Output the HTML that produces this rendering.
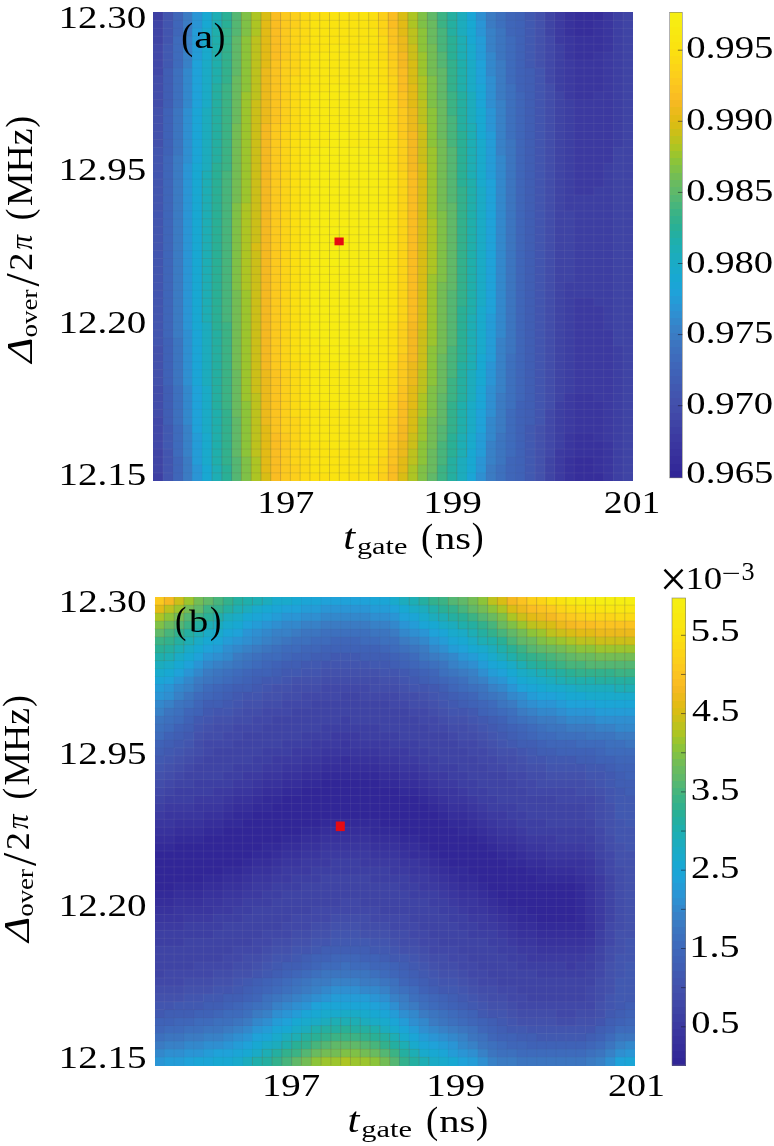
<!DOCTYPE html>
<html><head><meta charset="utf-8"><title>figure</title>
<style>
html,body{margin:0;padding:0;background:#fff}
svg{display:block}
text{font-family:"Liberation Serif","DejaVu Serif",serif;fill:#000}
</style></head><body>
<svg width="774" height="1146" viewBox="0 0 774 1146">
<rect width="774" height="1146" fill="#fff"/>
<g shape-rendering="crispEdges">
<rect x="153.30" y="12.40" width="10.09" height="8.24" fill="#3d3fa3"/>
<rect x="153.30" y="20.34" width="10.09" height="24.12" fill="#3f44a5"/>
<rect x="153.30" y="44.16" width="10.09" height="32.06" fill="#4148a8"/>
<rect x="153.30" y="75.91" width="10.09" height="32.06" fill="#424daa"/>
<rect x="153.30" y="107.67" width="10.09" height="39.99" fill="#4351ac"/>
<rect x="153.30" y="147.36" width="10.09" height="198.77" fill="#4255af"/>
<rect x="153.30" y="345.84" width="10.09" height="39.99" fill="#4351ac"/>
<rect x="153.30" y="385.53" width="10.09" height="32.06" fill="#424daa"/>
<rect x="153.30" y="417.29" width="10.09" height="32.06" fill="#4148a8"/>
<rect x="153.30" y="449.04" width="10.09" height="24.12" fill="#3f44a5"/>
<rect x="153.30" y="472.86" width="10.09" height="8.24" fill="#3d3fa3"/>
<rect x="163.09" y="12.40" width="10.09" height="32.06" fill="#4255af"/>
<rect x="163.09" y="44.16" width="10.09" height="24.12" fill="#4159b1"/>
<rect x="163.09" y="67.97" width="10.09" height="39.99" fill="#405eb4"/>
<rect x="163.09" y="107.67" width="10.09" height="47.93" fill="#3f62b7"/>
<rect x="163.09" y="155.30" width="10.09" height="182.90" fill="#3f66b9"/>
<rect x="163.09" y="337.90" width="10.09" height="47.93" fill="#3f62b7"/>
<rect x="163.09" y="385.53" width="10.09" height="39.99" fill="#405eb4"/>
<rect x="163.09" y="425.23" width="10.09" height="24.12" fill="#4159b1"/>
<rect x="163.09" y="449.04" width="10.09" height="32.06" fill="#4255af"/>
<rect x="172.88" y="12.40" width="10.09" height="24.12" fill="#3f66b9"/>
<rect x="172.88" y="36.22" width="10.09" height="32.06" fill="#3e6bbc"/>
<rect x="172.88" y="67.97" width="10.09" height="39.99" fill="#3d70be"/>
<rect x="172.88" y="107.67" width="10.09" height="47.93" fill="#3c75c0"/>
<rect x="172.88" y="155.30" width="10.09" height="182.90" fill="#3b7bc3"/>
<rect x="172.88" y="337.90" width="10.09" height="47.93" fill="#3c75c0"/>
<rect x="172.88" y="385.53" width="10.09" height="39.99" fill="#3d70be"/>
<rect x="172.88" y="425.23" width="10.09" height="32.06" fill="#3e6bbc"/>
<rect x="172.88" y="456.98" width="10.09" height="24.12" fill="#3f66b9"/>
<rect x="182.67" y="12.40" width="10.09" height="24.12" fill="#3b7bc3"/>
<rect x="182.67" y="36.22" width="10.09" height="32.06" fill="#3881c7"/>
<rect x="182.67" y="67.97" width="10.09" height="39.99" fill="#3388cc"/>
<rect x="182.67" y="107.67" width="10.09" height="55.87" fill="#2f8fd1"/>
<rect x="182.67" y="163.24" width="10.09" height="167.02" fill="#2a95d5"/>
<rect x="182.67" y="329.96" width="10.09" height="55.87" fill="#2f8fd1"/>
<rect x="182.67" y="385.53" width="10.09" height="39.99" fill="#3388cc"/>
<rect x="182.67" y="425.23" width="10.09" height="32.06" fill="#3881c7"/>
<rect x="182.67" y="456.98" width="10.09" height="24.12" fill="#3b7bc3"/>
<rect x="192.46" y="12.40" width="10.09" height="16.18" fill="#2a95d5"/>
<rect x="192.46" y="28.28" width="10.09" height="32.06" fill="#249cd7"/>
<rect x="192.46" y="60.03" width="10.09" height="47.93" fill="#1fa2d9"/>
<rect x="192.46" y="107.67" width="10.09" height="55.87" fill="#1ba5d6"/>
<rect x="192.46" y="163.24" width="10.09" height="167.02" fill="#18a8d2"/>
<rect x="192.46" y="329.96" width="10.09" height="55.87" fill="#1ba5d6"/>
<rect x="192.46" y="385.53" width="10.09" height="47.93" fill="#1fa2d9"/>
<rect x="192.46" y="433.17" width="10.09" height="32.06" fill="#249cd7"/>
<rect x="192.46" y="464.92" width="10.09" height="16.18" fill="#2a95d5"/>
<rect x="202.25" y="12.40" width="10.09" height="16.18" fill="#18a8d2"/>
<rect x="202.25" y="28.28" width="10.09" height="32.06" fill="#19aacc"/>
<rect x="202.25" y="60.03" width="10.09" height="47.93" fill="#1aabc6"/>
<rect x="202.25" y="107.67" width="10.09" height="63.81" fill="#1cacbd"/>
<rect x="202.25" y="171.18" width="10.09" height="151.14" fill="#1daeb5"/>
<rect x="202.25" y="322.02" width="10.09" height="63.81" fill="#1cacbd"/>
<rect x="202.25" y="385.53" width="10.09" height="47.93" fill="#1aabc6"/>
<rect x="202.25" y="433.17" width="10.09" height="32.06" fill="#19aacc"/>
<rect x="202.25" y="464.92" width="10.09" height="16.18" fill="#18a8d2"/>
<rect x="212.04" y="12.40" width="10.09" height="16.18" fill="#1daeb5"/>
<rect x="212.04" y="28.28" width="10.09" height="55.87" fill="#1fafac"/>
<rect x="212.04" y="83.85" width="10.09" height="79.69" fill="#24afa1"/>
<rect x="212.04" y="163.24" width="10.09" height="167.02" fill="#29b096"/>
<rect x="212.04" y="329.96" width="10.09" height="79.69" fill="#24afa1"/>
<rect x="212.04" y="409.35" width="10.09" height="55.87" fill="#1fafac"/>
<rect x="212.04" y="464.92" width="10.09" height="16.18" fill="#1daeb5"/>
<rect x="221.83" y="12.40" width="10.09" height="16.18" fill="#29b096"/>
<rect x="221.83" y="28.28" width="10.09" height="55.87" fill="#32b18d"/>
<rect x="221.83" y="83.85" width="10.09" height="87.63" fill="#3bb385"/>
<rect x="221.83" y="171.18" width="10.09" height="151.14" fill="#47b57c"/>
<rect x="221.83" y="322.02" width="10.09" height="87.63" fill="#3bb385"/>
<rect x="221.83" y="409.35" width="10.09" height="55.87" fill="#32b18d"/>
<rect x="221.83" y="464.92" width="10.09" height="16.18" fill="#29b096"/>
<rect x="231.62" y="12.40" width="10.09" height="24.12" fill="#54b773"/>
<rect x="231.62" y="36.22" width="10.09" height="39.99" fill="#60b969"/>
<rect x="231.62" y="75.91" width="10.09" height="47.93" fill="#69bb60"/>
<rect x="231.62" y="123.55" width="10.09" height="79.69" fill="#73bd55"/>
<rect x="231.62" y="202.94" width="10.09" height="87.63" fill="#7fc147"/>
<rect x="231.62" y="290.26" width="10.09" height="79.69" fill="#73bd55"/>
<rect x="231.62" y="369.65" width="10.09" height="47.93" fill="#69bb60"/>
<rect x="231.62" y="417.29" width="10.09" height="39.99" fill="#60b969"/>
<rect x="231.62" y="456.98" width="10.09" height="24.12" fill="#54b773"/>
<rect x="241.41" y="12.40" width="10.09" height="24.12" fill="#7fc147"/>
<rect x="241.41" y="36.22" width="10.09" height="55.87" fill="#8cc439"/>
<rect x="241.41" y="91.79" width="10.09" height="111.45" fill="#9cc52d"/>
<rect x="241.41" y="202.94" width="10.09" height="87.63" fill="#adc523"/>
<rect x="241.41" y="290.26" width="10.09" height="111.45" fill="#9cc52d"/>
<rect x="241.41" y="401.41" width="10.09" height="55.87" fill="#8cc439"/>
<rect x="241.41" y="456.98" width="10.09" height="24.12" fill="#7fc147"/>
<rect x="251.20" y="12.40" width="10.09" height="24.12" fill="#adc523"/>
<rect x="251.20" y="36.22" width="10.09" height="63.81" fill="#bdc21d"/>
<rect x="251.20" y="99.73" width="10.09" height="143.20" fill="#ccbf18"/>
<rect x="251.20" y="242.63" width="10.09" height="8.24" fill="#d9bd14"/>
<rect x="251.20" y="250.57" width="10.09" height="143.20" fill="#ccbf18"/>
<rect x="251.20" y="393.47" width="10.09" height="63.81" fill="#bdc21d"/>
<rect x="251.20" y="456.98" width="10.09" height="24.12" fill="#adc523"/>
<rect x="260.99" y="12.40" width="10.09" height="8.24" fill="#d9bd14"/>
<rect x="260.99" y="20.34" width="10.09" height="47.93" fill="#e3bb15"/>
<rect x="260.99" y="67.97" width="10.09" height="55.87" fill="#ecba1b"/>
<rect x="260.99" y="123.55" width="10.09" height="246.41" fill="#f5b921"/>
<rect x="260.99" y="369.65" width="10.09" height="55.87" fill="#ecba1b"/>
<rect x="260.99" y="425.23" width="10.09" height="47.93" fill="#e3bb15"/>
<rect x="260.99" y="472.86" width="10.09" height="8.24" fill="#d9bd14"/>
<rect x="270.78" y="12.40" width="10.09" height="47.93" fill="#fabd22"/>
<rect x="270.78" y="60.03" width="10.09" height="63.81" fill="#fbc320"/>
<rect x="270.78" y="123.55" width="10.09" height="246.41" fill="#fcc91e"/>
<rect x="270.78" y="369.65" width="10.09" height="63.81" fill="#fbc320"/>
<rect x="270.78" y="433.17" width="10.09" height="47.93" fill="#fabd22"/>
<rect x="280.57" y="12.40" width="10.09" height="47.93" fill="#fcc91e"/>
<rect x="280.57" y="60.03" width="10.09" height="63.81" fill="#fccf1b"/>
<rect x="280.57" y="123.55" width="10.09" height="246.41" fill="#fcd417"/>
<rect x="280.57" y="369.65" width="10.09" height="63.81" fill="#fccf1b"/>
<rect x="280.57" y="433.17" width="10.09" height="47.93" fill="#fcc91e"/>
<rect x="290.36" y="12.40" width="10.09" height="16.18" fill="#fccf1b"/>
<rect x="290.36" y="28.28" width="10.09" height="47.93" fill="#fcd417"/>
<rect x="290.36" y="75.91" width="10.09" height="55.87" fill="#fbda14"/>
<rect x="290.36" y="131.48" width="10.09" height="230.53" fill="#fbdf11"/>
<rect x="290.36" y="361.72" width="10.09" height="55.87" fill="#fbda14"/>
<rect x="290.36" y="417.29" width="10.09" height="47.93" fill="#fcd417"/>
<rect x="290.36" y="464.92" width="10.09" height="16.18" fill="#fccf1b"/>
<rect x="300.15" y="12.40" width="10.09" height="32.06" fill="#fbda14"/>
<rect x="300.15" y="44.16" width="10.09" height="39.99" fill="#fbdf11"/>
<rect x="300.15" y="83.85" width="10.09" height="55.87" fill="#fae310"/>
<rect x="300.15" y="139.42" width="10.09" height="214.65" fill="#f9e611"/>
<rect x="300.15" y="353.78" width="10.09" height="55.87" fill="#fae310"/>
<rect x="300.15" y="409.35" width="10.09" height="39.99" fill="#fbdf11"/>
<rect x="300.15" y="449.04" width="10.09" height="32.06" fill="#fbda14"/>
<rect x="309.94" y="12.40" width="10.09" height="8.24" fill="#fbdf11"/>
<rect x="309.94" y="20.34" width="10.09" height="32.06" fill="#fae310"/>
<rect x="309.94" y="52.09" width="10.09" height="39.99" fill="#f9e611"/>
<rect x="309.94" y="91.79" width="10.09" height="63.81" fill="#f8e911"/>
<rect x="309.94" y="155.30" width="10.09" height="182.90" fill="#f7ec12"/>
<rect x="309.94" y="337.90" width="10.09" height="63.81" fill="#f8e911"/>
<rect x="309.94" y="401.41" width="10.09" height="39.99" fill="#f9e611"/>
<rect x="309.94" y="441.11" width="10.09" height="32.06" fill="#fae310"/>
<rect x="309.94" y="472.86" width="10.09" height="8.24" fill="#fbdf11"/>
<rect x="319.73" y="12.40" width="10.09" height="8.24" fill="#fbdf11"/>
<rect x="319.73" y="20.34" width="10.09" height="32.06" fill="#fae310"/>
<rect x="319.73" y="52.09" width="10.09" height="39.99" fill="#f9e611"/>
<rect x="319.73" y="91.79" width="10.09" height="55.87" fill="#f8e911"/>
<rect x="319.73" y="147.36" width="10.09" height="198.77" fill="#f7ec12"/>
<rect x="319.73" y="345.84" width="10.09" height="55.87" fill="#f8e911"/>
<rect x="319.73" y="401.41" width="10.09" height="39.99" fill="#f9e611"/>
<rect x="319.73" y="441.11" width="10.09" height="32.06" fill="#fae310"/>
<rect x="319.73" y="472.86" width="10.09" height="8.24" fill="#fbdf11"/>
<rect x="329.52" y="12.40" width="10.09" height="32.06" fill="#fae310"/>
<rect x="329.52" y="44.16" width="10.09" height="39.99" fill="#f9e611"/>
<rect x="329.52" y="83.85" width="10.09" height="47.93" fill="#f8e911"/>
<rect x="329.52" y="131.48" width="10.09" height="95.57" fill="#f7ec12"/>
<rect x="329.52" y="226.75" width="10.09" height="39.99" fill="#f6ee12"/>
<rect x="329.52" y="266.45" width="10.09" height="95.57" fill="#f7ec12"/>
<rect x="329.52" y="361.72" width="10.09" height="47.93" fill="#f8e911"/>
<rect x="329.52" y="409.35" width="10.09" height="39.99" fill="#f9e611"/>
<rect x="329.52" y="449.04" width="10.09" height="32.06" fill="#fae310"/>
<rect x="339.31" y="12.40" width="10.09" height="32.06" fill="#fae310"/>
<rect x="339.31" y="44.16" width="10.09" height="39.99" fill="#f9e611"/>
<rect x="339.31" y="83.85" width="10.09" height="47.93" fill="#f8e911"/>
<rect x="339.31" y="131.48" width="10.09" height="95.57" fill="#f7ec12"/>
<rect x="339.31" y="226.75" width="10.09" height="39.99" fill="#f6ee12"/>
<rect x="339.31" y="266.45" width="10.09" height="95.57" fill="#f7ec12"/>
<rect x="339.31" y="361.72" width="10.09" height="47.93" fill="#f8e911"/>
<rect x="339.31" y="409.35" width="10.09" height="39.99" fill="#f9e611"/>
<rect x="339.31" y="449.04" width="10.09" height="32.06" fill="#fae310"/>
<rect x="349.10" y="12.40" width="10.09" height="8.24" fill="#fbdf11"/>
<rect x="349.10" y="20.34" width="10.09" height="32.06" fill="#fae310"/>
<rect x="349.10" y="52.09" width="10.09" height="39.99" fill="#f9e611"/>
<rect x="349.10" y="91.79" width="10.09" height="55.87" fill="#f8e911"/>
<rect x="349.10" y="147.36" width="10.09" height="198.77" fill="#f7ec12"/>
<rect x="349.10" y="345.84" width="10.09" height="55.87" fill="#f8e911"/>
<rect x="349.10" y="401.41" width="10.09" height="39.99" fill="#f9e611"/>
<rect x="349.10" y="441.11" width="10.09" height="32.06" fill="#fae310"/>
<rect x="349.10" y="472.86" width="10.09" height="8.24" fill="#fbdf11"/>
<rect x="358.89" y="12.40" width="10.09" height="32.06" fill="#fae310"/>
<rect x="358.89" y="44.16" width="10.09" height="39.99" fill="#f9e611"/>
<rect x="358.89" y="83.85" width="10.09" height="63.81" fill="#f8e911"/>
<rect x="358.89" y="147.36" width="10.09" height="198.77" fill="#f7ec12"/>
<rect x="358.89" y="345.84" width="10.09" height="63.81" fill="#f8e911"/>
<rect x="358.89" y="409.35" width="10.09" height="39.99" fill="#f9e611"/>
<rect x="358.89" y="449.04" width="10.09" height="32.06" fill="#fae310"/>
<rect x="368.68" y="12.40" width="10.09" height="16.18" fill="#fbdf11"/>
<rect x="368.68" y="28.28" width="10.09" height="32.06" fill="#fae310"/>
<rect x="368.68" y="60.03" width="10.09" height="39.99" fill="#f9e611"/>
<rect x="368.68" y="99.73" width="10.09" height="55.87" fill="#f8e911"/>
<rect x="368.68" y="155.30" width="10.09" height="182.90" fill="#f7ec12"/>
<rect x="368.68" y="337.90" width="10.09" height="55.87" fill="#f8e911"/>
<rect x="368.68" y="393.47" width="10.09" height="39.99" fill="#f9e611"/>
<rect x="368.68" y="433.17" width="10.09" height="32.06" fill="#fae310"/>
<rect x="368.68" y="464.92" width="10.09" height="16.18" fill="#fbdf11"/>
<rect x="378.47" y="12.40" width="10.09" height="8.24" fill="#fccf1b"/>
<rect x="378.47" y="20.34" width="10.09" height="16.18" fill="#fcd417"/>
<rect x="378.47" y="36.22" width="10.09" height="24.12" fill="#fbda14"/>
<rect x="378.47" y="60.03" width="10.09" height="24.12" fill="#fbdf11"/>
<rect x="378.47" y="83.85" width="10.09" height="32.06" fill="#fae310"/>
<rect x="378.47" y="115.61" width="10.09" height="47.93" fill="#f9e611"/>
<rect x="378.47" y="163.24" width="10.09" height="167.02" fill="#f8e911"/>
<rect x="378.47" y="329.96" width="10.09" height="47.93" fill="#f9e611"/>
<rect x="378.47" y="377.59" width="10.09" height="32.06" fill="#fae310"/>
<rect x="378.47" y="409.35" width="10.09" height="24.12" fill="#fbdf11"/>
<rect x="378.47" y="433.17" width="10.09" height="24.12" fill="#fbda14"/>
<rect x="378.47" y="456.98" width="10.09" height="16.18" fill="#fcd417"/>
<rect x="378.47" y="472.86" width="10.09" height="8.24" fill="#fccf1b"/>
<rect x="388.26" y="12.40" width="10.09" height="16.18" fill="#fabd22"/>
<rect x="388.26" y="28.28" width="10.09" height="16.18" fill="#fbc320"/>
<rect x="388.26" y="44.16" width="10.09" height="16.18" fill="#fcc91e"/>
<rect x="388.26" y="60.03" width="10.09" height="16.18" fill="#fccf1b"/>
<rect x="388.26" y="75.91" width="10.09" height="24.12" fill="#fcd417"/>
<rect x="388.26" y="99.73" width="10.09" height="32.06" fill="#fbda14"/>
<rect x="388.26" y="131.48" width="10.09" height="39.99" fill="#fbdf11"/>
<rect x="388.26" y="171.18" width="10.09" height="151.14" fill="#fae310"/>
<rect x="388.26" y="322.02" width="10.09" height="39.99" fill="#fbdf11"/>
<rect x="388.26" y="361.72" width="10.09" height="32.06" fill="#fbda14"/>
<rect x="388.26" y="393.47" width="10.09" height="24.12" fill="#fcd417"/>
<rect x="388.26" y="417.29" width="10.09" height="16.18" fill="#fccf1b"/>
<rect x="388.26" y="433.17" width="10.09" height="16.18" fill="#fcc91e"/>
<rect x="388.26" y="449.04" width="10.09" height="16.18" fill="#fbc320"/>
<rect x="388.26" y="464.92" width="10.09" height="16.18" fill="#fabd22"/>
<rect x="398.04" y="12.40" width="10.09" height="8.24" fill="#d9bd14"/>
<rect x="398.04" y="20.34" width="10.09" height="16.18" fill="#e3bb15"/>
<rect x="398.04" y="36.22" width="10.09" height="16.18" fill="#ecba1b"/>
<rect x="398.04" y="52.09" width="10.09" height="16.18" fill="#f5b921"/>
<rect x="398.04" y="67.97" width="10.09" height="24.12" fill="#fabd22"/>
<rect x="398.04" y="91.79" width="10.09" height="16.18" fill="#fbc320"/>
<rect x="398.04" y="107.67" width="10.09" height="32.06" fill="#fcc91e"/>
<rect x="398.04" y="139.42" width="10.09" height="32.06" fill="#fccf1b"/>
<rect x="398.04" y="171.18" width="10.09" height="151.14" fill="#fcd417"/>
<rect x="398.04" y="322.02" width="10.09" height="32.06" fill="#fccf1b"/>
<rect x="398.04" y="353.78" width="10.09" height="32.06" fill="#fcc91e"/>
<rect x="398.04" y="385.53" width="10.09" height="16.18" fill="#fbc320"/>
<rect x="398.04" y="401.41" width="10.09" height="24.12" fill="#fabd22"/>
<rect x="398.04" y="425.23" width="10.09" height="16.18" fill="#f5b921"/>
<rect x="398.04" y="441.11" width="10.09" height="16.18" fill="#ecba1b"/>
<rect x="398.04" y="456.98" width="10.09" height="16.18" fill="#e3bb15"/>
<rect x="398.04" y="472.86" width="10.09" height="8.24" fill="#d9bd14"/>
<rect x="407.83" y="12.40" width="10.09" height="16.18" fill="#adc523"/>
<rect x="407.83" y="28.28" width="10.09" height="16.18" fill="#bdc21d"/>
<rect x="407.83" y="44.16" width="10.09" height="16.18" fill="#ccbf18"/>
<rect x="407.83" y="60.03" width="10.09" height="24.12" fill="#d9bd14"/>
<rect x="407.83" y="83.85" width="10.09" height="24.12" fill="#e3bb15"/>
<rect x="407.83" y="107.67" width="10.09" height="24.12" fill="#ecba1b"/>
<rect x="407.83" y="131.48" width="10.09" height="39.99" fill="#f5b921"/>
<rect x="407.83" y="171.18" width="10.09" height="151.14" fill="#fabd22"/>
<rect x="407.83" y="322.02" width="10.09" height="39.99" fill="#f5b921"/>
<rect x="407.83" y="361.72" width="10.09" height="24.12" fill="#ecba1b"/>
<rect x="407.83" y="385.53" width="10.09" height="24.12" fill="#e3bb15"/>
<rect x="407.83" y="409.35" width="10.09" height="24.12" fill="#d9bd14"/>
<rect x="407.83" y="433.17" width="10.09" height="16.18" fill="#ccbf18"/>
<rect x="407.83" y="449.04" width="10.09" height="16.18" fill="#bdc21d"/>
<rect x="407.83" y="464.92" width="10.09" height="16.18" fill="#adc523"/>
<rect x="417.62" y="12.40" width="10.09" height="16.18" fill="#7fc147"/>
<rect x="417.62" y="28.28" width="10.09" height="24.12" fill="#8cc439"/>
<rect x="417.62" y="52.09" width="10.09" height="24.12" fill="#9cc52d"/>
<rect x="417.62" y="75.91" width="10.09" height="24.12" fill="#adc523"/>
<rect x="417.62" y="99.73" width="10.09" height="24.12" fill="#bdc21d"/>
<rect x="417.62" y="123.55" width="10.09" height="39.99" fill="#ccbf18"/>
<rect x="417.62" y="163.24" width="10.09" height="167.02" fill="#d9bd14"/>
<rect x="417.62" y="329.96" width="10.09" height="39.99" fill="#ccbf18"/>
<rect x="417.62" y="369.65" width="10.09" height="24.12" fill="#bdc21d"/>
<rect x="417.62" y="393.47" width="10.09" height="24.12" fill="#adc523"/>
<rect x="417.62" y="417.29" width="10.09" height="24.12" fill="#9cc52d"/>
<rect x="417.62" y="441.11" width="10.09" height="24.12" fill="#8cc439"/>
<rect x="417.62" y="464.92" width="10.09" height="16.18" fill="#7fc147"/>
<rect x="427.41" y="12.40" width="10.09" height="8.24" fill="#60b969"/>
<rect x="427.41" y="20.34" width="10.09" height="24.12" fill="#69bb60"/>
<rect x="427.41" y="44.16" width="10.09" height="32.06" fill="#73bd55"/>
<rect x="427.41" y="75.91" width="10.09" height="32.06" fill="#7fc147"/>
<rect x="427.41" y="107.67" width="10.09" height="39.99" fill="#8cc439"/>
<rect x="427.41" y="147.36" width="10.09" height="71.75" fill="#9cc52d"/>
<rect x="427.41" y="218.81" width="10.09" height="55.87" fill="#adc523"/>
<rect x="427.41" y="274.39" width="10.09" height="71.75" fill="#9cc52d"/>
<rect x="427.41" y="345.84" width="10.09" height="39.99" fill="#8cc439"/>
<rect x="427.41" y="385.53" width="10.09" height="32.06" fill="#7fc147"/>
<rect x="427.41" y="417.29" width="10.09" height="32.06" fill="#73bd55"/>
<rect x="427.41" y="449.04" width="10.09" height="24.12" fill="#69bb60"/>
<rect x="427.41" y="472.86" width="10.09" height="8.24" fill="#60b969"/>
<rect x="437.20" y="12.40" width="10.09" height="16.18" fill="#3bb385"/>
<rect x="437.20" y="28.28" width="10.09" height="24.12" fill="#47b57c"/>
<rect x="437.20" y="52.09" width="10.09" height="16.18" fill="#54b773"/>
<rect x="437.20" y="67.97" width="10.09" height="32.06" fill="#60b969"/>
<rect x="437.20" y="99.73" width="10.09" height="39.99" fill="#69bb60"/>
<rect x="437.20" y="139.42" width="10.09" height="71.75" fill="#73bd55"/>
<rect x="437.20" y="210.87" width="10.09" height="71.75" fill="#7fc147"/>
<rect x="437.20" y="282.33" width="10.09" height="71.75" fill="#73bd55"/>
<rect x="437.20" y="353.78" width="10.09" height="39.99" fill="#69bb60"/>
<rect x="437.20" y="393.47" width="10.09" height="32.06" fill="#60b969"/>
<rect x="437.20" y="425.23" width="10.09" height="16.18" fill="#54b773"/>
<rect x="437.20" y="441.11" width="10.09" height="24.12" fill="#47b57c"/>
<rect x="437.20" y="464.92" width="10.09" height="16.18" fill="#3bb385"/>
<rect x="446.99" y="12.40" width="10.09" height="24.12" fill="#24afa1"/>
<rect x="446.99" y="36.22" width="10.09" height="24.12" fill="#29b096"/>
<rect x="446.99" y="60.03" width="10.09" height="32.06" fill="#32b18d"/>
<rect x="446.99" y="91.79" width="10.09" height="24.12" fill="#3bb385"/>
<rect x="446.99" y="115.61" width="10.09" height="32.06" fill="#47b57c"/>
<rect x="446.99" y="147.36" width="10.09" height="55.87" fill="#54b773"/>
<rect x="446.99" y="202.94" width="10.09" height="87.63" fill="#60b969"/>
<rect x="446.99" y="290.26" width="10.09" height="55.87" fill="#54b773"/>
<rect x="446.99" y="345.84" width="10.09" height="32.06" fill="#47b57c"/>
<rect x="446.99" y="377.59" width="10.09" height="24.12" fill="#3bb385"/>
<rect x="446.99" y="401.41" width="10.09" height="32.06" fill="#32b18d"/>
<rect x="446.99" y="433.17" width="10.09" height="24.12" fill="#29b096"/>
<rect x="446.99" y="456.98" width="10.09" height="24.12" fill="#24afa1"/>
<rect x="456.78" y="12.40" width="10.09" height="24.12" fill="#1cacbd"/>
<rect x="456.78" y="36.22" width="10.09" height="24.12" fill="#1daeb5"/>
<rect x="456.78" y="60.03" width="10.09" height="32.06" fill="#1fafac"/>
<rect x="456.78" y="91.79" width="10.09" height="39.99" fill="#24afa1"/>
<rect x="456.78" y="131.48" width="10.09" height="55.87" fill="#29b096"/>
<rect x="456.78" y="187.06" width="10.09" height="119.38" fill="#32b18d"/>
<rect x="456.78" y="306.14" width="10.09" height="55.87" fill="#29b096"/>
<rect x="456.78" y="361.72" width="10.09" height="39.99" fill="#24afa1"/>
<rect x="456.78" y="401.41" width="10.09" height="32.06" fill="#1fafac"/>
<rect x="456.78" y="433.17" width="10.09" height="24.12" fill="#1daeb5"/>
<rect x="456.78" y="456.98" width="10.09" height="24.12" fill="#1cacbd"/>
<rect x="466.57" y="12.40" width="10.09" height="8.24" fill="#1ba5d6"/>
<rect x="466.57" y="20.34" width="10.09" height="24.12" fill="#18a8d2"/>
<rect x="466.57" y="44.16" width="10.09" height="16.18" fill="#19aacc"/>
<rect x="466.57" y="60.03" width="10.09" height="32.06" fill="#1aabc6"/>
<rect x="466.57" y="91.79" width="10.09" height="32.06" fill="#1cacbd"/>
<rect x="466.57" y="123.55" width="10.09" height="55.87" fill="#1daeb5"/>
<rect x="466.57" y="179.12" width="10.09" height="135.26" fill="#1fafac"/>
<rect x="466.57" y="314.08" width="10.09" height="55.87" fill="#1daeb5"/>
<rect x="466.57" y="369.65" width="10.09" height="32.06" fill="#1cacbd"/>
<rect x="466.57" y="401.41" width="10.09" height="32.06" fill="#1aabc6"/>
<rect x="466.57" y="433.17" width="10.09" height="16.18" fill="#19aacc"/>
<rect x="466.57" y="449.04" width="10.09" height="24.12" fill="#18a8d2"/>
<rect x="466.57" y="472.86" width="10.09" height="8.24" fill="#1ba5d6"/>
<rect x="476.36" y="12.40" width="10.09" height="8.24" fill="#2f8fd1"/>
<rect x="476.36" y="20.34" width="10.09" height="16.18" fill="#2a95d5"/>
<rect x="476.36" y="36.22" width="10.09" height="24.12" fill="#249cd7"/>
<rect x="476.36" y="60.03" width="10.09" height="24.12" fill="#1fa2d9"/>
<rect x="476.36" y="83.85" width="10.09" height="24.12" fill="#1ba5d6"/>
<rect x="476.36" y="107.67" width="10.09" height="32.06" fill="#18a8d2"/>
<rect x="476.36" y="139.42" width="10.09" height="47.93" fill="#19aacc"/>
<rect x="476.36" y="187.06" width="10.09" height="119.38" fill="#1aabc6"/>
<rect x="476.36" y="306.14" width="10.09" height="47.93" fill="#19aacc"/>
<rect x="476.36" y="353.78" width="10.09" height="32.06" fill="#18a8d2"/>
<rect x="476.36" y="385.53" width="10.09" height="24.12" fill="#1ba5d6"/>
<rect x="476.36" y="409.35" width="10.09" height="24.12" fill="#1fa2d9"/>
<rect x="476.36" y="433.17" width="10.09" height="24.12" fill="#249cd7"/>
<rect x="476.36" y="456.98" width="10.09" height="16.18" fill="#2a95d5"/>
<rect x="476.36" y="472.86" width="10.09" height="8.24" fill="#2f8fd1"/>
<rect x="486.15" y="12.40" width="10.09" height="16.18" fill="#3b7bc3"/>
<rect x="486.15" y="28.28" width="10.09" height="24.12" fill="#3881c7"/>
<rect x="486.15" y="52.09" width="10.09" height="24.12" fill="#3388cc"/>
<rect x="486.15" y="75.91" width="10.09" height="32.06" fill="#2f8fd1"/>
<rect x="486.15" y="107.67" width="10.09" height="24.12" fill="#2a95d5"/>
<rect x="486.15" y="131.48" width="10.09" height="47.93" fill="#249cd7"/>
<rect x="486.15" y="179.12" width="10.09" height="135.26" fill="#1fa2d9"/>
<rect x="486.15" y="314.08" width="10.09" height="47.93" fill="#249cd7"/>
<rect x="486.15" y="361.72" width="10.09" height="24.12" fill="#2a95d5"/>
<rect x="486.15" y="385.53" width="10.09" height="32.06" fill="#2f8fd1"/>
<rect x="486.15" y="417.29" width="10.09" height="24.12" fill="#3388cc"/>
<rect x="486.15" y="441.11" width="10.09" height="24.12" fill="#3881c7"/>
<rect x="486.15" y="464.92" width="10.09" height="16.18" fill="#3b7bc3"/>
<rect x="495.94" y="12.40" width="10.09" height="16.18" fill="#3d70be"/>
<rect x="495.94" y="28.28" width="10.09" height="32.06" fill="#3c75c0"/>
<rect x="495.94" y="60.03" width="10.09" height="39.99" fill="#3b7bc3"/>
<rect x="495.94" y="99.73" width="10.09" height="55.87" fill="#3881c7"/>
<rect x="495.94" y="155.30" width="10.09" height="182.90" fill="#3388cc"/>
<rect x="495.94" y="337.90" width="10.09" height="55.87" fill="#3881c7"/>
<rect x="495.94" y="393.47" width="10.09" height="39.99" fill="#3b7bc3"/>
<rect x="495.94" y="433.17" width="10.09" height="32.06" fill="#3c75c0"/>
<rect x="495.94" y="464.92" width="10.09" height="16.18" fill="#3d70be"/>
<rect x="505.73" y="12.40" width="10.09" height="24.12" fill="#3f66b9"/>
<rect x="505.73" y="36.22" width="10.09" height="47.93" fill="#3e6bbc"/>
<rect x="505.73" y="83.85" width="10.09" height="55.87" fill="#3d70be"/>
<rect x="505.73" y="139.42" width="10.09" height="214.65" fill="#3c75c0"/>
<rect x="505.73" y="353.78" width="10.09" height="55.87" fill="#3d70be"/>
<rect x="505.73" y="409.35" width="10.09" height="47.93" fill="#3e6bbc"/>
<rect x="505.73" y="456.98" width="10.09" height="24.12" fill="#3f66b9"/>
<rect x="515.52" y="12.40" width="10.09" height="79.69" fill="#3f62b7"/>
<rect x="515.52" y="91.79" width="10.09" height="309.92" fill="#3f66b9"/>
<rect x="515.52" y="401.41" width="10.09" height="79.69" fill="#3f62b7"/>
<rect x="525.31" y="12.40" width="10.09" height="55.87" fill="#4159b1"/>
<rect x="525.31" y="67.97" width="10.09" height="357.55" fill="#405eb4"/>
<rect x="525.31" y="425.23" width="10.09" height="55.87" fill="#4159b1"/>
<rect x="535.10" y="12.40" width="10.09" height="55.87" fill="#4351ac"/>
<rect x="535.10" y="67.97" width="10.09" height="357.55" fill="#4255af"/>
<rect x="535.10" y="425.23" width="10.09" height="55.87" fill="#4351ac"/>
<rect x="544.89" y="12.40" width="10.09" height="24.12" fill="#3f44a5"/>
<rect x="544.89" y="36.22" width="10.09" height="47.93" fill="#4148a8"/>
<rect x="544.89" y="83.85" width="10.09" height="325.80" fill="#424daa"/>
<rect x="544.89" y="409.35" width="10.09" height="47.93" fill="#4148a8"/>
<rect x="544.89" y="456.98" width="10.09" height="24.12" fill="#3f44a5"/>
<rect x="554.68" y="12.40" width="10.09" height="32.06" fill="#3c3aa1"/>
<rect x="554.68" y="44.16" width="10.09" height="47.93" fill="#3d3fa3"/>
<rect x="554.68" y="91.79" width="10.09" height="309.92" fill="#3f44a5"/>
<rect x="554.68" y="401.41" width="10.09" height="47.93" fill="#3d3fa3"/>
<rect x="554.68" y="449.04" width="10.09" height="32.06" fill="#3c3aa1"/>
<rect x="564.47" y="12.40" width="10.09" height="24.12" fill="#38329d"/>
<rect x="564.47" y="36.22" width="10.09" height="24.12" fill="#3a369f"/>
<rect x="564.47" y="60.03" width="10.09" height="39.99" fill="#3c3aa1"/>
<rect x="564.47" y="99.73" width="10.09" height="111.45" fill="#3d3fa3"/>
<rect x="564.47" y="210.87" width="10.09" height="71.75" fill="#3f44a5"/>
<rect x="564.47" y="282.33" width="10.09" height="111.45" fill="#3d3fa3"/>
<rect x="564.47" y="393.47" width="10.09" height="39.99" fill="#3c3aa1"/>
<rect x="564.47" y="433.17" width="10.09" height="24.12" fill="#3a369f"/>
<rect x="564.47" y="456.98" width="10.09" height="24.12" fill="#38329d"/>
<rect x="574.26" y="12.40" width="10.09" height="24.12" fill="#362e9b"/>
<rect x="574.26" y="36.22" width="10.09" height="24.12" fill="#38329d"/>
<rect x="574.26" y="60.03" width="10.09" height="39.99" fill="#3a369f"/>
<rect x="574.26" y="99.73" width="10.09" height="95.57" fill="#3c3aa1"/>
<rect x="574.26" y="195.00" width="10.09" height="103.51" fill="#3d3fa3"/>
<rect x="574.26" y="298.20" width="10.09" height="95.57" fill="#3c3aa1"/>
<rect x="574.26" y="393.47" width="10.09" height="39.99" fill="#3a369f"/>
<rect x="574.26" y="433.17" width="10.09" height="24.12" fill="#38329d"/>
<rect x="574.26" y="456.98" width="10.09" height="24.12" fill="#362e9b"/>
<rect x="584.05" y="12.40" width="10.09" height="24.12" fill="#362e9b"/>
<rect x="584.05" y="36.22" width="10.09" height="24.12" fill="#38329d"/>
<rect x="584.05" y="60.03" width="10.09" height="39.99" fill="#3a369f"/>
<rect x="584.05" y="99.73" width="10.09" height="95.57" fill="#3c3aa1"/>
<rect x="584.05" y="195.00" width="10.09" height="103.51" fill="#3d3fa3"/>
<rect x="584.05" y="298.20" width="10.09" height="95.57" fill="#3c3aa1"/>
<rect x="584.05" y="393.47" width="10.09" height="39.99" fill="#3a369f"/>
<rect x="584.05" y="433.17" width="10.09" height="24.12" fill="#38329d"/>
<rect x="584.05" y="456.98" width="10.09" height="24.12" fill="#362e9b"/>
<rect x="593.84" y="12.40" width="10.09" height="8.24" fill="#362e9b"/>
<rect x="593.84" y="20.34" width="10.09" height="32.06" fill="#38329d"/>
<rect x="593.84" y="52.09" width="10.09" height="39.99" fill="#3a369f"/>
<rect x="593.84" y="91.79" width="10.09" height="95.57" fill="#3c3aa1"/>
<rect x="593.84" y="187.06" width="10.09" height="119.38" fill="#3d3fa3"/>
<rect x="593.84" y="306.14" width="10.09" height="95.57" fill="#3c3aa1"/>
<rect x="593.84" y="401.41" width="10.09" height="39.99" fill="#3a369f"/>
<rect x="593.84" y="441.11" width="10.09" height="32.06" fill="#38329d"/>
<rect x="593.84" y="472.86" width="10.09" height="8.24" fill="#362e9b"/>
<rect x="603.63" y="12.40" width="10.09" height="39.99" fill="#3a369f"/>
<rect x="603.63" y="52.09" width="10.09" height="111.45" fill="#3c3aa1"/>
<rect x="603.63" y="163.24" width="10.09" height="167.02" fill="#3d3fa3"/>
<rect x="603.63" y="329.96" width="10.09" height="111.45" fill="#3c3aa1"/>
<rect x="603.63" y="441.11" width="10.09" height="39.99" fill="#3a369f"/>
<rect x="613.42" y="12.40" width="10.09" height="135.26" fill="#3d3fa3"/>
<rect x="613.42" y="147.36" width="10.09" height="198.77" fill="#3f44a5"/>
<rect x="613.42" y="345.84" width="10.09" height="135.26" fill="#3d3fa3"/>
<rect x="623.21" y="12.40" width="10.09" height="468.70" fill="#3f44a5"/>
</g>
<path d="M163.09 12.40V67.97M163.09 425.23V480.80M535.10 12.40V67.97M535.10 425.23V480.80M544.89 12.40V480.80M554.68 12.40V480.80M564.47 12.40V480.80M574.26 12.40V480.80M584.05 12.40V480.80M593.84 12.40V480.80M603.63 12.40V480.80M613.42 12.40V480.80M623.21 12.40V480.80M153.30 20.34H172.88M525.31 20.34H633.00M153.30 28.28H172.88M525.31 28.28H633.00M153.30 36.22H172.88M525.31 36.22H633.00M153.30 44.16H172.88M525.31 44.16H633.00M153.30 52.09H172.88M525.31 52.09H633.00M153.30 60.03H172.88M525.31 60.03H633.00M153.30 67.97H163.09M535.10 67.97H633.00M153.30 75.91H163.09M535.10 75.91H633.00M153.30 83.85H163.09M535.10 83.85H633.00M153.30 91.79H163.09M535.10 91.79H633.00M153.30 99.73H163.09M535.10 99.73H633.00M153.30 107.67H163.09M535.10 107.67H633.00M153.30 115.61H163.09M535.10 115.61H633.00M153.30 123.55H163.09M535.10 123.55H633.00M153.30 131.48H163.09M535.10 131.48H633.00M153.30 139.42H163.09M535.10 139.42H633.00M153.30 147.36H163.09M535.10 147.36H633.00M153.30 155.30H163.09M535.10 155.30H633.00M153.30 163.24H163.09M535.10 163.24H633.00M153.30 171.18H163.09M535.10 171.18H633.00M153.30 179.12H163.09M535.10 179.12H633.00M153.30 187.06H163.09M535.10 187.06H633.00M153.30 195.00H163.09M535.10 195.00H633.00M153.30 202.94H163.09M535.10 202.94H633.00M153.30 210.87H163.09M535.10 210.87H633.00M153.30 218.81H163.09M535.10 218.81H633.00M153.30 226.75H163.09M535.10 226.75H633.00M153.30 234.69H163.09M535.10 234.69H633.00M153.30 242.63H163.09M535.10 242.63H633.00M153.30 250.57H163.09M535.10 250.57H633.00M153.30 258.51H163.09M535.10 258.51H633.00M153.30 266.45H163.09M535.10 266.45H633.00M153.30 274.39H163.09M535.10 274.39H633.00M153.30 282.33H163.09M535.10 282.33H633.00M153.30 290.26H163.09M535.10 290.26H633.00M153.30 298.20H163.09M535.10 298.20H633.00M153.30 306.14H163.09M535.10 306.14H633.00M153.30 314.08H163.09M535.10 314.08H633.00M153.30 322.02H163.09M535.10 322.02H633.00M153.30 329.96H163.09M535.10 329.96H633.00M153.30 337.90H163.09M535.10 337.90H633.00M153.30 345.84H163.09M535.10 345.84H633.00M153.30 353.78H163.09M535.10 353.78H633.00M153.30 361.72H163.09M535.10 361.72H633.00M153.30 369.65H163.09M535.10 369.65H633.00M153.30 377.59H163.09M535.10 377.59H633.00M153.30 385.53H163.09M535.10 385.53H633.00M153.30 393.47H163.09M535.10 393.47H633.00M153.30 401.41H163.09M535.10 401.41H633.00M153.30 409.35H163.09M535.10 409.35H633.00M153.30 417.29H163.09M535.10 417.29H633.00M153.30 425.23H163.09M535.10 425.23H633.00M153.30 433.17H172.88M525.31 433.17H633.00M153.30 441.11H172.88M525.31 441.11H633.00M153.30 449.04H172.88M525.31 449.04H633.00M153.30 456.98H172.88M525.31 456.98H633.00M153.30 464.92H172.88M525.31 464.92H633.00M153.30 472.86H172.88M525.31 472.86H633.00" stroke="#b0b0b8" stroke-opacity="0.16" stroke-width="0.6" fill="none"/>
<path d="M163.09 67.97V425.23M172.88 12.40V480.80M182.67 12.40V480.80M192.46 12.40V480.80M202.25 12.40V171.18M202.25 322.02V480.80M466.57 12.40V36.22M466.57 456.98V480.80M476.36 12.40V123.55M476.36 369.65V480.80M486.15 12.40V480.80M495.94 12.40V480.80M505.73 12.40V480.80M515.52 12.40V480.80M525.31 12.40V480.80M535.10 67.97V425.23M172.88 20.34H212.04M456.78 20.34H525.31M172.88 28.28H212.04M456.78 28.28H525.31M172.88 36.22H212.04M466.57 36.22H525.31M172.88 44.16H212.04M466.57 44.16H525.31M172.88 52.09H212.04M466.57 52.09H525.31M172.88 60.03H212.04M466.57 60.03H525.31M163.09 67.97H212.04M466.57 67.97H535.10M163.09 75.91H212.04M466.57 75.91H535.10M163.09 83.85H212.04M466.57 83.85H535.10M163.09 91.79H212.04M466.57 91.79H535.10M163.09 99.73H212.04M466.57 99.73H535.10M163.09 107.67H212.04M466.57 107.67H535.10M163.09 115.61H212.04M466.57 115.61H535.10M163.09 123.55H212.04M476.36 123.55H535.10M163.09 131.48H212.04M476.36 131.48H535.10M163.09 139.42H212.04M476.36 139.42H535.10M163.09 147.36H212.04M476.36 147.36H535.10M163.09 155.30H212.04M476.36 155.30H535.10M163.09 163.24H212.04M476.36 163.24H535.10M163.09 171.18H202.25M476.36 171.18H535.10M163.09 179.12H202.25M476.36 179.12H535.10M163.09 187.06H202.25M476.36 187.06H535.10M163.09 195.00H202.25M476.36 195.00H535.10M163.09 202.94H202.25M476.36 202.94H535.10M163.09 210.87H202.25M476.36 210.87H535.10M163.09 218.81H202.25M476.36 218.81H535.10M163.09 226.75H202.25M476.36 226.75H535.10M163.09 234.69H202.25M476.36 234.69H535.10M163.09 242.63H202.25M476.36 242.63H535.10M163.09 250.57H202.25M476.36 250.57H535.10M163.09 258.51H202.25M476.36 258.51H535.10M163.09 266.45H202.25M476.36 266.45H535.10M163.09 274.39H202.25M476.36 274.39H535.10M163.09 282.33H202.25M476.36 282.33H535.10M163.09 290.26H202.25M476.36 290.26H535.10M163.09 298.20H202.25M476.36 298.20H535.10M163.09 306.14H202.25M476.36 306.14H535.10M163.09 314.08H202.25M476.36 314.08H535.10M163.09 322.02H202.25M476.36 322.02H535.10M163.09 329.96H212.04M476.36 329.96H535.10M163.09 337.90H212.04M476.36 337.90H535.10M163.09 345.84H212.04M476.36 345.84H535.10M163.09 353.78H212.04M476.36 353.78H535.10M163.09 361.72H212.04M476.36 361.72H535.10M163.09 369.65H212.04M476.36 369.65H535.10M163.09 377.59H212.04M466.57 377.59H535.10M163.09 385.53H212.04M466.57 385.53H535.10M163.09 393.47H212.04M466.57 393.47H535.10M163.09 401.41H212.04M466.57 401.41H535.10M163.09 409.35H212.04M466.57 409.35H535.10M163.09 417.29H212.04M466.57 417.29H535.10M163.09 425.23H212.04M466.57 425.23H535.10M172.88 433.17H212.04M466.57 433.17H525.31M172.88 441.11H212.04M466.57 441.11H525.31M172.88 449.04H212.04M466.57 449.04H525.31M172.88 456.98H212.04M466.57 456.98H525.31M172.88 464.92H212.04M456.78 464.92H525.31M172.88 472.86H212.04M456.78 472.86H525.31" stroke="#5a5a60" stroke-opacity="0.12" stroke-width="0.6" fill="none"/>
<path d="M202.25 171.18V322.02M212.04 12.40V480.80M221.83 12.40V480.80M231.62 12.40V480.80M241.41 12.40V480.80M251.20 12.40V480.80M260.99 12.40V480.80M270.78 12.40V480.80M280.57 12.40V480.80M290.36 12.40V480.80M300.15 12.40V480.80M309.94 12.40V480.80M319.73 12.40V480.80M329.52 12.40V480.80M339.31 12.40V480.80M349.10 12.40V480.80M358.89 12.40V480.80M368.68 12.40V480.80M378.47 12.40V480.80M388.26 12.40V480.80M398.04 12.40V480.80M407.83 12.40V480.80M417.62 12.40V480.80M427.41 12.40V480.80M437.20 12.40V480.80M446.99 12.40V480.80M456.78 12.40V480.80M466.57 36.22V456.98M476.36 123.55V369.65" stroke="#6a6650" stroke-opacity="0.5" stroke-width="0.6" fill="none"/>
<path d="M212.04 20.34H456.78M212.04 28.28H456.78M212.04 36.22H466.57M212.04 44.16H466.57M212.04 52.09H466.57M212.04 60.03H466.57M212.04 67.97H466.57M212.04 75.91H466.57M212.04 83.85H466.57M212.04 91.79H466.57M212.04 99.73H466.57M212.04 107.67H466.57M212.04 115.61H466.57M212.04 123.55H476.36M212.04 131.48H476.36M212.04 139.42H476.36M212.04 147.36H476.36M212.04 155.30H476.36M212.04 163.24H476.36M202.25 171.18H476.36M202.25 179.12H476.36M202.25 187.06H476.36M202.25 195.00H476.36M202.25 202.94H476.36M202.25 210.87H476.36M202.25 218.81H476.36M202.25 226.75H476.36M202.25 234.69H476.36M202.25 242.63H476.36M202.25 250.57H476.36M202.25 258.51H476.36M202.25 266.45H476.36M202.25 274.39H476.36M202.25 282.33H476.36M202.25 290.26H476.36M202.25 298.20H476.36M202.25 306.14H476.36M202.25 314.08H476.36M202.25 322.02H476.36M212.04 329.96H476.36M212.04 337.90H476.36M212.04 345.84H476.36M212.04 353.78H476.36M212.04 361.72H476.36M212.04 369.65H476.36M212.04 377.59H466.57M212.04 385.53H466.57M212.04 393.47H466.57M212.04 401.41H466.57M212.04 409.35H466.57M212.04 417.29H466.57M212.04 425.23H466.57M212.04 433.17H466.57M212.04 441.11H466.57M212.04 449.04H466.57M212.04 456.98H466.57M212.04 464.92H456.78M212.04 472.86H456.78" stroke="#6a6650" stroke-opacity="0.32" stroke-width="0.6" fill="none"/>
<g shape-rendering="crispEdges">
<rect x="154.50" y="597.20" width="10.10" height="8.23" fill="#fcc91e"/>
<rect x="154.50" y="605.13" width="10.10" height="8.23" fill="#e3bb15"/>
<rect x="154.50" y="613.06" width="10.10" height="8.23" fill="#adc523"/>
<rect x="154.50" y="621.00" width="10.10" height="8.23" fill="#7fc147"/>
<rect x="154.50" y="628.93" width="10.10" height="8.23" fill="#60b969"/>
<rect x="154.50" y="636.86" width="10.10" height="8.23" fill="#3bb385"/>
<rect x="154.50" y="644.79" width="10.10" height="8.23" fill="#29b096"/>
<rect x="154.50" y="652.73" width="10.10" height="8.23" fill="#1fafac"/>
<rect x="154.50" y="660.66" width="10.10" height="8.23" fill="#1cacbd"/>
<rect x="154.50" y="668.59" width="10.10" height="8.23" fill="#19aacc"/>
<rect x="154.50" y="676.52" width="10.10" height="8.23" fill="#1ba5d6"/>
<rect x="154.50" y="684.45" width="10.10" height="8.23" fill="#249cd7"/>
<rect x="154.50" y="692.39" width="10.10" height="8.23" fill="#2a95d5"/>
<rect x="154.50" y="700.32" width="10.10" height="8.23" fill="#3388cc"/>
<rect x="154.50" y="708.25" width="10.10" height="8.23" fill="#3881c7"/>
<rect x="154.50" y="716.18" width="10.10" height="8.23" fill="#3c75c0"/>
<rect x="154.50" y="724.12" width="10.10" height="8.23" fill="#3d70be"/>
<rect x="154.50" y="732.05" width="10.10" height="8.23" fill="#3e6bbc"/>
<rect x="154.50" y="739.98" width="10.10" height="8.23" fill="#3f62b7"/>
<rect x="154.50" y="747.91" width="10.10" height="8.23" fill="#405eb4"/>
<rect x="154.50" y="755.84" width="10.10" height="8.23" fill="#4159b1"/>
<rect x="154.50" y="763.78" width="10.10" height="8.23" fill="#4255af"/>
<rect x="154.50" y="771.71" width="10.10" height="8.23" fill="#4351ac"/>
<rect x="154.50" y="779.64" width="10.10" height="8.23" fill="#424daa"/>
<rect x="154.50" y="787.57" width="10.10" height="8.23" fill="#4148a8"/>
<rect x="154.50" y="795.51" width="10.10" height="8.23" fill="#3f44a5"/>
<rect x="154.50" y="803.44" width="10.10" height="8.23" fill="#3d3fa3"/>
<rect x="154.50" y="811.37" width="10.10" height="8.23" fill="#3c3aa1"/>
<rect x="154.50" y="819.30" width="10.10" height="8.23" fill="#3a369f"/>
<rect x="154.50" y="827.23" width="10.10" height="8.23" fill="#38329d"/>
<rect x="154.50" y="835.17" width="10.10" height="8.23" fill="#362e9b"/>
<rect x="154.50" y="843.10" width="10.10" height="8.23" fill="#332a99"/>
<rect x="154.50" y="851.03" width="10.10" height="39.96" fill="#312697"/>
<rect x="154.50" y="890.69" width="10.10" height="8.23" fill="#332a99"/>
<rect x="154.50" y="898.62" width="10.10" height="8.23" fill="#362e9b"/>
<rect x="154.50" y="906.56" width="10.10" height="8.23" fill="#38329d"/>
<rect x="154.50" y="914.49" width="10.10" height="8.23" fill="#3a369f"/>
<rect x="154.50" y="922.42" width="10.10" height="8.23" fill="#3c3aa1"/>
<rect x="154.50" y="930.35" width="10.10" height="16.16" fill="#3d3fa3"/>
<rect x="154.50" y="946.22" width="10.10" height="32.03" fill="#3f44a5"/>
<rect x="154.50" y="977.95" width="10.10" height="8.23" fill="#4148a8"/>
<rect x="154.50" y="985.88" width="10.10" height="8.23" fill="#424daa"/>
<rect x="154.50" y="993.81" width="10.10" height="8.23" fill="#4351ac"/>
<rect x="154.50" y="1001.74" width="10.10" height="8.23" fill="#4255af"/>
<rect x="154.50" y="1009.67" width="10.10" height="8.23" fill="#4159b1"/>
<rect x="154.50" y="1017.61" width="10.10" height="8.23" fill="#3f62b7"/>
<rect x="154.50" y="1025.54" width="10.10" height="8.23" fill="#3f66b9"/>
<rect x="154.50" y="1033.47" width="10.10" height="8.23" fill="#3d70be"/>
<rect x="154.50" y="1041.40" width="10.10" height="8.23" fill="#3b7bc3"/>
<rect x="154.50" y="1049.34" width="10.10" height="8.23" fill="#3388cc"/>
<rect x="154.50" y="1057.27" width="10.10" height="8.23" fill="#2a95d5"/>
<rect x="164.30" y="597.20" width="10.10" height="8.23" fill="#f5b921"/>
<rect x="164.30" y="605.13" width="10.10" height="8.23" fill="#bdc21d"/>
<rect x="164.30" y="613.06" width="10.10" height="8.23" fill="#8cc439"/>
<rect x="164.30" y="621.00" width="10.10" height="8.23" fill="#69bb60"/>
<rect x="164.30" y="628.93" width="10.10" height="8.23" fill="#47b57c"/>
<rect x="164.30" y="636.86" width="10.10" height="8.23" fill="#32b18d"/>
<rect x="164.30" y="644.79" width="10.10" height="8.23" fill="#24afa1"/>
<rect x="164.30" y="652.73" width="10.10" height="8.23" fill="#1daeb5"/>
<rect x="164.30" y="660.66" width="10.10" height="8.23" fill="#1aabc6"/>
<rect x="164.30" y="668.59" width="10.10" height="8.23" fill="#18a8d2"/>
<rect x="164.30" y="676.52" width="10.10" height="8.23" fill="#1fa2d9"/>
<rect x="164.30" y="684.45" width="10.10" height="8.23" fill="#2a95d5"/>
<rect x="164.30" y="692.39" width="10.10" height="8.23" fill="#2f8fd1"/>
<rect x="164.30" y="700.32" width="10.10" height="8.23" fill="#3881c7"/>
<rect x="164.30" y="708.25" width="10.10" height="8.23" fill="#3c75c0"/>
<rect x="164.30" y="716.18" width="10.10" height="8.23" fill="#3d70be"/>
<rect x="164.30" y="724.12" width="10.10" height="8.23" fill="#3e6bbc"/>
<rect x="164.30" y="732.05" width="10.10" height="8.23" fill="#3f62b7"/>
<rect x="164.30" y="739.98" width="10.10" height="8.23" fill="#405eb4"/>
<rect x="164.30" y="747.91" width="10.10" height="8.23" fill="#4159b1"/>
<rect x="164.30" y="755.84" width="10.10" height="8.23" fill="#4255af"/>
<rect x="164.30" y="763.78" width="10.10" height="8.23" fill="#4351ac"/>
<rect x="164.30" y="771.71" width="10.10" height="8.23" fill="#424daa"/>
<rect x="164.30" y="779.64" width="10.10" height="8.23" fill="#4148a8"/>
<rect x="164.30" y="787.57" width="10.10" height="8.23" fill="#3f44a5"/>
<rect x="164.30" y="795.51" width="10.10" height="8.23" fill="#3d3fa3"/>
<rect x="164.30" y="803.44" width="10.10" height="8.23" fill="#3c3aa1"/>
<rect x="164.30" y="811.37" width="10.10" height="16.16" fill="#3a369f"/>
<rect x="164.30" y="827.23" width="10.10" height="8.23" fill="#38329d"/>
<rect x="164.30" y="835.17" width="10.10" height="8.23" fill="#362e9b"/>
<rect x="164.30" y="843.10" width="10.10" height="8.23" fill="#332a99"/>
<rect x="164.30" y="851.03" width="10.10" height="39.96" fill="#312697"/>
<rect x="164.30" y="890.69" width="10.10" height="8.23" fill="#332a99"/>
<rect x="164.30" y="898.62" width="10.10" height="8.23" fill="#362e9b"/>
<rect x="164.30" y="906.56" width="10.10" height="8.23" fill="#38329d"/>
<rect x="164.30" y="914.49" width="10.10" height="8.23" fill="#3a369f"/>
<rect x="164.30" y="922.42" width="10.10" height="8.23" fill="#3c3aa1"/>
<rect x="164.30" y="930.35" width="10.10" height="16.16" fill="#3d3fa3"/>
<rect x="164.30" y="946.22" width="10.10" height="24.10" fill="#3f44a5"/>
<rect x="164.30" y="970.01" width="10.10" height="16.16" fill="#4148a8"/>
<rect x="164.30" y="985.88" width="10.10" height="8.23" fill="#424daa"/>
<rect x="164.30" y="993.81" width="10.10" height="8.23" fill="#4351ac"/>
<rect x="164.30" y="1001.74" width="10.10" height="8.23" fill="#4255af"/>
<rect x="164.30" y="1009.67" width="10.10" height="8.23" fill="#405eb4"/>
<rect x="164.30" y="1017.61" width="10.10" height="8.23" fill="#3f62b7"/>
<rect x="164.30" y="1025.54" width="10.10" height="8.23" fill="#3e6bbc"/>
<rect x="164.30" y="1033.47" width="10.10" height="8.23" fill="#3c75c0"/>
<rect x="164.30" y="1041.40" width="10.10" height="8.23" fill="#3881c7"/>
<rect x="164.30" y="1049.34" width="10.10" height="8.23" fill="#2f8fd1"/>
<rect x="164.30" y="1057.27" width="10.10" height="8.23" fill="#249cd7"/>
<rect x="174.10" y="597.20" width="10.10" height="8.23" fill="#ccbf18"/>
<rect x="174.10" y="605.13" width="10.10" height="8.23" fill="#9cc52d"/>
<rect x="174.10" y="613.06" width="10.10" height="8.23" fill="#73bd55"/>
<rect x="174.10" y="621.00" width="10.10" height="8.23" fill="#54b773"/>
<rect x="174.10" y="628.93" width="10.10" height="8.23" fill="#32b18d"/>
<rect x="174.10" y="636.86" width="10.10" height="8.23" fill="#24afa1"/>
<rect x="174.10" y="644.79" width="10.10" height="8.23" fill="#1daeb5"/>
<rect x="174.10" y="652.73" width="10.10" height="8.23" fill="#1aabc6"/>
<rect x="174.10" y="660.66" width="10.10" height="8.23" fill="#18a8d2"/>
<rect x="174.10" y="668.59" width="10.10" height="8.23" fill="#1fa2d9"/>
<rect x="174.10" y="676.52" width="10.10" height="8.23" fill="#2a95d5"/>
<rect x="174.10" y="684.45" width="10.10" height="8.23" fill="#3388cc"/>
<rect x="174.10" y="692.39" width="10.10" height="8.23" fill="#3881c7"/>
<rect x="174.10" y="700.32" width="10.10" height="8.23" fill="#3c75c0"/>
<rect x="174.10" y="708.25" width="10.10" height="8.23" fill="#3d70be"/>
<rect x="174.10" y="716.18" width="10.10" height="8.23" fill="#3e6bbc"/>
<rect x="174.10" y="724.12" width="10.10" height="8.23" fill="#3f62b7"/>
<rect x="174.10" y="732.05" width="10.10" height="8.23" fill="#405eb4"/>
<rect x="174.10" y="739.98" width="10.10" height="8.23" fill="#4159b1"/>
<rect x="174.10" y="747.91" width="10.10" height="8.23" fill="#4255af"/>
<rect x="174.10" y="755.84" width="10.10" height="8.23" fill="#4351ac"/>
<rect x="174.10" y="763.78" width="10.10" height="8.23" fill="#424daa"/>
<rect x="174.10" y="771.71" width="10.10" height="8.23" fill="#4148a8"/>
<rect x="174.10" y="779.64" width="10.10" height="8.23" fill="#3f44a5"/>
<rect x="174.10" y="787.57" width="10.10" height="16.16" fill="#3d3fa3"/>
<rect x="174.10" y="803.44" width="10.10" height="8.23" fill="#3c3aa1"/>
<rect x="174.10" y="811.37" width="10.10" height="8.23" fill="#3a369f"/>
<rect x="174.10" y="819.30" width="10.10" height="8.23" fill="#38329d"/>
<rect x="174.10" y="827.23" width="10.10" height="8.23" fill="#362e9b"/>
<rect x="174.10" y="835.17" width="10.10" height="8.23" fill="#332a99"/>
<rect x="174.10" y="843.10" width="10.10" height="39.96" fill="#312697"/>
<rect x="174.10" y="882.76" width="10.10" height="8.23" fill="#332a99"/>
<rect x="174.10" y="890.69" width="10.10" height="8.23" fill="#362e9b"/>
<rect x="174.10" y="898.62" width="10.10" height="8.23" fill="#38329d"/>
<rect x="174.10" y="906.56" width="10.10" height="16.16" fill="#3a369f"/>
<rect x="174.10" y="922.42" width="10.10" height="8.23" fill="#3c3aa1"/>
<rect x="174.10" y="930.35" width="10.10" height="16.16" fill="#3d3fa3"/>
<rect x="174.10" y="946.22" width="10.10" height="24.10" fill="#3f44a5"/>
<rect x="174.10" y="970.01" width="10.10" height="16.16" fill="#4148a8"/>
<rect x="174.10" y="985.88" width="10.10" height="8.23" fill="#424daa"/>
<rect x="174.10" y="993.81" width="10.10" height="8.23" fill="#4351ac"/>
<rect x="174.10" y="1001.74" width="10.10" height="8.23" fill="#4159b1"/>
<rect x="174.10" y="1009.67" width="10.10" height="8.23" fill="#405eb4"/>
<rect x="174.10" y="1017.61" width="10.10" height="8.23" fill="#3f66b9"/>
<rect x="174.10" y="1025.54" width="10.10" height="8.23" fill="#3e6bbc"/>
<rect x="174.10" y="1033.47" width="10.10" height="8.23" fill="#3c75c0"/>
<rect x="174.10" y="1041.40" width="10.10" height="8.23" fill="#3881c7"/>
<rect x="174.10" y="1049.34" width="10.10" height="8.23" fill="#2f8fd1"/>
<rect x="174.10" y="1057.27" width="10.10" height="8.23" fill="#249cd7"/>
<rect x="183.89" y="597.20" width="10.10" height="8.23" fill="#9cc52d"/>
<rect x="183.89" y="605.13" width="10.10" height="8.23" fill="#73bd55"/>
<rect x="183.89" y="613.06" width="10.10" height="8.23" fill="#54b773"/>
<rect x="183.89" y="621.00" width="10.10" height="8.23" fill="#3bb385"/>
<rect x="183.89" y="628.93" width="10.10" height="8.23" fill="#24afa1"/>
<rect x="183.89" y="636.86" width="10.10" height="8.23" fill="#1daeb5"/>
<rect x="183.89" y="644.79" width="10.10" height="8.23" fill="#1aabc6"/>
<rect x="183.89" y="652.73" width="10.10" height="8.23" fill="#18a8d2"/>
<rect x="183.89" y="660.66" width="10.10" height="8.23" fill="#1fa2d9"/>
<rect x="183.89" y="668.59" width="10.10" height="8.23" fill="#2a95d5"/>
<rect x="183.89" y="676.52" width="10.10" height="8.23" fill="#3388cc"/>
<rect x="183.89" y="684.45" width="10.10" height="8.23" fill="#3881c7"/>
<rect x="183.89" y="692.39" width="10.10" height="8.23" fill="#3c75c0"/>
<rect x="183.89" y="700.32" width="10.10" height="8.23" fill="#3d70be"/>
<rect x="183.89" y="708.25" width="10.10" height="8.23" fill="#3f66b9"/>
<rect x="183.89" y="716.18" width="10.10" height="8.23" fill="#3f62b7"/>
<rect x="183.89" y="724.12" width="10.10" height="8.23" fill="#405eb4"/>
<rect x="183.89" y="732.05" width="10.10" height="8.23" fill="#4159b1"/>
<rect x="183.89" y="739.98" width="10.10" height="8.23" fill="#4255af"/>
<rect x="183.89" y="747.91" width="10.10" height="8.23" fill="#4351ac"/>
<rect x="183.89" y="755.84" width="10.10" height="8.23" fill="#424daa"/>
<rect x="183.89" y="763.78" width="10.10" height="8.23" fill="#4148a8"/>
<rect x="183.89" y="771.71" width="10.10" height="16.16" fill="#3f44a5"/>
<rect x="183.89" y="787.57" width="10.10" height="16.16" fill="#3d3fa3"/>
<rect x="183.89" y="803.44" width="10.10" height="8.23" fill="#3c3aa1"/>
<rect x="183.89" y="811.37" width="10.10" height="8.23" fill="#3a369f"/>
<rect x="183.89" y="819.30" width="10.10" height="8.23" fill="#38329d"/>
<rect x="183.89" y="827.23" width="10.10" height="8.23" fill="#362e9b"/>
<rect x="183.89" y="835.17" width="10.10" height="8.23" fill="#332a99"/>
<rect x="183.89" y="843.10" width="10.10" height="39.96" fill="#312697"/>
<rect x="183.89" y="882.76" width="10.10" height="8.23" fill="#332a99"/>
<rect x="183.89" y="890.69" width="10.10" height="8.23" fill="#362e9b"/>
<rect x="183.89" y="898.62" width="10.10" height="8.23" fill="#38329d"/>
<rect x="183.89" y="906.56" width="10.10" height="8.23" fill="#3a369f"/>
<rect x="183.89" y="914.49" width="10.10" height="8.23" fill="#3c3aa1"/>
<rect x="183.89" y="922.42" width="10.10" height="16.16" fill="#3d3fa3"/>
<rect x="183.89" y="938.28" width="10.10" height="32.03" fill="#3f44a5"/>
<rect x="183.89" y="970.01" width="10.10" height="8.23" fill="#4148a8"/>
<rect x="183.89" y="977.95" width="10.10" height="8.23" fill="#424daa"/>
<rect x="183.89" y="985.88" width="10.10" height="8.23" fill="#4351ac"/>
<rect x="183.89" y="993.81" width="10.10" height="8.23" fill="#4255af"/>
<rect x="183.89" y="1001.74" width="10.10" height="8.23" fill="#4159b1"/>
<rect x="183.89" y="1009.67" width="10.10" height="8.23" fill="#405eb4"/>
<rect x="183.89" y="1017.61" width="10.10" height="8.23" fill="#3f66b9"/>
<rect x="183.89" y="1025.54" width="10.10" height="8.23" fill="#3d70be"/>
<rect x="183.89" y="1033.47" width="10.10" height="8.23" fill="#3b7bc3"/>
<rect x="183.89" y="1041.40" width="10.10" height="8.23" fill="#3388cc"/>
<rect x="183.89" y="1049.34" width="10.10" height="8.23" fill="#2a95d5"/>
<rect x="183.89" y="1057.27" width="10.10" height="8.23" fill="#1fa2d9"/>
<rect x="193.69" y="597.20" width="10.10" height="8.23" fill="#73bd55"/>
<rect x="193.69" y="605.13" width="10.10" height="8.23" fill="#60b969"/>
<rect x="193.69" y="613.06" width="10.10" height="8.23" fill="#3bb385"/>
<rect x="193.69" y="621.00" width="10.10" height="8.23" fill="#24afa1"/>
<rect x="193.69" y="628.93" width="10.10" height="8.23" fill="#1daeb5"/>
<rect x="193.69" y="636.86" width="10.10" height="8.23" fill="#1aabc6"/>
<rect x="193.69" y="644.79" width="10.10" height="8.23" fill="#18a8d2"/>
<rect x="193.69" y="652.73" width="10.10" height="8.23" fill="#1fa2d9"/>
<rect x="193.69" y="660.66" width="10.10" height="8.23" fill="#2a95d5"/>
<rect x="193.69" y="668.59" width="10.10" height="8.23" fill="#3388cc"/>
<rect x="193.69" y="676.52" width="10.10" height="8.23" fill="#3b7bc3"/>
<rect x="193.69" y="684.45" width="10.10" height="8.23" fill="#3c75c0"/>
<rect x="193.69" y="692.39" width="10.10" height="8.23" fill="#3e6bbc"/>
<rect x="193.69" y="700.32" width="10.10" height="8.23" fill="#3f66b9"/>
<rect x="193.69" y="708.25" width="10.10" height="8.23" fill="#3f62b7"/>
<rect x="193.69" y="716.18" width="10.10" height="8.23" fill="#4159b1"/>
<rect x="193.69" y="724.12" width="10.10" height="8.23" fill="#4255af"/>
<rect x="193.69" y="732.05" width="10.10" height="8.23" fill="#4351ac"/>
<rect x="193.69" y="739.98" width="10.10" height="16.16" fill="#424daa"/>
<rect x="193.69" y="755.84" width="10.10" height="8.23" fill="#4148a8"/>
<rect x="193.69" y="763.78" width="10.10" height="16.16" fill="#3f44a5"/>
<rect x="193.69" y="779.64" width="10.10" height="16.16" fill="#3d3fa3"/>
<rect x="193.69" y="795.51" width="10.10" height="8.23" fill="#3c3aa1"/>
<rect x="193.69" y="803.44" width="10.10" height="16.16" fill="#3a369f"/>
<rect x="193.69" y="819.30" width="10.10" height="8.23" fill="#38329d"/>
<rect x="193.69" y="827.23" width="10.10" height="8.23" fill="#362e9b"/>
<rect x="193.69" y="835.17" width="10.10" height="8.23" fill="#332a99"/>
<rect x="193.69" y="843.10" width="10.10" height="39.96" fill="#312697"/>
<rect x="193.69" y="882.76" width="10.10" height="8.23" fill="#332a99"/>
<rect x="193.69" y="890.69" width="10.10" height="8.23" fill="#362e9b"/>
<rect x="193.69" y="898.62" width="10.10" height="8.23" fill="#38329d"/>
<rect x="193.69" y="906.56" width="10.10" height="8.23" fill="#3a369f"/>
<rect x="193.69" y="914.49" width="10.10" height="8.23" fill="#3c3aa1"/>
<rect x="193.69" y="922.42" width="10.10" height="16.16" fill="#3d3fa3"/>
<rect x="193.69" y="938.28" width="10.10" height="24.10" fill="#3f44a5"/>
<rect x="193.69" y="962.08" width="10.10" height="16.16" fill="#4148a8"/>
<rect x="193.69" y="977.95" width="10.10" height="8.23" fill="#424daa"/>
<rect x="193.69" y="985.88" width="10.10" height="8.23" fill="#4351ac"/>
<rect x="193.69" y="993.81" width="10.10" height="8.23" fill="#4255af"/>
<rect x="193.69" y="1001.74" width="10.10" height="8.23" fill="#4159b1"/>
<rect x="193.69" y="1009.67" width="10.10" height="8.23" fill="#3f62b7"/>
<rect x="193.69" y="1017.61" width="10.10" height="8.23" fill="#3e6bbc"/>
<rect x="193.69" y="1025.54" width="10.10" height="8.23" fill="#3d70be"/>
<rect x="193.69" y="1033.47" width="10.10" height="8.23" fill="#3b7bc3"/>
<rect x="193.69" y="1041.40" width="10.10" height="8.23" fill="#3388cc"/>
<rect x="193.69" y="1049.34" width="10.10" height="8.23" fill="#2a95d5"/>
<rect x="193.69" y="1057.27" width="10.10" height="8.23" fill="#1ba5d6"/>
<rect x="203.49" y="597.20" width="10.10" height="8.23" fill="#60b969"/>
<rect x="203.49" y="605.13" width="10.10" height="8.23" fill="#3bb385"/>
<rect x="203.49" y="613.06" width="10.10" height="8.23" fill="#29b096"/>
<rect x="203.49" y="621.00" width="10.10" height="8.23" fill="#1daeb5"/>
<rect x="203.49" y="628.93" width="10.10" height="8.23" fill="#1aabc6"/>
<rect x="203.49" y="636.86" width="10.10" height="8.23" fill="#18a8d2"/>
<rect x="203.49" y="644.79" width="10.10" height="8.23" fill="#1fa2d9"/>
<rect x="203.49" y="652.73" width="10.10" height="8.23" fill="#2a95d5"/>
<rect x="203.49" y="660.66" width="10.10" height="8.23" fill="#3388cc"/>
<rect x="203.49" y="668.59" width="10.10" height="8.23" fill="#3b7bc3"/>
<rect x="203.49" y="676.52" width="10.10" height="8.23" fill="#3c75c0"/>
<rect x="203.49" y="684.45" width="10.10" height="8.23" fill="#3e6bbc"/>
<rect x="203.49" y="692.39" width="10.10" height="8.23" fill="#3f66b9"/>
<rect x="203.49" y="700.32" width="10.10" height="8.23" fill="#405eb4"/>
<rect x="203.49" y="708.25" width="10.10" height="8.23" fill="#4159b1"/>
<rect x="203.49" y="716.18" width="10.10" height="8.23" fill="#4255af"/>
<rect x="203.49" y="724.12" width="10.10" height="8.23" fill="#4351ac"/>
<rect x="203.49" y="732.05" width="10.10" height="8.23" fill="#424daa"/>
<rect x="203.49" y="739.98" width="10.10" height="16.16" fill="#4148a8"/>
<rect x="203.49" y="755.84" width="10.10" height="24.10" fill="#3f44a5"/>
<rect x="203.49" y="779.64" width="10.10" height="16.16" fill="#3d3fa3"/>
<rect x="203.49" y="795.51" width="10.10" height="8.23" fill="#3c3aa1"/>
<rect x="203.49" y="803.44" width="10.10" height="8.23" fill="#3a369f"/>
<rect x="203.49" y="811.37" width="10.10" height="8.23" fill="#38329d"/>
<rect x="203.49" y="819.30" width="10.10" height="8.23" fill="#362e9b"/>
<rect x="203.49" y="827.23" width="10.10" height="8.23" fill="#332a99"/>
<rect x="203.49" y="835.17" width="10.10" height="39.96" fill="#312697"/>
<rect x="203.49" y="874.83" width="10.10" height="8.23" fill="#332a99"/>
<rect x="203.49" y="882.76" width="10.10" height="8.23" fill="#362e9b"/>
<rect x="203.49" y="890.69" width="10.10" height="8.23" fill="#38329d"/>
<rect x="203.49" y="898.62" width="10.10" height="16.16" fill="#3a369f"/>
<rect x="203.49" y="914.49" width="10.10" height="8.23" fill="#3c3aa1"/>
<rect x="203.49" y="922.42" width="10.10" height="16.16" fill="#3d3fa3"/>
<rect x="203.49" y="938.28" width="10.10" height="24.10" fill="#3f44a5"/>
<rect x="203.49" y="962.08" width="10.10" height="16.16" fill="#4148a8"/>
<rect x="203.49" y="977.95" width="10.10" height="8.23" fill="#424daa"/>
<rect x="203.49" y="985.88" width="10.10" height="8.23" fill="#4351ac"/>
<rect x="203.49" y="993.81" width="10.10" height="8.23" fill="#4159b1"/>
<rect x="203.49" y="1001.74" width="10.10" height="8.23" fill="#405eb4"/>
<rect x="203.49" y="1009.67" width="10.10" height="8.23" fill="#3f62b7"/>
<rect x="203.49" y="1017.61" width="10.10" height="8.23" fill="#3e6bbc"/>
<rect x="203.49" y="1025.54" width="10.10" height="8.23" fill="#3c75c0"/>
<rect x="203.49" y="1033.47" width="10.10" height="8.23" fill="#3881c7"/>
<rect x="203.49" y="1041.40" width="10.10" height="8.23" fill="#2f8fd1"/>
<rect x="203.49" y="1049.34" width="10.10" height="8.23" fill="#249cd7"/>
<rect x="203.49" y="1057.27" width="10.10" height="8.23" fill="#1ba5d6"/>
<rect x="213.29" y="597.20" width="10.10" height="8.23" fill="#47b57c"/>
<rect x="213.29" y="605.13" width="10.10" height="8.23" fill="#32b18d"/>
<rect x="213.29" y="613.06" width="10.10" height="8.23" fill="#1fafac"/>
<rect x="213.29" y="621.00" width="10.10" height="8.23" fill="#1cacbd"/>
<rect x="213.29" y="628.93" width="10.10" height="8.23" fill="#19aacc"/>
<rect x="213.29" y="636.86" width="10.10" height="8.23" fill="#1ba5d6"/>
<rect x="213.29" y="644.79" width="10.10" height="8.23" fill="#249cd7"/>
<rect x="213.29" y="652.73" width="10.10" height="8.23" fill="#2f8fd1"/>
<rect x="213.29" y="660.66" width="10.10" height="8.23" fill="#3881c7"/>
<rect x="213.29" y="668.59" width="10.10" height="8.23" fill="#3c75c0"/>
<rect x="213.29" y="676.52" width="10.10" height="8.23" fill="#3d70be"/>
<rect x="213.29" y="684.45" width="10.10" height="8.23" fill="#3f66b9"/>
<rect x="213.29" y="692.39" width="10.10" height="8.23" fill="#3f62b7"/>
<rect x="213.29" y="700.32" width="10.10" height="8.23" fill="#405eb4"/>
<rect x="213.29" y="708.25" width="10.10" height="8.23" fill="#4255af"/>
<rect x="213.29" y="716.18" width="10.10" height="8.23" fill="#4351ac"/>
<rect x="213.29" y="724.12" width="10.10" height="16.16" fill="#424daa"/>
<rect x="213.29" y="739.98" width="10.10" height="8.23" fill="#4148a8"/>
<rect x="213.29" y="747.91" width="10.10" height="32.03" fill="#3f44a5"/>
<rect x="213.29" y="779.64" width="10.10" height="8.23" fill="#3d3fa3"/>
<rect x="213.29" y="787.57" width="10.10" height="16.16" fill="#3c3aa1"/>
<rect x="213.29" y="803.44" width="10.10" height="8.23" fill="#3a369f"/>
<rect x="213.29" y="811.37" width="10.10" height="8.23" fill="#38329d"/>
<rect x="213.29" y="819.30" width="10.10" height="8.23" fill="#362e9b"/>
<rect x="213.29" y="827.23" width="10.10" height="8.23" fill="#332a99"/>
<rect x="213.29" y="835.17" width="10.10" height="39.96" fill="#312697"/>
<rect x="213.29" y="874.83" width="10.10" height="8.23" fill="#332a99"/>
<rect x="213.29" y="882.76" width="10.10" height="8.23" fill="#362e9b"/>
<rect x="213.29" y="890.69" width="10.10" height="8.23" fill="#38329d"/>
<rect x="213.29" y="898.62" width="10.10" height="8.23" fill="#3a369f"/>
<rect x="213.29" y="906.56" width="10.10" height="8.23" fill="#3c3aa1"/>
<rect x="213.29" y="914.49" width="10.10" height="16.16" fill="#3d3fa3"/>
<rect x="213.29" y="930.35" width="10.10" height="32.03" fill="#3f44a5"/>
<rect x="213.29" y="962.08" width="10.10" height="8.23" fill="#4148a8"/>
<rect x="213.29" y="970.01" width="10.10" height="8.23" fill="#424daa"/>
<rect x="213.29" y="977.95" width="10.10" height="8.23" fill="#4351ac"/>
<rect x="213.29" y="985.88" width="10.10" height="8.23" fill="#4255af"/>
<rect x="213.29" y="993.81" width="10.10" height="8.23" fill="#4159b1"/>
<rect x="213.29" y="1001.74" width="10.10" height="8.23" fill="#405eb4"/>
<rect x="213.29" y="1009.67" width="10.10" height="8.23" fill="#3f66b9"/>
<rect x="213.29" y="1017.61" width="10.10" height="8.23" fill="#3d70be"/>
<rect x="213.29" y="1025.54" width="10.10" height="8.23" fill="#3c75c0"/>
<rect x="213.29" y="1033.47" width="10.10" height="8.23" fill="#3881c7"/>
<rect x="213.29" y="1041.40" width="10.10" height="8.23" fill="#2f8fd1"/>
<rect x="213.29" y="1049.34" width="10.10" height="8.23" fill="#1fa2d9"/>
<rect x="213.29" y="1057.27" width="10.10" height="8.23" fill="#18a8d2"/>
<rect x="223.09" y="597.20" width="10.10" height="8.23" fill="#32b18d"/>
<rect x="223.09" y="605.13" width="10.10" height="8.23" fill="#24afa1"/>
<rect x="223.09" y="613.06" width="10.10" height="8.23" fill="#1cacbd"/>
<rect x="223.09" y="621.00" width="10.10" height="8.23" fill="#19aacc"/>
<rect x="223.09" y="628.93" width="10.10" height="8.23" fill="#1ba5d6"/>
<rect x="223.09" y="636.86" width="10.10" height="8.23" fill="#249cd7"/>
<rect x="223.09" y="644.79" width="10.10" height="8.23" fill="#2f8fd1"/>
<rect x="223.09" y="652.73" width="10.10" height="8.23" fill="#3388cc"/>
<rect x="223.09" y="660.66" width="10.10" height="8.23" fill="#3b7bc3"/>
<rect x="223.09" y="668.59" width="10.10" height="8.23" fill="#3d70be"/>
<rect x="223.09" y="676.52" width="10.10" height="8.23" fill="#3e6bbc"/>
<rect x="223.09" y="684.45" width="10.10" height="8.23" fill="#3f62b7"/>
<rect x="223.09" y="692.39" width="10.10" height="8.23" fill="#405eb4"/>
<rect x="223.09" y="700.32" width="10.10" height="8.23" fill="#4159b1"/>
<rect x="223.09" y="708.25" width="10.10" height="8.23" fill="#4255af"/>
<rect x="223.09" y="716.18" width="10.10" height="8.23" fill="#4351ac"/>
<rect x="223.09" y="724.12" width="10.10" height="8.23" fill="#424daa"/>
<rect x="223.09" y="732.05" width="10.10" height="16.16" fill="#4148a8"/>
<rect x="223.09" y="747.91" width="10.10" height="24.10" fill="#3f44a5"/>
<rect x="223.09" y="771.71" width="10.10" height="16.16" fill="#3d3fa3"/>
<rect x="223.09" y="787.57" width="10.10" height="8.23" fill="#3c3aa1"/>
<rect x="223.09" y="795.51" width="10.10" height="8.23" fill="#3a369f"/>
<rect x="223.09" y="803.44" width="10.10" height="8.23" fill="#38329d"/>
<rect x="223.09" y="811.37" width="10.10" height="8.23" fill="#362e9b"/>
<rect x="223.09" y="819.30" width="10.10" height="8.23" fill="#332a99"/>
<rect x="223.09" y="827.23" width="10.10" height="39.96" fill="#312697"/>
<rect x="223.09" y="866.89" width="10.10" height="8.23" fill="#332a99"/>
<rect x="223.09" y="874.83" width="10.10" height="8.23" fill="#362e9b"/>
<rect x="223.09" y="882.76" width="10.10" height="8.23" fill="#38329d"/>
<rect x="223.09" y="890.69" width="10.10" height="8.23" fill="#3a369f"/>
<rect x="223.09" y="898.62" width="10.10" height="16.16" fill="#3c3aa1"/>
<rect x="223.09" y="914.49" width="10.10" height="8.23" fill="#3d3fa3"/>
<rect x="223.09" y="922.42" width="10.10" height="32.03" fill="#3f44a5"/>
<rect x="223.09" y="954.15" width="10.10" height="16.16" fill="#4148a8"/>
<rect x="223.09" y="970.01" width="10.10" height="8.23" fill="#424daa"/>
<rect x="223.09" y="977.95" width="10.10" height="8.23" fill="#4351ac"/>
<rect x="223.09" y="985.88" width="10.10" height="8.23" fill="#4255af"/>
<rect x="223.09" y="993.81" width="10.10" height="8.23" fill="#405eb4"/>
<rect x="223.09" y="1001.74" width="10.10" height="8.23" fill="#3f62b7"/>
<rect x="223.09" y="1009.67" width="10.10" height="8.23" fill="#3e6bbc"/>
<rect x="223.09" y="1017.61" width="10.10" height="8.23" fill="#3d70be"/>
<rect x="223.09" y="1025.54" width="10.10" height="8.23" fill="#3b7bc3"/>
<rect x="223.09" y="1033.47" width="10.10" height="8.23" fill="#3388cc"/>
<rect x="223.09" y="1041.40" width="10.10" height="8.23" fill="#2a95d5"/>
<rect x="223.09" y="1049.34" width="10.10" height="8.23" fill="#1fa2d9"/>
<rect x="223.09" y="1057.27" width="10.10" height="8.23" fill="#18a8d2"/>
<rect x="232.88" y="597.20" width="10.10" height="8.23" fill="#24afa1"/>
<rect x="232.88" y="605.13" width="10.10" height="8.23" fill="#1daeb5"/>
<rect x="232.88" y="613.06" width="10.10" height="8.23" fill="#1aabc6"/>
<rect x="232.88" y="621.00" width="10.10" height="8.23" fill="#18a8d2"/>
<rect x="232.88" y="628.93" width="10.10" height="8.23" fill="#1fa2d9"/>
<rect x="232.88" y="636.86" width="10.10" height="8.23" fill="#2a95d5"/>
<rect x="232.88" y="644.79" width="10.10" height="8.23" fill="#3388cc"/>
<rect x="232.88" y="652.73" width="10.10" height="8.23" fill="#3b7bc3"/>
<rect x="232.88" y="660.66" width="10.10" height="8.23" fill="#3c75c0"/>
<rect x="232.88" y="668.59" width="10.10" height="8.23" fill="#3e6bbc"/>
<rect x="232.88" y="676.52" width="10.10" height="8.23" fill="#3f66b9"/>
<rect x="232.88" y="684.45" width="10.10" height="8.23" fill="#405eb4"/>
<rect x="232.88" y="692.39" width="10.10" height="8.23" fill="#4159b1"/>
<rect x="232.88" y="700.32" width="10.10" height="8.23" fill="#4255af"/>
<rect x="232.88" y="708.25" width="10.10" height="8.23" fill="#4351ac"/>
<rect x="232.88" y="716.18" width="10.10" height="8.23" fill="#424daa"/>
<rect x="232.88" y="724.12" width="10.10" height="16.16" fill="#4148a8"/>
<rect x="232.88" y="739.98" width="10.10" height="24.10" fill="#3f44a5"/>
<rect x="232.88" y="763.78" width="10.10" height="16.16" fill="#3d3fa3"/>
<rect x="232.88" y="779.64" width="10.10" height="8.23" fill="#3c3aa1"/>
<rect x="232.88" y="787.57" width="10.10" height="8.23" fill="#3a369f"/>
<rect x="232.88" y="795.51" width="10.10" height="8.23" fill="#38329d"/>
<rect x="232.88" y="803.44" width="10.10" height="8.23" fill="#362e9b"/>
<rect x="232.88" y="811.37" width="10.10" height="16.16" fill="#332a99"/>
<rect x="232.88" y="827.23" width="10.10" height="39.96" fill="#312697"/>
<rect x="232.88" y="866.89" width="10.10" height="8.23" fill="#332a99"/>
<rect x="232.88" y="874.83" width="10.10" height="8.23" fill="#362e9b"/>
<rect x="232.88" y="882.76" width="10.10" height="8.23" fill="#38329d"/>
<rect x="232.88" y="890.69" width="10.10" height="8.23" fill="#3a369f"/>
<rect x="232.88" y="898.62" width="10.10" height="8.23" fill="#3c3aa1"/>
<rect x="232.88" y="906.56" width="10.10" height="16.16" fill="#3d3fa3"/>
<rect x="232.88" y="922.42" width="10.10" height="24.10" fill="#3f44a5"/>
<rect x="232.88" y="946.22" width="10.10" height="16.16" fill="#4148a8"/>
<rect x="232.88" y="962.08" width="10.10" height="8.23" fill="#424daa"/>
<rect x="232.88" y="970.01" width="10.10" height="8.23" fill="#4351ac"/>
<rect x="232.88" y="977.95" width="10.10" height="8.23" fill="#4255af"/>
<rect x="232.88" y="985.88" width="10.10" height="8.23" fill="#4159b1"/>
<rect x="232.88" y="993.81" width="10.10" height="8.23" fill="#405eb4"/>
<rect x="232.88" y="1001.74" width="10.10" height="8.23" fill="#3f66b9"/>
<rect x="232.88" y="1009.67" width="10.10" height="8.23" fill="#3e6bbc"/>
<rect x="232.88" y="1017.61" width="10.10" height="8.23" fill="#3c75c0"/>
<rect x="232.88" y="1025.54" width="10.10" height="8.23" fill="#3881c7"/>
<rect x="232.88" y="1033.47" width="10.10" height="8.23" fill="#2f8fd1"/>
<rect x="232.88" y="1041.40" width="10.10" height="8.23" fill="#249cd7"/>
<rect x="232.88" y="1049.34" width="10.10" height="8.23" fill="#1ba5d6"/>
<rect x="232.88" y="1057.27" width="10.10" height="8.23" fill="#19aacc"/>
<rect x="242.68" y="597.20" width="10.10" height="8.23" fill="#1fafac"/>
<rect x="242.68" y="605.13" width="10.10" height="8.23" fill="#1cacbd"/>
<rect x="242.68" y="613.06" width="10.10" height="8.23" fill="#18a8d2"/>
<rect x="242.68" y="621.00" width="10.10" height="8.23" fill="#1fa2d9"/>
<rect x="242.68" y="628.93" width="10.10" height="8.23" fill="#2a95d5"/>
<rect x="242.68" y="636.86" width="10.10" height="8.23" fill="#2f8fd1"/>
<rect x="242.68" y="644.79" width="10.10" height="8.23" fill="#3881c7"/>
<rect x="242.68" y="652.73" width="10.10" height="8.23" fill="#3c75c0"/>
<rect x="242.68" y="660.66" width="10.10" height="8.23" fill="#3d70be"/>
<rect x="242.68" y="668.59" width="10.10" height="8.23" fill="#3f66b9"/>
<rect x="242.68" y="676.52" width="10.10" height="8.23" fill="#3f62b7"/>
<rect x="242.68" y="684.45" width="10.10" height="8.23" fill="#405eb4"/>
<rect x="242.68" y="692.39" width="10.10" height="8.23" fill="#4255af"/>
<rect x="242.68" y="700.32" width="10.10" height="8.23" fill="#4351ac"/>
<rect x="242.68" y="708.25" width="10.10" height="16.16" fill="#424daa"/>
<rect x="242.68" y="724.12" width="10.10" height="8.23" fill="#4148a8"/>
<rect x="242.68" y="732.05" width="10.10" height="32.03" fill="#3f44a5"/>
<rect x="242.68" y="763.78" width="10.10" height="8.23" fill="#3d3fa3"/>
<rect x="242.68" y="771.71" width="10.10" height="16.16" fill="#3c3aa1"/>
<rect x="242.68" y="787.57" width="10.10" height="8.23" fill="#3a369f"/>
<rect x="242.68" y="795.51" width="10.10" height="8.23" fill="#38329d"/>
<rect x="242.68" y="803.44" width="10.10" height="8.23" fill="#362e9b"/>
<rect x="242.68" y="811.37" width="10.10" height="8.23" fill="#332a99"/>
<rect x="242.68" y="819.30" width="10.10" height="39.96" fill="#312697"/>
<rect x="242.68" y="858.96" width="10.10" height="8.23" fill="#332a99"/>
<rect x="242.68" y="866.89" width="10.10" height="8.23" fill="#362e9b"/>
<rect x="242.68" y="874.83" width="10.10" height="8.23" fill="#38329d"/>
<rect x="242.68" y="882.76" width="10.10" height="8.23" fill="#3a369f"/>
<rect x="242.68" y="890.69" width="10.10" height="8.23" fill="#3c3aa1"/>
<rect x="242.68" y="898.62" width="10.10" height="16.16" fill="#3d3fa3"/>
<rect x="242.68" y="914.49" width="10.10" height="32.03" fill="#3f44a5"/>
<rect x="242.68" y="946.22" width="10.10" height="8.23" fill="#4148a8"/>
<rect x="242.68" y="954.15" width="10.10" height="16.16" fill="#424daa"/>
<rect x="242.68" y="970.01" width="10.10" height="8.23" fill="#4351ac"/>
<rect x="242.68" y="977.95" width="10.10" height="8.23" fill="#4159b1"/>
<rect x="242.68" y="985.88" width="10.10" height="8.23" fill="#405eb4"/>
<rect x="242.68" y="993.81" width="10.10" height="8.23" fill="#3f62b7"/>
<rect x="242.68" y="1001.74" width="10.10" height="8.23" fill="#3e6bbc"/>
<rect x="242.68" y="1009.67" width="10.10" height="8.23" fill="#3d70be"/>
<rect x="242.68" y="1017.61" width="10.10" height="8.23" fill="#3b7bc3"/>
<rect x="242.68" y="1025.54" width="10.10" height="8.23" fill="#3388cc"/>
<rect x="242.68" y="1033.47" width="10.10" height="8.23" fill="#2a95d5"/>
<rect x="242.68" y="1041.40" width="10.10" height="8.23" fill="#1fa2d9"/>
<rect x="242.68" y="1049.34" width="10.10" height="8.23" fill="#18a8d2"/>
<rect x="242.68" y="1057.27" width="10.10" height="8.23" fill="#1cacbd"/>
<rect x="252.48" y="597.20" width="10.10" height="8.23" fill="#1daeb5"/>
<rect x="252.48" y="605.13" width="10.10" height="8.23" fill="#19aacc"/>
<rect x="252.48" y="613.06" width="10.10" height="8.23" fill="#1ba5d6"/>
<rect x="252.48" y="621.00" width="10.10" height="8.23" fill="#249cd7"/>
<rect x="252.48" y="628.93" width="10.10" height="8.23" fill="#2f8fd1"/>
<rect x="252.48" y="636.86" width="10.10" height="8.23" fill="#3388cc"/>
<rect x="252.48" y="644.79" width="10.10" height="8.23" fill="#3b7bc3"/>
<rect x="252.48" y="652.73" width="10.10" height="8.23" fill="#3d70be"/>
<rect x="252.48" y="660.66" width="10.10" height="8.23" fill="#3e6bbc"/>
<rect x="252.48" y="668.59" width="10.10" height="8.23" fill="#3f62b7"/>
<rect x="252.48" y="676.52" width="10.10" height="8.23" fill="#405eb4"/>
<rect x="252.48" y="684.45" width="10.10" height="8.23" fill="#4159b1"/>
<rect x="252.48" y="692.39" width="10.10" height="8.23" fill="#4255af"/>
<rect x="252.48" y="700.32" width="10.10" height="8.23" fill="#4351ac"/>
<rect x="252.48" y="708.25" width="10.10" height="8.23" fill="#424daa"/>
<rect x="252.48" y="716.18" width="10.10" height="16.16" fill="#4148a8"/>
<rect x="252.48" y="732.05" width="10.10" height="24.10" fill="#3f44a5"/>
<rect x="252.48" y="755.84" width="10.10" height="16.16" fill="#3d3fa3"/>
<rect x="252.48" y="771.71" width="10.10" height="8.23" fill="#3c3aa1"/>
<rect x="252.48" y="779.64" width="10.10" height="8.23" fill="#3a369f"/>
<rect x="252.48" y="787.57" width="10.10" height="8.23" fill="#38329d"/>
<rect x="252.48" y="795.51" width="10.10" height="8.23" fill="#362e9b"/>
<rect x="252.48" y="803.44" width="10.10" height="8.23" fill="#332a99"/>
<rect x="252.48" y="811.37" width="10.10" height="39.96" fill="#312697"/>
<rect x="252.48" y="851.03" width="10.10" height="8.23" fill="#332a99"/>
<rect x="252.48" y="858.96" width="10.10" height="8.23" fill="#362e9b"/>
<rect x="252.48" y="866.89" width="10.10" height="8.23" fill="#38329d"/>
<rect x="252.48" y="874.83" width="10.10" height="8.23" fill="#3a369f"/>
<rect x="252.48" y="882.76" width="10.10" height="16.16" fill="#3c3aa1"/>
<rect x="252.48" y="898.62" width="10.10" height="8.23" fill="#3d3fa3"/>
<rect x="252.48" y="906.56" width="10.10" height="32.03" fill="#3f44a5"/>
<rect x="252.48" y="938.28" width="10.10" height="16.16" fill="#4148a8"/>
<rect x="252.48" y="954.15" width="10.10" height="8.23" fill="#424daa"/>
<rect x="252.48" y="962.08" width="10.10" height="8.23" fill="#4351ac"/>
<rect x="252.48" y="970.01" width="10.10" height="8.23" fill="#4255af"/>
<rect x="252.48" y="977.95" width="10.10" height="8.23" fill="#405eb4"/>
<rect x="252.48" y="985.88" width="10.10" height="8.23" fill="#3f62b7"/>
<rect x="252.48" y="993.81" width="10.10" height="8.23" fill="#3f66b9"/>
<rect x="252.48" y="1001.74" width="10.10" height="8.23" fill="#3d70be"/>
<rect x="252.48" y="1009.67" width="10.10" height="8.23" fill="#3b7bc3"/>
<rect x="252.48" y="1017.61" width="10.10" height="8.23" fill="#3388cc"/>
<rect x="252.48" y="1025.54" width="10.10" height="8.23" fill="#2a95d5"/>
<rect x="252.48" y="1033.47" width="10.10" height="8.23" fill="#1fa2d9"/>
<rect x="252.48" y="1041.40" width="10.10" height="8.23" fill="#18a8d2"/>
<rect x="252.48" y="1049.34" width="10.10" height="8.23" fill="#1aabc6"/>
<rect x="252.48" y="1057.27" width="10.10" height="8.23" fill="#1fafac"/>
<rect x="262.28" y="597.20" width="10.10" height="8.23" fill="#1cacbd"/>
<rect x="262.28" y="605.13" width="10.10" height="8.23" fill="#18a8d2"/>
<rect x="262.28" y="613.06" width="10.10" height="8.23" fill="#1fa2d9"/>
<rect x="262.28" y="621.00" width="10.10" height="8.23" fill="#2a95d5"/>
<rect x="262.28" y="628.93" width="10.10" height="8.23" fill="#3388cc"/>
<rect x="262.28" y="636.86" width="10.10" height="8.23" fill="#3881c7"/>
<rect x="262.28" y="644.79" width="10.10" height="8.23" fill="#3c75c0"/>
<rect x="262.28" y="652.73" width="10.10" height="8.23" fill="#3e6bbc"/>
<rect x="262.28" y="660.66" width="10.10" height="8.23" fill="#3f66b9"/>
<rect x="262.28" y="668.59" width="10.10" height="8.23" fill="#3f62b7"/>
<rect x="262.28" y="676.52" width="10.10" height="8.23" fill="#4159b1"/>
<rect x="262.28" y="684.45" width="10.10" height="8.23" fill="#4255af"/>
<rect x="262.28" y="692.39" width="10.10" height="8.23" fill="#4351ac"/>
<rect x="262.28" y="700.32" width="10.10" height="8.23" fill="#424daa"/>
<rect x="262.28" y="708.25" width="10.10" height="16.16" fill="#4148a8"/>
<rect x="262.28" y="724.12" width="10.10" height="24.10" fill="#3f44a5"/>
<rect x="262.28" y="747.91" width="10.10" height="16.16" fill="#3d3fa3"/>
<rect x="262.28" y="763.78" width="10.10" height="8.23" fill="#3c3aa1"/>
<rect x="262.28" y="771.71" width="10.10" height="8.23" fill="#3a369f"/>
<rect x="262.28" y="779.64" width="10.10" height="8.23" fill="#38329d"/>
<rect x="262.28" y="787.57" width="10.10" height="8.23" fill="#362e9b"/>
<rect x="262.28" y="795.51" width="10.10" height="16.16" fill="#332a99"/>
<rect x="262.28" y="811.37" width="10.10" height="32.03" fill="#312697"/>
<rect x="262.28" y="843.10" width="10.10" height="16.16" fill="#332a99"/>
<rect x="262.28" y="858.96" width="10.10" height="8.23" fill="#362e9b"/>
<rect x="262.28" y="866.89" width="10.10" height="8.23" fill="#38329d"/>
<rect x="262.28" y="874.83" width="10.10" height="8.23" fill="#3a369f"/>
<rect x="262.28" y="882.76" width="10.10" height="8.23" fill="#3c3aa1"/>
<rect x="262.28" y="890.69" width="10.10" height="16.16" fill="#3d3fa3"/>
<rect x="262.28" y="906.56" width="10.10" height="24.10" fill="#3f44a5"/>
<rect x="262.28" y="930.35" width="10.10" height="16.16" fill="#4148a8"/>
<rect x="262.28" y="946.22" width="10.10" height="8.23" fill="#424daa"/>
<rect x="262.28" y="954.15" width="10.10" height="8.23" fill="#4351ac"/>
<rect x="262.28" y="962.08" width="10.10" height="8.23" fill="#4255af"/>
<rect x="262.28" y="970.01" width="10.10" height="8.23" fill="#4159b1"/>
<rect x="262.28" y="977.95" width="10.10" height="8.23" fill="#3f62b7"/>
<rect x="262.28" y="985.88" width="10.10" height="8.23" fill="#3f66b9"/>
<rect x="262.28" y="993.81" width="10.10" height="8.23" fill="#3d70be"/>
<rect x="262.28" y="1001.74" width="10.10" height="8.23" fill="#3c75c0"/>
<rect x="262.28" y="1009.67" width="10.10" height="8.23" fill="#3881c7"/>
<rect x="262.28" y="1017.61" width="10.10" height="8.23" fill="#2f8fd1"/>
<rect x="262.28" y="1025.54" width="10.10" height="8.23" fill="#249cd7"/>
<rect x="262.28" y="1033.47" width="10.10" height="8.23" fill="#1ba5d6"/>
<rect x="262.28" y="1041.40" width="10.10" height="8.23" fill="#1aabc6"/>
<rect x="262.28" y="1049.34" width="10.10" height="8.23" fill="#1daeb5"/>
<rect x="262.28" y="1057.27" width="10.10" height="8.23" fill="#24afa1"/>
<rect x="272.08" y="597.20" width="10.10" height="8.23" fill="#19aacc"/>
<rect x="272.08" y="605.13" width="10.10" height="8.23" fill="#1ba5d6"/>
<rect x="272.08" y="613.06" width="10.10" height="8.23" fill="#249cd7"/>
<rect x="272.08" y="621.00" width="10.10" height="8.23" fill="#2f8fd1"/>
<rect x="272.08" y="628.93" width="10.10" height="8.23" fill="#3881c7"/>
<rect x="272.08" y="636.86" width="10.10" height="8.23" fill="#3b7bc3"/>
<rect x="272.08" y="644.79" width="10.10" height="8.23" fill="#3d70be"/>
<rect x="272.08" y="652.73" width="10.10" height="8.23" fill="#3e6bbc"/>
<rect x="272.08" y="660.66" width="10.10" height="8.23" fill="#3f62b7"/>
<rect x="272.08" y="668.59" width="10.10" height="8.23" fill="#405eb4"/>
<rect x="272.08" y="676.52" width="10.10" height="8.23" fill="#4159b1"/>
<rect x="272.08" y="684.45" width="10.10" height="16.16" fill="#4351ac"/>
<rect x="272.08" y="700.32" width="10.10" height="8.23" fill="#424daa"/>
<rect x="272.08" y="708.25" width="10.10" height="8.23" fill="#4148a8"/>
<rect x="272.08" y="716.18" width="10.10" height="32.03" fill="#3f44a5"/>
<rect x="272.08" y="747.91" width="10.10" height="8.23" fill="#3d3fa3"/>
<rect x="272.08" y="755.84" width="10.10" height="16.16" fill="#3c3aa1"/>
<rect x="272.08" y="771.71" width="10.10" height="8.23" fill="#3a369f"/>
<rect x="272.08" y="779.64" width="10.10" height="8.23" fill="#38329d"/>
<rect x="272.08" y="787.57" width="10.10" height="8.23" fill="#362e9b"/>
<rect x="272.08" y="795.51" width="10.10" height="8.23" fill="#332a99"/>
<rect x="272.08" y="803.44" width="10.10" height="39.96" fill="#312697"/>
<rect x="272.08" y="843.10" width="10.10" height="8.23" fill="#332a99"/>
<rect x="272.08" y="851.03" width="10.10" height="8.23" fill="#362e9b"/>
<rect x="272.08" y="858.96" width="10.10" height="8.23" fill="#38329d"/>
<rect x="272.08" y="866.89" width="10.10" height="8.23" fill="#3a369f"/>
<rect x="272.08" y="874.83" width="10.10" height="8.23" fill="#3c3aa1"/>
<rect x="272.08" y="882.76" width="10.10" height="16.16" fill="#3d3fa3"/>
<rect x="272.08" y="898.62" width="10.10" height="32.03" fill="#3f44a5"/>
<rect x="272.08" y="930.35" width="10.10" height="8.23" fill="#4148a8"/>
<rect x="272.08" y="938.28" width="10.10" height="8.23" fill="#424daa"/>
<rect x="272.08" y="946.22" width="10.10" height="8.23" fill="#4351ac"/>
<rect x="272.08" y="954.15" width="10.10" height="8.23" fill="#4255af"/>
<rect x="272.08" y="962.08" width="10.10" height="8.23" fill="#4159b1"/>
<rect x="272.08" y="970.01" width="10.10" height="8.23" fill="#405eb4"/>
<rect x="272.08" y="977.95" width="10.10" height="8.23" fill="#3f66b9"/>
<rect x="272.08" y="985.88" width="10.10" height="8.23" fill="#3e6bbc"/>
<rect x="272.08" y="993.81" width="10.10" height="8.23" fill="#3c75c0"/>
<rect x="272.08" y="1001.74" width="10.10" height="8.23" fill="#3881c7"/>
<rect x="272.08" y="1009.67" width="10.10" height="8.23" fill="#2f8fd1"/>
<rect x="272.08" y="1017.61" width="10.10" height="8.23" fill="#249cd7"/>
<rect x="272.08" y="1025.54" width="10.10" height="8.23" fill="#1ba5d6"/>
<rect x="272.08" y="1033.47" width="10.10" height="8.23" fill="#19aacc"/>
<rect x="272.08" y="1041.40" width="10.10" height="8.23" fill="#1cacbd"/>
<rect x="272.08" y="1049.34" width="10.10" height="8.23" fill="#24afa1"/>
<rect x="272.08" y="1057.27" width="10.10" height="8.23" fill="#32b18d"/>
<rect x="281.87" y="597.20" width="10.10" height="8.23" fill="#19aacc"/>
<rect x="281.87" y="605.13" width="10.10" height="8.23" fill="#1fa2d9"/>
<rect x="281.87" y="613.06" width="10.10" height="8.23" fill="#2a95d5"/>
<rect x="281.87" y="621.00" width="10.10" height="8.23" fill="#3388cc"/>
<rect x="281.87" y="628.93" width="10.10" height="8.23" fill="#3881c7"/>
<rect x="281.87" y="636.86" width="10.10" height="8.23" fill="#3c75c0"/>
<rect x="281.87" y="644.79" width="10.10" height="8.23" fill="#3e6bbc"/>
<rect x="281.87" y="652.73" width="10.10" height="8.23" fill="#3f66b9"/>
<rect x="281.87" y="660.66" width="10.10" height="8.23" fill="#405eb4"/>
<rect x="281.87" y="668.59" width="10.10" height="8.23" fill="#4159b1"/>
<rect x="281.87" y="676.52" width="10.10" height="8.23" fill="#4255af"/>
<rect x="281.87" y="684.45" width="10.10" height="8.23" fill="#4351ac"/>
<rect x="281.87" y="692.39" width="10.10" height="8.23" fill="#424daa"/>
<rect x="281.87" y="700.32" width="10.10" height="16.16" fill="#4148a8"/>
<rect x="281.87" y="716.18" width="10.10" height="24.10" fill="#3f44a5"/>
<rect x="281.87" y="739.98" width="10.10" height="16.16" fill="#3d3fa3"/>
<rect x="281.87" y="755.84" width="10.10" height="8.23" fill="#3c3aa1"/>
<rect x="281.87" y="763.78" width="10.10" height="8.23" fill="#3a369f"/>
<rect x="281.87" y="771.71" width="10.10" height="8.23" fill="#38329d"/>
<rect x="281.87" y="779.64" width="10.10" height="8.23" fill="#362e9b"/>
<rect x="281.87" y="787.57" width="10.10" height="8.23" fill="#332a99"/>
<rect x="281.87" y="795.51" width="10.10" height="39.96" fill="#312697"/>
<rect x="281.87" y="835.17" width="10.10" height="8.23" fill="#332a99"/>
<rect x="281.87" y="843.10" width="10.10" height="8.23" fill="#362e9b"/>
<rect x="281.87" y="851.03" width="10.10" height="8.23" fill="#38329d"/>
<rect x="281.87" y="858.96" width="10.10" height="8.23" fill="#3a369f"/>
<rect x="281.87" y="866.89" width="10.10" height="16.16" fill="#3c3aa1"/>
<rect x="281.87" y="882.76" width="10.10" height="8.23" fill="#3d3fa3"/>
<rect x="281.87" y="890.69" width="10.10" height="32.03" fill="#3f44a5"/>
<rect x="281.87" y="922.42" width="10.10" height="16.16" fill="#4148a8"/>
<rect x="281.87" y="938.28" width="10.10" height="8.23" fill="#424daa"/>
<rect x="281.87" y="946.22" width="10.10" height="8.23" fill="#4351ac"/>
<rect x="281.87" y="954.15" width="10.10" height="8.23" fill="#4255af"/>
<rect x="281.87" y="962.08" width="10.10" height="8.23" fill="#405eb4"/>
<rect x="281.87" y="970.01" width="10.10" height="8.23" fill="#3f62b7"/>
<rect x="281.87" y="977.95" width="10.10" height="8.23" fill="#3e6bbc"/>
<rect x="281.87" y="985.88" width="10.10" height="8.23" fill="#3d70be"/>
<rect x="281.87" y="993.81" width="10.10" height="8.23" fill="#3b7bc3"/>
<rect x="281.87" y="1001.74" width="10.10" height="8.23" fill="#3388cc"/>
<rect x="281.87" y="1009.67" width="10.10" height="8.23" fill="#2a95d5"/>
<rect x="281.87" y="1017.61" width="10.10" height="8.23" fill="#1fa2d9"/>
<rect x="281.87" y="1025.54" width="10.10" height="8.23" fill="#18a8d2"/>
<rect x="281.87" y="1033.47" width="10.10" height="8.23" fill="#1cacbd"/>
<rect x="281.87" y="1041.40" width="10.10" height="8.23" fill="#1fafac"/>
<rect x="281.87" y="1049.34" width="10.10" height="8.23" fill="#32b18d"/>
<rect x="281.87" y="1057.27" width="10.10" height="8.23" fill="#47b57c"/>
<rect x="291.67" y="597.20" width="10.10" height="8.23" fill="#18a8d2"/>
<rect x="291.67" y="605.13" width="10.10" height="8.23" fill="#1fa2d9"/>
<rect x="291.67" y="613.06" width="10.10" height="8.23" fill="#2a95d5"/>
<rect x="291.67" y="621.00" width="10.10" height="8.23" fill="#3388cc"/>
<rect x="291.67" y="628.93" width="10.10" height="8.23" fill="#3b7bc3"/>
<rect x="291.67" y="636.86" width="10.10" height="8.23" fill="#3d70be"/>
<rect x="291.67" y="644.79" width="10.10" height="8.23" fill="#3e6bbc"/>
<rect x="291.67" y="652.73" width="10.10" height="8.23" fill="#3f62b7"/>
<rect x="291.67" y="660.66" width="10.10" height="8.23" fill="#405eb4"/>
<rect x="291.67" y="668.59" width="10.10" height="8.23" fill="#4159b1"/>
<rect x="291.67" y="676.52" width="10.10" height="8.23" fill="#4351ac"/>
<rect x="291.67" y="684.45" width="10.10" height="16.16" fill="#424daa"/>
<rect x="291.67" y="700.32" width="10.10" height="8.23" fill="#4148a8"/>
<rect x="291.67" y="708.25" width="10.10" height="32.03" fill="#3f44a5"/>
<rect x="291.67" y="739.98" width="10.10" height="8.23" fill="#3d3fa3"/>
<rect x="291.67" y="747.91" width="10.10" height="16.16" fill="#3c3aa1"/>
<rect x="291.67" y="763.78" width="10.10" height="8.23" fill="#3a369f"/>
<rect x="291.67" y="771.71" width="10.10" height="8.23" fill="#38329d"/>
<rect x="291.67" y="779.64" width="10.10" height="8.23" fill="#362e9b"/>
<rect x="291.67" y="787.57" width="10.10" height="8.23" fill="#332a99"/>
<rect x="291.67" y="795.51" width="10.10" height="39.96" fill="#312697"/>
<rect x="291.67" y="835.17" width="10.10" height="8.23" fill="#332a99"/>
<rect x="291.67" y="843.10" width="10.10" height="8.23" fill="#362e9b"/>
<rect x="291.67" y="851.03" width="10.10" height="8.23" fill="#38329d"/>
<rect x="291.67" y="858.96" width="10.10" height="8.23" fill="#3a369f"/>
<rect x="291.67" y="866.89" width="10.10" height="8.23" fill="#3c3aa1"/>
<rect x="291.67" y="874.83" width="10.10" height="16.16" fill="#3d3fa3"/>
<rect x="291.67" y="890.69" width="10.10" height="24.10" fill="#3f44a5"/>
<rect x="291.67" y="914.49" width="10.10" height="16.16" fill="#4148a8"/>
<rect x="291.67" y="930.35" width="10.10" height="8.23" fill="#424daa"/>
<rect x="291.67" y="938.28" width="10.10" height="8.23" fill="#4351ac"/>
<rect x="291.67" y="946.22" width="10.10" height="8.23" fill="#4255af"/>
<rect x="291.67" y="954.15" width="10.10" height="8.23" fill="#4159b1"/>
<rect x="291.67" y="962.08" width="10.10" height="8.23" fill="#405eb4"/>
<rect x="291.67" y="970.01" width="10.10" height="8.23" fill="#3f66b9"/>
<rect x="291.67" y="977.95" width="10.10" height="8.23" fill="#3d70be"/>
<rect x="291.67" y="985.88" width="10.10" height="8.23" fill="#3c75c0"/>
<rect x="291.67" y="993.81" width="10.10" height="8.23" fill="#3881c7"/>
<rect x="291.67" y="1001.74" width="10.10" height="8.23" fill="#2f8fd1"/>
<rect x="291.67" y="1009.67" width="10.10" height="8.23" fill="#249cd7"/>
<rect x="291.67" y="1017.61" width="10.10" height="8.23" fill="#18a8d2"/>
<rect x="291.67" y="1025.54" width="10.10" height="8.23" fill="#1aabc6"/>
<rect x="291.67" y="1033.47" width="10.10" height="8.23" fill="#1daeb5"/>
<rect x="291.67" y="1041.40" width="10.10" height="8.23" fill="#29b096"/>
<rect x="291.67" y="1049.34" width="10.10" height="8.23" fill="#3bb385"/>
<rect x="291.67" y="1057.27" width="10.10" height="8.23" fill="#60b969"/>
<rect x="301.47" y="597.20" width="10.10" height="8.23" fill="#1ba5d6"/>
<rect x="301.47" y="605.13" width="10.10" height="8.23" fill="#249cd7"/>
<rect x="301.47" y="613.06" width="10.10" height="8.23" fill="#2f8fd1"/>
<rect x="301.47" y="621.00" width="10.10" height="8.23" fill="#3881c7"/>
<rect x="301.47" y="628.93" width="10.10" height="8.23" fill="#3c75c0"/>
<rect x="301.47" y="636.86" width="10.10" height="8.23" fill="#3d70be"/>
<rect x="301.47" y="644.79" width="10.10" height="8.23" fill="#3f66b9"/>
<rect x="301.47" y="652.73" width="10.10" height="8.23" fill="#3f62b7"/>
<rect x="301.47" y="660.66" width="10.10" height="8.23" fill="#4159b1"/>
<rect x="301.47" y="668.59" width="10.10" height="8.23" fill="#4255af"/>
<rect x="301.47" y="676.52" width="10.10" height="8.23" fill="#4351ac"/>
<rect x="301.47" y="684.45" width="10.10" height="8.23" fill="#424daa"/>
<rect x="301.47" y="692.39" width="10.10" height="16.16" fill="#4148a8"/>
<rect x="301.47" y="708.25" width="10.10" height="24.10" fill="#3f44a5"/>
<rect x="301.47" y="732.05" width="10.10" height="16.16" fill="#3d3fa3"/>
<rect x="301.47" y="747.91" width="10.10" height="8.23" fill="#3c3aa1"/>
<rect x="301.47" y="755.84" width="10.10" height="8.23" fill="#3a369f"/>
<rect x="301.47" y="763.78" width="10.10" height="8.23" fill="#38329d"/>
<rect x="301.47" y="771.71" width="10.10" height="8.23" fill="#362e9b"/>
<rect x="301.47" y="779.64" width="10.10" height="8.23" fill="#332a99"/>
<rect x="301.47" y="787.57" width="10.10" height="39.96" fill="#312697"/>
<rect x="301.47" y="827.23" width="10.10" height="8.23" fill="#332a99"/>
<rect x="301.47" y="835.17" width="10.10" height="8.23" fill="#362e9b"/>
<rect x="301.47" y="843.10" width="10.10" height="8.23" fill="#38329d"/>
<rect x="301.47" y="851.03" width="10.10" height="8.23" fill="#3a369f"/>
<rect x="301.47" y="858.96" width="10.10" height="16.16" fill="#3c3aa1"/>
<rect x="301.47" y="874.83" width="10.10" height="8.23" fill="#3d3fa3"/>
<rect x="301.47" y="882.76" width="10.10" height="32.03" fill="#3f44a5"/>
<rect x="301.47" y="914.49" width="10.10" height="16.16" fill="#4148a8"/>
<rect x="301.47" y="930.35" width="10.10" height="8.23" fill="#424daa"/>
<rect x="301.47" y="938.28" width="10.10" height="8.23" fill="#4351ac"/>
<rect x="301.47" y="946.22" width="10.10" height="8.23" fill="#4255af"/>
<rect x="301.47" y="954.15" width="10.10" height="8.23" fill="#405eb4"/>
<rect x="301.47" y="962.08" width="10.10" height="8.23" fill="#3f62b7"/>
<rect x="301.47" y="970.01" width="10.10" height="8.23" fill="#3e6bbc"/>
<rect x="301.47" y="977.95" width="10.10" height="8.23" fill="#3c75c0"/>
<rect x="301.47" y="985.88" width="10.10" height="8.23" fill="#3b7bc3"/>
<rect x="301.47" y="993.81" width="10.10" height="8.23" fill="#3388cc"/>
<rect x="301.47" y="1001.74" width="10.10" height="8.23" fill="#2a95d5"/>
<rect x="301.47" y="1009.67" width="10.10" height="8.23" fill="#1ba5d6"/>
<rect x="301.47" y="1017.61" width="10.10" height="8.23" fill="#19aacc"/>
<rect x="301.47" y="1025.54" width="10.10" height="8.23" fill="#1cacbd"/>
<rect x="301.47" y="1033.47" width="10.10" height="8.23" fill="#24afa1"/>
<rect x="301.47" y="1041.40" width="10.10" height="8.23" fill="#32b18d"/>
<rect x="301.47" y="1049.34" width="10.10" height="8.23" fill="#54b773"/>
<rect x="301.47" y="1057.27" width="10.10" height="8.23" fill="#73bd55"/>
<rect x="311.27" y="597.20" width="10.10" height="8.23" fill="#1ba5d6"/>
<rect x="311.27" y="605.13" width="10.10" height="8.23" fill="#249cd7"/>
<rect x="311.27" y="613.06" width="10.10" height="8.23" fill="#2f8fd1"/>
<rect x="311.27" y="621.00" width="10.10" height="8.23" fill="#3881c7"/>
<rect x="311.27" y="628.93" width="10.10" height="8.23" fill="#3c75c0"/>
<rect x="311.27" y="636.86" width="10.10" height="8.23" fill="#3e6bbc"/>
<rect x="311.27" y="644.79" width="10.10" height="8.23" fill="#3f66b9"/>
<rect x="311.27" y="652.73" width="10.10" height="8.23" fill="#405eb4"/>
<rect x="311.27" y="660.66" width="10.10" height="8.23" fill="#4159b1"/>
<rect x="311.27" y="668.59" width="10.10" height="8.23" fill="#4255af"/>
<rect x="311.27" y="676.52" width="10.10" height="8.23" fill="#4351ac"/>
<rect x="311.27" y="684.45" width="10.10" height="8.23" fill="#424daa"/>
<rect x="311.27" y="692.39" width="10.10" height="8.23" fill="#4148a8"/>
<rect x="311.27" y="700.32" width="10.10" height="32.03" fill="#3f44a5"/>
<rect x="311.27" y="732.05" width="10.10" height="8.23" fill="#3d3fa3"/>
<rect x="311.27" y="739.98" width="10.10" height="16.16" fill="#3c3aa1"/>
<rect x="311.27" y="755.84" width="10.10" height="8.23" fill="#3a369f"/>
<rect x="311.27" y="763.78" width="10.10" height="8.23" fill="#38329d"/>
<rect x="311.27" y="771.71" width="10.10" height="8.23" fill="#362e9b"/>
<rect x="311.27" y="779.64" width="10.10" height="8.23" fill="#332a99"/>
<rect x="311.27" y="787.57" width="10.10" height="39.96" fill="#312697"/>
<rect x="311.27" y="827.23" width="10.10" height="8.23" fill="#332a99"/>
<rect x="311.27" y="835.17" width="10.10" height="8.23" fill="#362e9b"/>
<rect x="311.27" y="843.10" width="10.10" height="8.23" fill="#38329d"/>
<rect x="311.27" y="851.03" width="10.10" height="8.23" fill="#3a369f"/>
<rect x="311.27" y="858.96" width="10.10" height="8.23" fill="#3c3aa1"/>
<rect x="311.27" y="866.89" width="10.10" height="16.16" fill="#3d3fa3"/>
<rect x="311.27" y="882.76" width="10.10" height="24.10" fill="#3f44a5"/>
<rect x="311.27" y="906.56" width="10.10" height="16.16" fill="#4148a8"/>
<rect x="311.27" y="922.42" width="10.10" height="8.23" fill="#424daa"/>
<rect x="311.27" y="930.35" width="10.10" height="8.23" fill="#4351ac"/>
<rect x="311.27" y="938.28" width="10.10" height="8.23" fill="#4255af"/>
<rect x="311.27" y="946.22" width="10.10" height="8.23" fill="#4159b1"/>
<rect x="311.27" y="954.15" width="10.10" height="8.23" fill="#3f62b7"/>
<rect x="311.27" y="962.08" width="10.10" height="8.23" fill="#3f66b9"/>
<rect x="311.27" y="970.01" width="10.10" height="8.23" fill="#3d70be"/>
<rect x="311.27" y="977.95" width="10.10" height="8.23" fill="#3b7bc3"/>
<rect x="311.27" y="985.88" width="10.10" height="8.23" fill="#3881c7"/>
<rect x="311.27" y="993.81" width="10.10" height="8.23" fill="#2f8fd1"/>
<rect x="311.27" y="1001.74" width="10.10" height="8.23" fill="#1fa2d9"/>
<rect x="311.27" y="1009.67" width="10.10" height="8.23" fill="#18a8d2"/>
<rect x="311.27" y="1017.61" width="10.10" height="8.23" fill="#1aabc6"/>
<rect x="311.27" y="1025.54" width="10.10" height="8.23" fill="#1fafac"/>
<rect x="311.27" y="1033.47" width="10.10" height="8.23" fill="#29b096"/>
<rect x="311.27" y="1041.40" width="10.10" height="8.23" fill="#47b57c"/>
<rect x="311.27" y="1049.34" width="10.10" height="8.23" fill="#69bb60"/>
<rect x="311.27" y="1057.27" width="10.10" height="8.23" fill="#8cc439"/>
<rect x="321.07" y="597.20" width="10.10" height="8.23" fill="#1fa2d9"/>
<rect x="321.07" y="605.13" width="10.10" height="8.23" fill="#2a95d5"/>
<rect x="321.07" y="613.06" width="10.10" height="8.23" fill="#3388cc"/>
<rect x="321.07" y="621.00" width="10.10" height="8.23" fill="#3b7bc3"/>
<rect x="321.07" y="628.93" width="10.10" height="8.23" fill="#3d70be"/>
<rect x="321.07" y="636.86" width="10.10" height="8.23" fill="#3e6bbc"/>
<rect x="321.07" y="644.79" width="10.10" height="8.23" fill="#3f62b7"/>
<rect x="321.07" y="652.73" width="10.10" height="8.23" fill="#405eb4"/>
<rect x="321.07" y="660.66" width="10.10" height="8.23" fill="#4255af"/>
<rect x="321.07" y="668.59" width="10.10" height="8.23" fill="#4351ac"/>
<rect x="321.07" y="676.52" width="10.10" height="8.23" fill="#424daa"/>
<rect x="321.07" y="684.45" width="10.10" height="16.16" fill="#4148a8"/>
<rect x="321.07" y="700.32" width="10.10" height="24.10" fill="#3f44a5"/>
<rect x="321.07" y="724.12" width="10.10" height="16.16" fill="#3d3fa3"/>
<rect x="321.07" y="739.98" width="10.10" height="8.23" fill="#3c3aa1"/>
<rect x="321.07" y="747.91" width="10.10" height="8.23" fill="#3a369f"/>
<rect x="321.07" y="755.84" width="10.10" height="8.23" fill="#38329d"/>
<rect x="321.07" y="763.78" width="10.10" height="8.23" fill="#362e9b"/>
<rect x="321.07" y="771.71" width="10.10" height="8.23" fill="#332a99"/>
<rect x="321.07" y="779.64" width="10.10" height="39.96" fill="#312697"/>
<rect x="321.07" y="819.30" width="10.10" height="8.23" fill="#332a99"/>
<rect x="321.07" y="827.23" width="10.10" height="8.23" fill="#362e9b"/>
<rect x="321.07" y="835.17" width="10.10" height="8.23" fill="#38329d"/>
<rect x="321.07" y="843.10" width="10.10" height="8.23" fill="#3a369f"/>
<rect x="321.07" y="851.03" width="10.10" height="16.16" fill="#3c3aa1"/>
<rect x="321.07" y="866.89" width="10.10" height="8.23" fill="#3d3fa3"/>
<rect x="321.07" y="874.83" width="10.10" height="32.03" fill="#3f44a5"/>
<rect x="321.07" y="906.56" width="10.10" height="16.16" fill="#4148a8"/>
<rect x="321.07" y="922.42" width="10.10" height="8.23" fill="#424daa"/>
<rect x="321.07" y="930.35" width="10.10" height="8.23" fill="#4351ac"/>
<rect x="321.07" y="938.28" width="10.10" height="8.23" fill="#4255af"/>
<rect x="321.07" y="946.22" width="10.10" height="8.23" fill="#405eb4"/>
<rect x="321.07" y="954.15" width="10.10" height="8.23" fill="#3f62b7"/>
<rect x="321.07" y="962.08" width="10.10" height="8.23" fill="#3e6bbc"/>
<rect x="321.07" y="970.01" width="10.10" height="8.23" fill="#3c75c0"/>
<rect x="321.07" y="977.95" width="10.10" height="8.23" fill="#3b7bc3"/>
<rect x="321.07" y="985.88" width="10.10" height="8.23" fill="#3388cc"/>
<rect x="321.07" y="993.81" width="10.10" height="8.23" fill="#2a95d5"/>
<rect x="321.07" y="1001.74" width="10.10" height="8.23" fill="#1ba5d6"/>
<rect x="321.07" y="1009.67" width="10.10" height="8.23" fill="#19aacc"/>
<rect x="321.07" y="1017.61" width="10.10" height="8.23" fill="#1cacbd"/>
<rect x="321.07" y="1025.54" width="10.10" height="8.23" fill="#24afa1"/>
<rect x="321.07" y="1033.47" width="10.10" height="8.23" fill="#32b18d"/>
<rect x="321.07" y="1041.40" width="10.10" height="8.23" fill="#54b773"/>
<rect x="321.07" y="1049.34" width="10.10" height="8.23" fill="#73bd55"/>
<rect x="321.07" y="1057.27" width="10.10" height="8.23" fill="#9cc52d"/>
<rect x="330.86" y="597.20" width="10.10" height="8.23" fill="#1fa2d9"/>
<rect x="330.86" y="605.13" width="10.10" height="8.23" fill="#2a95d5"/>
<rect x="330.86" y="613.06" width="10.10" height="8.23" fill="#3388cc"/>
<rect x="330.86" y="621.00" width="10.10" height="8.23" fill="#3b7bc3"/>
<rect x="330.86" y="628.93" width="10.10" height="8.23" fill="#3d70be"/>
<rect x="330.86" y="636.86" width="10.10" height="8.23" fill="#3f66b9"/>
<rect x="330.86" y="644.79" width="10.10" height="8.23" fill="#3f62b7"/>
<rect x="330.86" y="652.73" width="10.10" height="8.23" fill="#4159b1"/>
<rect x="330.86" y="660.66" width="10.10" height="8.23" fill="#4255af"/>
<rect x="330.86" y="668.59" width="10.10" height="8.23" fill="#4351ac"/>
<rect x="330.86" y="676.52" width="10.10" height="8.23" fill="#424daa"/>
<rect x="330.86" y="684.45" width="10.10" height="16.16" fill="#4148a8"/>
<rect x="330.86" y="700.32" width="10.10" height="24.10" fill="#3f44a5"/>
<rect x="330.86" y="724.12" width="10.10" height="8.23" fill="#3d3fa3"/>
<rect x="330.86" y="732.05" width="10.10" height="16.16" fill="#3c3aa1"/>
<rect x="330.86" y="747.91" width="10.10" height="8.23" fill="#3a369f"/>
<rect x="330.86" y="755.84" width="10.10" height="8.23" fill="#38329d"/>
<rect x="330.86" y="763.78" width="10.10" height="8.23" fill="#362e9b"/>
<rect x="330.86" y="771.71" width="10.10" height="8.23" fill="#332a99"/>
<rect x="330.86" y="779.64" width="10.10" height="39.96" fill="#312697"/>
<rect x="330.86" y="819.30" width="10.10" height="8.23" fill="#332a99"/>
<rect x="330.86" y="827.23" width="10.10" height="8.23" fill="#362e9b"/>
<rect x="330.86" y="835.17" width="10.10" height="8.23" fill="#38329d"/>
<rect x="330.86" y="843.10" width="10.10" height="8.23" fill="#3a369f"/>
<rect x="330.86" y="851.03" width="10.10" height="8.23" fill="#3c3aa1"/>
<rect x="330.86" y="858.96" width="10.10" height="16.16" fill="#3d3fa3"/>
<rect x="330.86" y="874.83" width="10.10" height="32.03" fill="#3f44a5"/>
<rect x="330.86" y="906.56" width="10.10" height="8.23" fill="#4148a8"/>
<rect x="330.86" y="914.49" width="10.10" height="8.23" fill="#424daa"/>
<rect x="330.86" y="922.42" width="10.10" height="8.23" fill="#4351ac"/>
<rect x="330.86" y="930.35" width="10.10" height="8.23" fill="#4255af"/>
<rect x="330.86" y="938.28" width="10.10" height="8.23" fill="#4159b1"/>
<rect x="330.86" y="946.22" width="10.10" height="8.23" fill="#405eb4"/>
<rect x="330.86" y="954.15" width="10.10" height="8.23" fill="#3f66b9"/>
<rect x="330.86" y="962.08" width="10.10" height="8.23" fill="#3e6bbc"/>
<rect x="330.86" y="970.01" width="10.10" height="8.23" fill="#3c75c0"/>
<rect x="330.86" y="977.95" width="10.10" height="8.23" fill="#3881c7"/>
<rect x="330.86" y="985.88" width="10.10" height="8.23" fill="#2f8fd1"/>
<rect x="330.86" y="993.81" width="10.10" height="8.23" fill="#249cd7"/>
<rect x="330.86" y="1001.74" width="10.10" height="8.23" fill="#1ba5d6"/>
<rect x="330.86" y="1009.67" width="10.10" height="8.23" fill="#19aacc"/>
<rect x="330.86" y="1017.61" width="10.10" height="8.23" fill="#1daeb5"/>
<rect x="330.86" y="1025.54" width="10.10" height="8.23" fill="#24afa1"/>
<rect x="330.86" y="1033.47" width="10.10" height="8.23" fill="#3bb385"/>
<rect x="330.86" y="1041.40" width="10.10" height="8.23" fill="#60b969"/>
<rect x="330.86" y="1049.34" width="10.10" height="8.23" fill="#73bd55"/>
<rect x="330.86" y="1057.27" width="10.10" height="8.23" fill="#9cc52d"/>
<rect x="340.66" y="597.20" width="10.10" height="8.23" fill="#1fa2d9"/>
<rect x="340.66" y="605.13" width="10.10" height="8.23" fill="#2a95d5"/>
<rect x="340.66" y="613.06" width="10.10" height="8.23" fill="#3388cc"/>
<rect x="340.66" y="621.00" width="10.10" height="8.23" fill="#3b7bc3"/>
<rect x="340.66" y="628.93" width="10.10" height="8.23" fill="#3d70be"/>
<rect x="340.66" y="636.86" width="10.10" height="8.23" fill="#3f66b9"/>
<rect x="340.66" y="644.79" width="10.10" height="8.23" fill="#3f62b7"/>
<rect x="340.66" y="652.73" width="10.10" height="8.23" fill="#4159b1"/>
<rect x="340.66" y="660.66" width="10.10" height="8.23" fill="#4255af"/>
<rect x="340.66" y="668.59" width="10.10" height="8.23" fill="#4351ac"/>
<rect x="340.66" y="676.52" width="10.10" height="8.23" fill="#424daa"/>
<rect x="340.66" y="684.45" width="10.10" height="8.23" fill="#4148a8"/>
<rect x="340.66" y="692.39" width="10.10" height="24.10" fill="#3f44a5"/>
<rect x="340.66" y="716.18" width="10.10" height="16.16" fill="#3d3fa3"/>
<rect x="340.66" y="732.05" width="10.10" height="8.23" fill="#3c3aa1"/>
<rect x="340.66" y="739.98" width="10.10" height="16.16" fill="#3a369f"/>
<rect x="340.66" y="755.84" width="10.10" height="16.16" fill="#362e9b"/>
<rect x="340.66" y="771.71" width="10.10" height="8.23" fill="#332a99"/>
<rect x="340.66" y="779.64" width="10.10" height="39.96" fill="#312697"/>
<rect x="340.66" y="819.30" width="10.10" height="8.23" fill="#332a99"/>
<rect x="340.66" y="827.23" width="10.10" height="8.23" fill="#362e9b"/>
<rect x="340.66" y="835.17" width="10.10" height="8.23" fill="#38329d"/>
<rect x="340.66" y="843.10" width="10.10" height="8.23" fill="#3a369f"/>
<rect x="340.66" y="851.03" width="10.10" height="8.23" fill="#3c3aa1"/>
<rect x="340.66" y="858.96" width="10.10" height="16.16" fill="#3d3fa3"/>
<rect x="340.66" y="874.83" width="10.10" height="24.10" fill="#3f44a5"/>
<rect x="340.66" y="898.62" width="10.10" height="16.16" fill="#4148a8"/>
<rect x="340.66" y="914.49" width="10.10" height="8.23" fill="#424daa"/>
<rect x="340.66" y="922.42" width="10.10" height="8.23" fill="#4351ac"/>
<rect x="340.66" y="930.35" width="10.10" height="8.23" fill="#4255af"/>
<rect x="340.66" y="938.28" width="10.10" height="8.23" fill="#4159b1"/>
<rect x="340.66" y="946.22" width="10.10" height="8.23" fill="#405eb4"/>
<rect x="340.66" y="954.15" width="10.10" height="8.23" fill="#3f66b9"/>
<rect x="340.66" y="962.08" width="10.10" height="8.23" fill="#3d70be"/>
<rect x="340.66" y="970.01" width="10.10" height="8.23" fill="#3c75c0"/>
<rect x="340.66" y="977.95" width="10.10" height="8.23" fill="#3881c7"/>
<rect x="340.66" y="985.88" width="10.10" height="8.23" fill="#2f8fd1"/>
<rect x="340.66" y="993.81" width="10.10" height="8.23" fill="#249cd7"/>
<rect x="340.66" y="1001.74" width="10.10" height="8.23" fill="#1ba5d6"/>
<rect x="340.66" y="1009.67" width="10.10" height="8.23" fill="#1aabc6"/>
<rect x="340.66" y="1017.61" width="10.10" height="8.23" fill="#1daeb5"/>
<rect x="340.66" y="1025.54" width="10.10" height="8.23" fill="#29b096"/>
<rect x="340.66" y="1033.47" width="10.10" height="8.23" fill="#3bb385"/>
<rect x="340.66" y="1041.40" width="10.10" height="8.23" fill="#60b969"/>
<rect x="340.66" y="1049.34" width="10.10" height="8.23" fill="#7fc147"/>
<rect x="340.66" y="1057.27" width="10.10" height="8.23" fill="#adc523"/>
<rect x="350.46" y="597.20" width="10.10" height="8.23" fill="#1fa2d9"/>
<rect x="350.46" y="605.13" width="10.10" height="8.23" fill="#2a95d5"/>
<rect x="350.46" y="613.06" width="10.10" height="8.23" fill="#3388cc"/>
<rect x="350.46" y="621.00" width="10.10" height="8.23" fill="#3b7bc3"/>
<rect x="350.46" y="628.93" width="10.10" height="8.23" fill="#3d70be"/>
<rect x="350.46" y="636.86" width="10.10" height="8.23" fill="#3f66b9"/>
<rect x="350.46" y="644.79" width="10.10" height="8.23" fill="#3f62b7"/>
<rect x="350.46" y="652.73" width="10.10" height="8.23" fill="#4159b1"/>
<rect x="350.46" y="660.66" width="10.10" height="8.23" fill="#4255af"/>
<rect x="350.46" y="668.59" width="10.10" height="8.23" fill="#4351ac"/>
<rect x="350.46" y="676.52" width="10.10" height="8.23" fill="#424daa"/>
<rect x="350.46" y="684.45" width="10.10" height="8.23" fill="#4148a8"/>
<rect x="350.46" y="692.39" width="10.10" height="32.03" fill="#3f44a5"/>
<rect x="350.46" y="724.12" width="10.10" height="8.23" fill="#3d3fa3"/>
<rect x="350.46" y="732.05" width="10.10" height="16.16" fill="#3c3aa1"/>
<rect x="350.46" y="747.91" width="10.10" height="8.23" fill="#3a369f"/>
<rect x="350.46" y="755.84" width="10.10" height="8.23" fill="#38329d"/>
<rect x="350.46" y="763.78" width="10.10" height="8.23" fill="#362e9b"/>
<rect x="350.46" y="771.71" width="10.10" height="8.23" fill="#332a99"/>
<rect x="350.46" y="779.64" width="10.10" height="39.96" fill="#312697"/>
<rect x="350.46" y="819.30" width="10.10" height="8.23" fill="#332a99"/>
<rect x="350.46" y="827.23" width="10.10" height="8.23" fill="#362e9b"/>
<rect x="350.46" y="835.17" width="10.10" height="8.23" fill="#38329d"/>
<rect x="350.46" y="843.10" width="10.10" height="8.23" fill="#3a369f"/>
<rect x="350.46" y="851.03" width="10.10" height="8.23" fill="#3c3aa1"/>
<rect x="350.46" y="858.96" width="10.10" height="16.16" fill="#3d3fa3"/>
<rect x="350.46" y="874.83" width="10.10" height="24.10" fill="#3f44a5"/>
<rect x="350.46" y="898.62" width="10.10" height="16.16" fill="#4148a8"/>
<rect x="350.46" y="914.49" width="10.10" height="8.23" fill="#424daa"/>
<rect x="350.46" y="922.42" width="10.10" height="8.23" fill="#4351ac"/>
<rect x="350.46" y="930.35" width="10.10" height="8.23" fill="#4255af"/>
<rect x="350.46" y="938.28" width="10.10" height="8.23" fill="#4159b1"/>
<rect x="350.46" y="946.22" width="10.10" height="8.23" fill="#405eb4"/>
<rect x="350.46" y="954.15" width="10.10" height="8.23" fill="#3f66b9"/>
<rect x="350.46" y="962.08" width="10.10" height="8.23" fill="#3e6bbc"/>
<rect x="350.46" y="970.01" width="10.10" height="8.23" fill="#3c75c0"/>
<rect x="350.46" y="977.95" width="10.10" height="8.23" fill="#3881c7"/>
<rect x="350.46" y="985.88" width="10.10" height="8.23" fill="#2f8fd1"/>
<rect x="350.46" y="993.81" width="10.10" height="8.23" fill="#249cd7"/>
<rect x="350.46" y="1001.74" width="10.10" height="8.23" fill="#1ba5d6"/>
<rect x="350.46" y="1009.67" width="10.10" height="8.23" fill="#1aabc6"/>
<rect x="350.46" y="1017.61" width="10.10" height="8.23" fill="#1daeb5"/>
<rect x="350.46" y="1025.54" width="10.10" height="8.23" fill="#24afa1"/>
<rect x="350.46" y="1033.47" width="10.10" height="8.23" fill="#3bb385"/>
<rect x="350.46" y="1041.40" width="10.10" height="8.23" fill="#60b969"/>
<rect x="350.46" y="1049.34" width="10.10" height="8.23" fill="#7fc147"/>
<rect x="350.46" y="1057.27" width="10.10" height="8.23" fill="#9cc52d"/>
<rect x="360.26" y="597.20" width="10.10" height="8.23" fill="#1fa2d9"/>
<rect x="360.26" y="605.13" width="10.10" height="8.23" fill="#2a95d5"/>
<rect x="360.26" y="613.06" width="10.10" height="8.23" fill="#3388cc"/>
<rect x="360.26" y="621.00" width="10.10" height="8.23" fill="#3b7bc3"/>
<rect x="360.26" y="628.93" width="10.10" height="8.23" fill="#3d70be"/>
<rect x="360.26" y="636.86" width="10.10" height="8.23" fill="#3e6bbc"/>
<rect x="360.26" y="644.79" width="10.10" height="8.23" fill="#3f62b7"/>
<rect x="360.26" y="652.73" width="10.10" height="8.23" fill="#405eb4"/>
<rect x="360.26" y="660.66" width="10.10" height="8.23" fill="#4255af"/>
<rect x="360.26" y="668.59" width="10.10" height="8.23" fill="#4351ac"/>
<rect x="360.26" y="676.52" width="10.10" height="8.23" fill="#424daa"/>
<rect x="360.26" y="684.45" width="10.10" height="16.16" fill="#4148a8"/>
<rect x="360.26" y="700.32" width="10.10" height="24.10" fill="#3f44a5"/>
<rect x="360.26" y="724.12" width="10.10" height="16.16" fill="#3d3fa3"/>
<rect x="360.26" y="739.98" width="10.10" height="8.23" fill="#3c3aa1"/>
<rect x="360.26" y="747.91" width="10.10" height="8.23" fill="#3a369f"/>
<rect x="360.26" y="755.84" width="10.10" height="8.23" fill="#38329d"/>
<rect x="360.26" y="763.78" width="10.10" height="8.23" fill="#362e9b"/>
<rect x="360.26" y="771.71" width="10.10" height="8.23" fill="#332a99"/>
<rect x="360.26" y="779.64" width="10.10" height="39.96" fill="#312697"/>
<rect x="360.26" y="819.30" width="10.10" height="8.23" fill="#332a99"/>
<rect x="360.26" y="827.23" width="10.10" height="8.23" fill="#362e9b"/>
<rect x="360.26" y="835.17" width="10.10" height="8.23" fill="#38329d"/>
<rect x="360.26" y="843.10" width="10.10" height="8.23" fill="#3a369f"/>
<rect x="360.26" y="851.03" width="10.10" height="16.16" fill="#3c3aa1"/>
<rect x="360.26" y="866.89" width="10.10" height="8.23" fill="#3d3fa3"/>
<rect x="360.26" y="874.83" width="10.10" height="32.03" fill="#3f44a5"/>
<rect x="360.26" y="906.56" width="10.10" height="8.23" fill="#4148a8"/>
<rect x="360.26" y="914.49" width="10.10" height="16.16" fill="#424daa"/>
<rect x="360.26" y="930.35" width="10.10" height="8.23" fill="#4351ac"/>
<rect x="360.26" y="938.28" width="10.10" height="8.23" fill="#4159b1"/>
<rect x="360.26" y="946.22" width="10.10" height="8.23" fill="#405eb4"/>
<rect x="360.26" y="954.15" width="10.10" height="8.23" fill="#3f62b7"/>
<rect x="360.26" y="962.08" width="10.10" height="8.23" fill="#3e6bbc"/>
<rect x="360.26" y="970.01" width="10.10" height="8.23" fill="#3c75c0"/>
<rect x="360.26" y="977.95" width="10.10" height="8.23" fill="#3b7bc3"/>
<rect x="360.26" y="985.88" width="10.10" height="8.23" fill="#3388cc"/>
<rect x="360.26" y="993.81" width="10.10" height="8.23" fill="#249cd7"/>
<rect x="360.26" y="1001.74" width="10.10" height="8.23" fill="#1ba5d6"/>
<rect x="360.26" y="1009.67" width="10.10" height="8.23" fill="#19aacc"/>
<rect x="360.26" y="1017.61" width="10.10" height="8.23" fill="#1cacbd"/>
<rect x="360.26" y="1025.54" width="10.10" height="8.23" fill="#24afa1"/>
<rect x="360.26" y="1033.47" width="10.10" height="8.23" fill="#32b18d"/>
<rect x="360.26" y="1041.40" width="10.10" height="8.23" fill="#54b773"/>
<rect x="360.26" y="1049.34" width="10.10" height="8.23" fill="#73bd55"/>
<rect x="360.26" y="1057.27" width="10.10" height="8.23" fill="#9cc52d"/>
<rect x="370.06" y="597.20" width="10.10" height="8.23" fill="#1ba5d6"/>
<rect x="370.06" y="605.13" width="10.10" height="8.23" fill="#249cd7"/>
<rect x="370.06" y="613.06" width="10.10" height="8.23" fill="#2f8fd1"/>
<rect x="370.06" y="621.00" width="10.10" height="8.23" fill="#3881c7"/>
<rect x="370.06" y="628.93" width="10.10" height="8.23" fill="#3c75c0"/>
<rect x="370.06" y="636.86" width="10.10" height="8.23" fill="#3e6bbc"/>
<rect x="370.06" y="644.79" width="10.10" height="8.23" fill="#3f62b7"/>
<rect x="370.06" y="652.73" width="10.10" height="8.23" fill="#405eb4"/>
<rect x="370.06" y="660.66" width="10.10" height="8.23" fill="#4159b1"/>
<rect x="370.06" y="668.59" width="10.10" height="8.23" fill="#4351ac"/>
<rect x="370.06" y="676.52" width="10.10" height="16.16" fill="#424daa"/>
<rect x="370.06" y="692.39" width="10.10" height="8.23" fill="#4148a8"/>
<rect x="370.06" y="700.32" width="10.10" height="24.10" fill="#3f44a5"/>
<rect x="370.06" y="724.12" width="10.10" height="16.16" fill="#3d3fa3"/>
<rect x="370.06" y="739.98" width="10.10" height="8.23" fill="#3c3aa1"/>
<rect x="370.06" y="747.91" width="10.10" height="8.23" fill="#3a369f"/>
<rect x="370.06" y="755.84" width="10.10" height="8.23" fill="#38329d"/>
<rect x="370.06" y="763.78" width="10.10" height="8.23" fill="#362e9b"/>
<rect x="370.06" y="771.71" width="10.10" height="8.23" fill="#332a99"/>
<rect x="370.06" y="779.64" width="10.10" height="39.96" fill="#312697"/>
<rect x="370.06" y="819.30" width="10.10" height="16.16" fill="#332a99"/>
<rect x="370.06" y="835.17" width="10.10" height="8.23" fill="#362e9b"/>
<rect x="370.06" y="843.10" width="10.10" height="8.23" fill="#38329d"/>
<rect x="370.06" y="851.03" width="10.10" height="8.23" fill="#3a369f"/>
<rect x="370.06" y="858.96" width="10.10" height="8.23" fill="#3c3aa1"/>
<rect x="370.06" y="866.89" width="10.10" height="16.16" fill="#3d3fa3"/>
<rect x="370.06" y="882.76" width="10.10" height="24.10" fill="#3f44a5"/>
<rect x="370.06" y="906.56" width="10.10" height="16.16" fill="#4148a8"/>
<rect x="370.06" y="922.42" width="10.10" height="8.23" fill="#424daa"/>
<rect x="370.06" y="930.35" width="10.10" height="8.23" fill="#4351ac"/>
<rect x="370.06" y="938.28" width="10.10" height="8.23" fill="#4255af"/>
<rect x="370.06" y="946.22" width="10.10" height="8.23" fill="#4159b1"/>
<rect x="370.06" y="954.15" width="10.10" height="8.23" fill="#3f62b7"/>
<rect x="370.06" y="962.08" width="10.10" height="8.23" fill="#3f66b9"/>
<rect x="370.06" y="970.01" width="10.10" height="8.23" fill="#3d70be"/>
<rect x="370.06" y="977.95" width="10.10" height="8.23" fill="#3b7bc3"/>
<rect x="370.06" y="985.88" width="10.10" height="8.23" fill="#3388cc"/>
<rect x="370.06" y="993.81" width="10.10" height="8.23" fill="#2a95d5"/>
<rect x="370.06" y="1001.74" width="10.10" height="8.23" fill="#1fa2d9"/>
<rect x="370.06" y="1009.67" width="10.10" height="8.23" fill="#18a8d2"/>
<rect x="370.06" y="1017.61" width="10.10" height="8.23" fill="#1aabc6"/>
<rect x="370.06" y="1025.54" width="10.10" height="8.23" fill="#1fafac"/>
<rect x="370.06" y="1033.47" width="10.10" height="8.23" fill="#29b096"/>
<rect x="370.06" y="1041.40" width="10.10" height="8.23" fill="#47b57c"/>
<rect x="370.06" y="1049.34" width="10.10" height="8.23" fill="#69bb60"/>
<rect x="370.06" y="1057.27" width="10.10" height="8.23" fill="#8cc439"/>
<rect x="379.85" y="597.20" width="10.10" height="8.23" fill="#1ba5d6"/>
<rect x="379.85" y="605.13" width="10.10" height="8.23" fill="#249cd7"/>
<rect x="379.85" y="613.06" width="10.10" height="8.23" fill="#2f8fd1"/>
<rect x="379.85" y="621.00" width="10.10" height="8.23" fill="#3881c7"/>
<rect x="379.85" y="628.93" width="10.10" height="8.23" fill="#3c75c0"/>
<rect x="379.85" y="636.86" width="10.10" height="8.23" fill="#3d70be"/>
<rect x="379.85" y="644.79" width="10.10" height="8.23" fill="#3f66b9"/>
<rect x="379.85" y="652.73" width="10.10" height="8.23" fill="#405eb4"/>
<rect x="379.85" y="660.66" width="10.10" height="8.23" fill="#4159b1"/>
<rect x="379.85" y="668.59" width="10.10" height="8.23" fill="#4255af"/>
<rect x="379.85" y="676.52" width="10.10" height="8.23" fill="#4351ac"/>
<rect x="379.85" y="684.45" width="10.10" height="8.23" fill="#424daa"/>
<rect x="379.85" y="692.39" width="10.10" height="8.23" fill="#4148a8"/>
<rect x="379.85" y="700.32" width="10.10" height="32.03" fill="#3f44a5"/>
<rect x="379.85" y="732.05" width="10.10" height="8.23" fill="#3d3fa3"/>
<rect x="379.85" y="739.98" width="10.10" height="16.16" fill="#3c3aa1"/>
<rect x="379.85" y="755.84" width="10.10" height="8.23" fill="#3a369f"/>
<rect x="379.85" y="763.78" width="10.10" height="8.23" fill="#38329d"/>
<rect x="379.85" y="771.71" width="10.10" height="8.23" fill="#362e9b"/>
<rect x="379.85" y="779.64" width="10.10" height="8.23" fill="#332a99"/>
<rect x="379.85" y="787.57" width="10.10" height="39.96" fill="#312697"/>
<rect x="379.85" y="827.23" width="10.10" height="8.23" fill="#332a99"/>
<rect x="379.85" y="835.17" width="10.10" height="8.23" fill="#362e9b"/>
<rect x="379.85" y="843.10" width="10.10" height="8.23" fill="#38329d"/>
<rect x="379.85" y="851.03" width="10.10" height="8.23" fill="#3a369f"/>
<rect x="379.85" y="858.96" width="10.10" height="8.23" fill="#3c3aa1"/>
<rect x="379.85" y="866.89" width="10.10" height="16.16" fill="#3d3fa3"/>
<rect x="379.85" y="882.76" width="10.10" height="32.03" fill="#3f44a5"/>
<rect x="379.85" y="914.49" width="10.10" height="8.23" fill="#4148a8"/>
<rect x="379.85" y="922.42" width="10.10" height="8.23" fill="#424daa"/>
<rect x="379.85" y="930.35" width="10.10" height="8.23" fill="#4351ac"/>
<rect x="379.85" y="938.28" width="10.10" height="8.23" fill="#4255af"/>
<rect x="379.85" y="946.22" width="10.10" height="8.23" fill="#4159b1"/>
<rect x="379.85" y="954.15" width="10.10" height="8.23" fill="#405eb4"/>
<rect x="379.85" y="962.08" width="10.10" height="8.23" fill="#3f66b9"/>
<rect x="379.85" y="970.01" width="10.10" height="8.23" fill="#3e6bbc"/>
<rect x="379.85" y="977.95" width="10.10" height="8.23" fill="#3c75c0"/>
<rect x="379.85" y="985.88" width="10.10" height="8.23" fill="#3881c7"/>
<rect x="379.85" y="993.81" width="10.10" height="8.23" fill="#2f8fd1"/>
<rect x="379.85" y="1001.74" width="10.10" height="8.23" fill="#249cd7"/>
<rect x="379.85" y="1009.67" width="10.10" height="8.23" fill="#1ba5d6"/>
<rect x="379.85" y="1017.61" width="10.10" height="8.23" fill="#19aacc"/>
<rect x="379.85" y="1025.54" width="10.10" height="8.23" fill="#1cacbd"/>
<rect x="379.85" y="1033.47" width="10.10" height="8.23" fill="#24afa1"/>
<rect x="379.85" y="1041.40" width="10.10" height="8.23" fill="#32b18d"/>
<rect x="379.85" y="1049.34" width="10.10" height="8.23" fill="#54b773"/>
<rect x="379.85" y="1057.27" width="10.10" height="8.23" fill="#73bd55"/>
<rect x="389.65" y="597.20" width="10.10" height="8.23" fill="#19aacc"/>
<rect x="389.65" y="605.13" width="10.10" height="8.23" fill="#1fa2d9"/>
<rect x="389.65" y="613.06" width="10.10" height="8.23" fill="#2a95d5"/>
<rect x="389.65" y="621.00" width="10.10" height="8.23" fill="#3388cc"/>
<rect x="389.65" y="628.93" width="10.10" height="8.23" fill="#3b7bc3"/>
<rect x="389.65" y="636.86" width="10.10" height="8.23" fill="#3d70be"/>
<rect x="389.65" y="644.79" width="10.10" height="8.23" fill="#3e6bbc"/>
<rect x="389.65" y="652.73" width="10.10" height="8.23" fill="#3f62b7"/>
<rect x="389.65" y="660.66" width="10.10" height="8.23" fill="#405eb4"/>
<rect x="389.65" y="668.59" width="10.10" height="8.23" fill="#4255af"/>
<rect x="389.65" y="676.52" width="10.10" height="8.23" fill="#4351ac"/>
<rect x="389.65" y="684.45" width="10.10" height="8.23" fill="#424daa"/>
<rect x="389.65" y="692.39" width="10.10" height="16.16" fill="#4148a8"/>
<rect x="389.65" y="708.25" width="10.10" height="24.10" fill="#3f44a5"/>
<rect x="389.65" y="732.05" width="10.10" height="16.16" fill="#3d3fa3"/>
<rect x="389.65" y="747.91" width="10.10" height="8.23" fill="#3c3aa1"/>
<rect x="389.65" y="755.84" width="10.10" height="8.23" fill="#3a369f"/>
<rect x="389.65" y="763.78" width="10.10" height="8.23" fill="#38329d"/>
<rect x="389.65" y="771.71" width="10.10" height="8.23" fill="#362e9b"/>
<rect x="389.65" y="779.64" width="10.10" height="8.23" fill="#332a99"/>
<rect x="389.65" y="787.57" width="10.10" height="39.96" fill="#312697"/>
<rect x="389.65" y="827.23" width="10.10" height="8.23" fill="#332a99"/>
<rect x="389.65" y="835.17" width="10.10" height="8.23" fill="#362e9b"/>
<rect x="389.65" y="843.10" width="10.10" height="8.23" fill="#38329d"/>
<rect x="389.65" y="851.03" width="10.10" height="8.23" fill="#3a369f"/>
<rect x="389.65" y="858.96" width="10.10" height="16.16" fill="#3c3aa1"/>
<rect x="389.65" y="874.83" width="10.10" height="8.23" fill="#3d3fa3"/>
<rect x="389.65" y="882.76" width="10.10" height="32.03" fill="#3f44a5"/>
<rect x="389.65" y="914.49" width="10.10" height="16.16" fill="#4148a8"/>
<rect x="389.65" y="930.35" width="10.10" height="8.23" fill="#424daa"/>
<rect x="389.65" y="938.28" width="10.10" height="8.23" fill="#4351ac"/>
<rect x="389.65" y="946.22" width="10.10" height="8.23" fill="#4255af"/>
<rect x="389.65" y="954.15" width="10.10" height="8.23" fill="#4159b1"/>
<rect x="389.65" y="962.08" width="10.10" height="8.23" fill="#3f62b7"/>
<rect x="389.65" y="970.01" width="10.10" height="8.23" fill="#3f66b9"/>
<rect x="389.65" y="977.95" width="10.10" height="8.23" fill="#3d70be"/>
<rect x="389.65" y="985.88" width="10.10" height="8.23" fill="#3c75c0"/>
<rect x="389.65" y="993.81" width="10.10" height="8.23" fill="#3881c7"/>
<rect x="389.65" y="1001.74" width="10.10" height="8.23" fill="#2f8fd1"/>
<rect x="389.65" y="1009.67" width="10.10" height="8.23" fill="#249cd7"/>
<rect x="389.65" y="1017.61" width="10.10" height="8.23" fill="#1ba5d6"/>
<rect x="389.65" y="1025.54" width="10.10" height="8.23" fill="#19aacc"/>
<rect x="389.65" y="1033.47" width="10.10" height="8.23" fill="#1daeb5"/>
<rect x="389.65" y="1041.40" width="10.10" height="8.23" fill="#24afa1"/>
<rect x="389.65" y="1049.34" width="10.10" height="8.23" fill="#3bb385"/>
<rect x="389.65" y="1057.27" width="10.10" height="8.23" fill="#54b773"/>
<rect x="399.45" y="597.20" width="10.10" height="8.23" fill="#1cacbd"/>
<rect x="399.45" y="605.13" width="10.10" height="8.23" fill="#18a8d2"/>
<rect x="399.45" y="613.06" width="10.10" height="8.23" fill="#1fa2d9"/>
<rect x="399.45" y="621.00" width="10.10" height="8.23" fill="#2a95d5"/>
<rect x="399.45" y="628.93" width="10.10" height="8.23" fill="#3388cc"/>
<rect x="399.45" y="636.86" width="10.10" height="8.23" fill="#3b7bc3"/>
<rect x="399.45" y="644.79" width="10.10" height="8.23" fill="#3d70be"/>
<rect x="399.45" y="652.73" width="10.10" height="8.23" fill="#3f66b9"/>
<rect x="399.45" y="660.66" width="10.10" height="8.23" fill="#3f62b7"/>
<rect x="399.45" y="668.59" width="10.10" height="8.23" fill="#4159b1"/>
<rect x="399.45" y="676.52" width="10.10" height="8.23" fill="#4255af"/>
<rect x="399.45" y="684.45" width="10.10" height="8.23" fill="#4351ac"/>
<rect x="399.45" y="692.39" width="10.10" height="8.23" fill="#424daa"/>
<rect x="399.45" y="700.32" width="10.10" height="8.23" fill="#4148a8"/>
<rect x="399.45" y="708.25" width="10.10" height="32.03" fill="#3f44a5"/>
<rect x="399.45" y="739.98" width="10.10" height="8.23" fill="#3d3fa3"/>
<rect x="399.45" y="747.91" width="10.10" height="16.16" fill="#3c3aa1"/>
<rect x="399.45" y="763.78" width="10.10" height="8.23" fill="#3a369f"/>
<rect x="399.45" y="771.71" width="10.10" height="8.23" fill="#38329d"/>
<rect x="399.45" y="779.64" width="10.10" height="8.23" fill="#362e9b"/>
<rect x="399.45" y="787.57" width="10.10" height="8.23" fill="#332a99"/>
<rect x="399.45" y="795.51" width="10.10" height="39.96" fill="#312697"/>
<rect x="399.45" y="835.17" width="10.10" height="8.23" fill="#332a99"/>
<rect x="399.45" y="843.10" width="10.10" height="8.23" fill="#362e9b"/>
<rect x="399.45" y="851.03" width="10.10" height="8.23" fill="#38329d"/>
<rect x="399.45" y="858.96" width="10.10" height="8.23" fill="#3a369f"/>
<rect x="399.45" y="866.89" width="10.10" height="8.23" fill="#3c3aa1"/>
<rect x="399.45" y="874.83" width="10.10" height="16.16" fill="#3d3fa3"/>
<rect x="399.45" y="890.69" width="10.10" height="24.10" fill="#3f44a5"/>
<rect x="399.45" y="914.49" width="10.10" height="16.16" fill="#4148a8"/>
<rect x="399.45" y="930.35" width="10.10" height="16.16" fill="#424daa"/>
<rect x="399.45" y="946.22" width="10.10" height="8.23" fill="#4351ac"/>
<rect x="399.45" y="954.15" width="10.10" height="8.23" fill="#4159b1"/>
<rect x="399.45" y="962.08" width="10.10" height="8.23" fill="#405eb4"/>
<rect x="399.45" y="970.01" width="10.10" height="8.23" fill="#3f62b7"/>
<rect x="399.45" y="977.95" width="10.10" height="8.23" fill="#3f66b9"/>
<rect x="399.45" y="985.88" width="10.10" height="8.23" fill="#3d70be"/>
<rect x="399.45" y="993.81" width="10.10" height="8.23" fill="#3b7bc3"/>
<rect x="399.45" y="1001.74" width="10.10" height="8.23" fill="#3881c7"/>
<rect x="399.45" y="1009.67" width="10.10" height="8.23" fill="#2f8fd1"/>
<rect x="399.45" y="1017.61" width="10.10" height="8.23" fill="#249cd7"/>
<rect x="399.45" y="1025.54" width="10.10" height="8.23" fill="#1ba5d6"/>
<rect x="399.45" y="1033.47" width="10.10" height="8.23" fill="#19aacc"/>
<rect x="399.45" y="1041.40" width="10.10" height="8.23" fill="#1daeb5"/>
<rect x="399.45" y="1049.34" width="10.10" height="8.23" fill="#24afa1"/>
<rect x="399.45" y="1057.27" width="10.10" height="8.23" fill="#32b18d"/>
<rect x="409.25" y="597.20" width="10.10" height="8.23" fill="#1daeb5"/>
<rect x="409.25" y="605.13" width="10.10" height="8.23" fill="#1aabc6"/>
<rect x="409.25" y="613.06" width="10.10" height="8.23" fill="#1ba5d6"/>
<rect x="409.25" y="621.00" width="10.10" height="8.23" fill="#249cd7"/>
<rect x="409.25" y="628.93" width="10.10" height="8.23" fill="#2f8fd1"/>
<rect x="409.25" y="636.86" width="10.10" height="8.23" fill="#3881c7"/>
<rect x="409.25" y="644.79" width="10.10" height="8.23" fill="#3c75c0"/>
<rect x="409.25" y="652.73" width="10.10" height="8.23" fill="#3e6bbc"/>
<rect x="409.25" y="660.66" width="10.10" height="8.23" fill="#3f66b9"/>
<rect x="409.25" y="668.59" width="10.10" height="8.23" fill="#405eb4"/>
<rect x="409.25" y="676.52" width="10.10" height="8.23" fill="#4159b1"/>
<rect x="409.25" y="684.45" width="10.10" height="8.23" fill="#4255af"/>
<rect x="409.25" y="692.39" width="10.10" height="16.16" fill="#424daa"/>
<rect x="409.25" y="708.25" width="10.10" height="8.23" fill="#4148a8"/>
<rect x="409.25" y="716.18" width="10.10" height="24.10" fill="#3f44a5"/>
<rect x="409.25" y="739.98" width="10.10" height="16.16" fill="#3d3fa3"/>
<rect x="409.25" y="755.84" width="10.10" height="8.23" fill="#3c3aa1"/>
<rect x="409.25" y="763.78" width="10.10" height="8.23" fill="#3a369f"/>
<rect x="409.25" y="771.71" width="10.10" height="8.23" fill="#38329d"/>
<rect x="409.25" y="779.64" width="10.10" height="8.23" fill="#362e9b"/>
<rect x="409.25" y="787.57" width="10.10" height="8.23" fill="#332a99"/>
<rect x="409.25" y="795.51" width="10.10" height="39.96" fill="#312697"/>
<rect x="409.25" y="835.17" width="10.10" height="8.23" fill="#332a99"/>
<rect x="409.25" y="843.10" width="10.10" height="16.16" fill="#362e9b"/>
<rect x="409.25" y="858.96" width="10.10" height="16.16" fill="#3a369f"/>
<rect x="409.25" y="874.83" width="10.10" height="8.23" fill="#3c3aa1"/>
<rect x="409.25" y="882.76" width="10.10" height="16.16" fill="#3d3fa3"/>
<rect x="409.25" y="898.62" width="10.10" height="24.10" fill="#3f44a5"/>
<rect x="409.25" y="922.42" width="10.10" height="16.16" fill="#4148a8"/>
<rect x="409.25" y="938.28" width="10.10" height="8.23" fill="#424daa"/>
<rect x="409.25" y="946.22" width="10.10" height="8.23" fill="#4351ac"/>
<rect x="409.25" y="954.15" width="10.10" height="8.23" fill="#4255af"/>
<rect x="409.25" y="962.08" width="10.10" height="8.23" fill="#4159b1"/>
<rect x="409.25" y="970.01" width="10.10" height="8.23" fill="#405eb4"/>
<rect x="409.25" y="977.95" width="10.10" height="8.23" fill="#3f62b7"/>
<rect x="409.25" y="985.88" width="10.10" height="8.23" fill="#3e6bbc"/>
<rect x="409.25" y="993.81" width="10.10" height="8.23" fill="#3d70be"/>
<rect x="409.25" y="1001.74" width="10.10" height="8.23" fill="#3b7bc3"/>
<rect x="409.25" y="1009.67" width="10.10" height="8.23" fill="#3388cc"/>
<rect x="409.25" y="1017.61" width="10.10" height="8.23" fill="#2f8fd1"/>
<rect x="409.25" y="1025.54" width="10.10" height="8.23" fill="#249cd7"/>
<rect x="409.25" y="1033.47" width="10.10" height="8.23" fill="#1ba5d6"/>
<rect x="409.25" y="1041.40" width="10.10" height="8.23" fill="#19aacc"/>
<rect x="409.25" y="1049.34" width="10.10" height="8.23" fill="#1daeb5"/>
<rect x="409.25" y="1057.27" width="10.10" height="8.23" fill="#24afa1"/>
<rect x="419.04" y="597.20" width="10.10" height="8.23" fill="#24afa1"/>
<rect x="419.04" y="605.13" width="10.10" height="8.23" fill="#1cacbd"/>
<rect x="419.04" y="613.06" width="10.10" height="8.23" fill="#19aacc"/>
<rect x="419.04" y="621.00" width="10.10" height="8.23" fill="#1ba5d6"/>
<rect x="419.04" y="628.93" width="10.10" height="8.23" fill="#2a95d5"/>
<rect x="419.04" y="636.86" width="10.10" height="8.23" fill="#3388cc"/>
<rect x="419.04" y="644.79" width="10.10" height="8.23" fill="#3b7bc3"/>
<rect x="419.04" y="652.73" width="10.10" height="8.23" fill="#3c75c0"/>
<rect x="419.04" y="660.66" width="10.10" height="8.23" fill="#3e6bbc"/>
<rect x="419.04" y="668.59" width="10.10" height="8.23" fill="#3f62b7"/>
<rect x="419.04" y="676.52" width="10.10" height="8.23" fill="#405eb4"/>
<rect x="419.04" y="684.45" width="10.10" height="8.23" fill="#4255af"/>
<rect x="419.04" y="692.39" width="10.10" height="8.23" fill="#4351ac"/>
<rect x="419.04" y="700.32" width="10.10" height="8.23" fill="#424daa"/>
<rect x="419.04" y="708.25" width="10.10" height="16.16" fill="#4148a8"/>
<rect x="419.04" y="724.12" width="10.10" height="24.10" fill="#3f44a5"/>
<rect x="419.04" y="747.91" width="10.10" height="16.16" fill="#3d3fa3"/>
<rect x="419.04" y="763.78" width="10.10" height="8.23" fill="#3c3aa1"/>
<rect x="419.04" y="771.71" width="10.10" height="8.23" fill="#3a369f"/>
<rect x="419.04" y="779.64" width="10.10" height="8.23" fill="#38329d"/>
<rect x="419.04" y="787.57" width="10.10" height="8.23" fill="#362e9b"/>
<rect x="419.04" y="795.51" width="10.10" height="8.23" fill="#332a99"/>
<rect x="419.04" y="803.44" width="10.10" height="39.96" fill="#312697"/>
<rect x="419.04" y="843.10" width="10.10" height="8.23" fill="#332a99"/>
<rect x="419.04" y="851.03" width="10.10" height="8.23" fill="#362e9b"/>
<rect x="419.04" y="858.96" width="10.10" height="8.23" fill="#38329d"/>
<rect x="419.04" y="866.89" width="10.10" height="8.23" fill="#3a369f"/>
<rect x="419.04" y="874.83" width="10.10" height="16.16" fill="#3c3aa1"/>
<rect x="419.04" y="890.69" width="10.10" height="8.23" fill="#3d3fa3"/>
<rect x="419.04" y="898.62" width="10.10" height="32.03" fill="#3f44a5"/>
<rect x="419.04" y="930.35" width="10.10" height="16.16" fill="#4148a8"/>
<rect x="419.04" y="946.22" width="10.10" height="8.23" fill="#424daa"/>
<rect x="419.04" y="954.15" width="10.10" height="8.23" fill="#4351ac"/>
<rect x="419.04" y="962.08" width="10.10" height="8.23" fill="#4255af"/>
<rect x="419.04" y="970.01" width="10.10" height="8.23" fill="#4159b1"/>
<rect x="419.04" y="977.95" width="10.10" height="8.23" fill="#405eb4"/>
<rect x="419.04" y="985.88" width="10.10" height="8.23" fill="#3f62b7"/>
<rect x="419.04" y="993.81" width="10.10" height="8.23" fill="#3e6bbc"/>
<rect x="419.04" y="1001.74" width="10.10" height="8.23" fill="#3d70be"/>
<rect x="419.04" y="1009.67" width="10.10" height="8.23" fill="#3b7bc3"/>
<rect x="419.04" y="1017.61" width="10.10" height="8.23" fill="#3388cc"/>
<rect x="419.04" y="1025.54" width="10.10" height="8.23" fill="#2f8fd1"/>
<rect x="419.04" y="1033.47" width="10.10" height="8.23" fill="#249cd7"/>
<rect x="419.04" y="1041.40" width="10.10" height="8.23" fill="#1ba5d6"/>
<rect x="419.04" y="1049.34" width="10.10" height="8.23" fill="#19aacc"/>
<rect x="419.04" y="1057.27" width="10.10" height="8.23" fill="#1daeb5"/>
<rect x="428.84" y="597.20" width="10.10" height="8.23" fill="#32b18d"/>
<rect x="428.84" y="605.13" width="10.10" height="8.23" fill="#1fafac"/>
<rect x="428.84" y="613.06" width="10.10" height="8.23" fill="#1cacbd"/>
<rect x="428.84" y="621.00" width="10.10" height="8.23" fill="#18a8d2"/>
<rect x="428.84" y="628.93" width="10.10" height="8.23" fill="#1fa2d9"/>
<rect x="428.84" y="636.86" width="10.10" height="8.23" fill="#2a95d5"/>
<rect x="428.84" y="644.79" width="10.10" height="8.23" fill="#3388cc"/>
<rect x="428.84" y="652.73" width="10.10" height="8.23" fill="#3b7bc3"/>
<rect x="428.84" y="660.66" width="10.10" height="8.23" fill="#3d70be"/>
<rect x="428.84" y="668.59" width="10.10" height="8.23" fill="#3f66b9"/>
<rect x="428.84" y="676.52" width="10.10" height="8.23" fill="#3f62b7"/>
<rect x="428.84" y="684.45" width="10.10" height="8.23" fill="#4159b1"/>
<rect x="428.84" y="692.39" width="10.10" height="8.23" fill="#4255af"/>
<rect x="428.84" y="700.32" width="10.10" height="8.23" fill="#4351ac"/>
<rect x="428.84" y="708.25" width="10.10" height="8.23" fill="#424daa"/>
<rect x="428.84" y="716.18" width="10.10" height="16.16" fill="#4148a8"/>
<rect x="428.84" y="732.05" width="10.10" height="24.10" fill="#3f44a5"/>
<rect x="428.84" y="755.84" width="10.10" height="16.16" fill="#3d3fa3"/>
<rect x="428.84" y="771.71" width="10.10" height="8.23" fill="#3c3aa1"/>
<rect x="428.84" y="779.64" width="10.10" height="8.23" fill="#3a369f"/>
<rect x="428.84" y="787.57" width="10.10" height="8.23" fill="#38329d"/>
<rect x="428.84" y="795.51" width="10.10" height="8.23" fill="#362e9b"/>
<rect x="428.84" y="803.44" width="10.10" height="8.23" fill="#332a99"/>
<rect x="428.84" y="811.37" width="10.10" height="39.96" fill="#312697"/>
<rect x="428.84" y="851.03" width="10.10" height="8.23" fill="#332a99"/>
<rect x="428.84" y="858.96" width="10.10" height="8.23" fill="#362e9b"/>
<rect x="428.84" y="866.89" width="10.10" height="8.23" fill="#38329d"/>
<rect x="428.84" y="874.83" width="10.10" height="8.23" fill="#3a369f"/>
<rect x="428.84" y="882.76" width="10.10" height="8.23" fill="#3c3aa1"/>
<rect x="428.84" y="890.69" width="10.10" height="16.16" fill="#3d3fa3"/>
<rect x="428.84" y="906.56" width="10.10" height="32.03" fill="#3f44a5"/>
<rect x="428.84" y="938.28" width="10.10" height="16.16" fill="#4148a8"/>
<rect x="428.84" y="954.15" width="10.10" height="8.23" fill="#424daa"/>
<rect x="428.84" y="962.08" width="10.10" height="8.23" fill="#4351ac"/>
<rect x="428.84" y="970.01" width="10.10" height="8.23" fill="#4255af"/>
<rect x="428.84" y="977.95" width="10.10" height="8.23" fill="#4159b1"/>
<rect x="428.84" y="985.88" width="10.10" height="8.23" fill="#405eb4"/>
<rect x="428.84" y="993.81" width="10.10" height="8.23" fill="#3f66b9"/>
<rect x="428.84" y="1001.74" width="10.10" height="8.23" fill="#3e6bbc"/>
<rect x="428.84" y="1009.67" width="10.10" height="8.23" fill="#3c75c0"/>
<rect x="428.84" y="1017.61" width="10.10" height="8.23" fill="#3b7bc3"/>
<rect x="428.84" y="1025.54" width="10.10" height="8.23" fill="#3388cc"/>
<rect x="428.84" y="1033.47" width="10.10" height="8.23" fill="#2a95d5"/>
<rect x="428.84" y="1041.40" width="10.10" height="8.23" fill="#1fa2d9"/>
<rect x="428.84" y="1049.34" width="10.10" height="8.23" fill="#18a8d2"/>
<rect x="428.84" y="1057.27" width="10.10" height="8.23" fill="#1aabc6"/>
<rect x="438.64" y="597.20" width="10.10" height="8.23" fill="#3bb385"/>
<rect x="438.64" y="605.13" width="10.10" height="8.23" fill="#29b096"/>
<rect x="438.64" y="613.06" width="10.10" height="8.23" fill="#1daeb5"/>
<rect x="438.64" y="621.00" width="10.10" height="8.23" fill="#1aabc6"/>
<rect x="438.64" y="628.93" width="10.10" height="8.23" fill="#1ba5d6"/>
<rect x="438.64" y="636.86" width="10.10" height="8.23" fill="#249cd7"/>
<rect x="438.64" y="644.79" width="10.10" height="8.23" fill="#2f8fd1"/>
<rect x="438.64" y="652.73" width="10.10" height="8.23" fill="#3881c7"/>
<rect x="438.64" y="660.66" width="10.10" height="8.23" fill="#3c75c0"/>
<rect x="438.64" y="668.59" width="10.10" height="8.23" fill="#3d70be"/>
<rect x="438.64" y="676.52" width="10.10" height="8.23" fill="#3f66b9"/>
<rect x="438.64" y="684.45" width="10.10" height="8.23" fill="#405eb4"/>
<rect x="438.64" y="692.39" width="10.10" height="8.23" fill="#4159b1"/>
<rect x="438.64" y="700.32" width="10.10" height="8.23" fill="#4255af"/>
<rect x="438.64" y="708.25" width="10.10" height="8.23" fill="#4351ac"/>
<rect x="438.64" y="716.18" width="10.10" height="8.23" fill="#424daa"/>
<rect x="438.64" y="724.12" width="10.10" height="8.23" fill="#4148a8"/>
<rect x="438.64" y="732.05" width="10.10" height="32.03" fill="#3f44a5"/>
<rect x="438.64" y="763.78" width="10.10" height="8.23" fill="#3d3fa3"/>
<rect x="438.64" y="771.71" width="10.10" height="16.16" fill="#3c3aa1"/>
<rect x="438.64" y="787.57" width="10.10" height="8.23" fill="#3a369f"/>
<rect x="438.64" y="795.51" width="10.10" height="8.23" fill="#38329d"/>
<rect x="438.64" y="803.44" width="10.10" height="8.23" fill="#362e9b"/>
<rect x="438.64" y="811.37" width="10.10" height="8.23" fill="#332a99"/>
<rect x="438.64" y="819.30" width="10.10" height="39.96" fill="#312697"/>
<rect x="438.64" y="858.96" width="10.10" height="8.23" fill="#332a99"/>
<rect x="438.64" y="866.89" width="10.10" height="8.23" fill="#362e9b"/>
<rect x="438.64" y="874.83" width="10.10" height="8.23" fill="#38329d"/>
<rect x="438.64" y="882.76" width="10.10" height="8.23" fill="#3a369f"/>
<rect x="438.64" y="890.69" width="10.10" height="8.23" fill="#3c3aa1"/>
<rect x="438.64" y="898.62" width="10.10" height="16.16" fill="#3d3fa3"/>
<rect x="438.64" y="914.49" width="10.10" height="32.03" fill="#3f44a5"/>
<rect x="438.64" y="946.22" width="10.10" height="8.23" fill="#4148a8"/>
<rect x="438.64" y="954.15" width="10.10" height="16.16" fill="#424daa"/>
<rect x="438.64" y="970.01" width="10.10" height="8.23" fill="#4351ac"/>
<rect x="438.64" y="977.95" width="10.10" height="8.23" fill="#4255af"/>
<rect x="438.64" y="985.88" width="10.10" height="8.23" fill="#4159b1"/>
<rect x="438.64" y="993.81" width="10.10" height="8.23" fill="#3f62b7"/>
<rect x="438.64" y="1001.74" width="10.10" height="8.23" fill="#3f66b9"/>
<rect x="438.64" y="1009.67" width="10.10" height="8.23" fill="#3d70be"/>
<rect x="438.64" y="1017.61" width="10.10" height="8.23" fill="#3c75c0"/>
<rect x="438.64" y="1025.54" width="10.10" height="8.23" fill="#3881c7"/>
<rect x="438.64" y="1033.47" width="10.10" height="8.23" fill="#2f8fd1"/>
<rect x="438.64" y="1041.40" width="10.10" height="8.23" fill="#249cd7"/>
<rect x="438.64" y="1049.34" width="10.10" height="8.23" fill="#1ba5d6"/>
<rect x="438.64" y="1057.27" width="10.10" height="8.23" fill="#19aacc"/>
<rect x="448.44" y="597.20" width="10.10" height="8.23" fill="#54b773"/>
<rect x="448.44" y="605.13" width="10.10" height="8.23" fill="#32b18d"/>
<rect x="448.44" y="613.06" width="10.10" height="8.23" fill="#24afa1"/>
<rect x="448.44" y="621.00" width="10.10" height="8.23" fill="#1cacbd"/>
<rect x="448.44" y="628.93" width="10.10" height="8.23" fill="#19aacc"/>
<rect x="448.44" y="636.86" width="10.10" height="8.23" fill="#1ba5d6"/>
<rect x="448.44" y="644.79" width="10.10" height="8.23" fill="#249cd7"/>
<rect x="448.44" y="652.73" width="10.10" height="8.23" fill="#3388cc"/>
<rect x="448.44" y="660.66" width="10.10" height="8.23" fill="#3881c7"/>
<rect x="448.44" y="668.59" width="10.10" height="8.23" fill="#3c75c0"/>
<rect x="448.44" y="676.52" width="10.10" height="8.23" fill="#3e6bbc"/>
<rect x="448.44" y="684.45" width="10.10" height="8.23" fill="#3f66b9"/>
<rect x="448.44" y="692.39" width="10.10" height="8.23" fill="#405eb4"/>
<rect x="448.44" y="700.32" width="10.10" height="8.23" fill="#4159b1"/>
<rect x="448.44" y="708.25" width="10.10" height="8.23" fill="#4255af"/>
<rect x="448.44" y="716.18" width="10.10" height="8.23" fill="#4351ac"/>
<rect x="448.44" y="724.12" width="10.10" height="8.23" fill="#424daa"/>
<rect x="448.44" y="732.05" width="10.10" height="8.23" fill="#4148a8"/>
<rect x="448.44" y="739.98" width="10.10" height="24.10" fill="#3f44a5"/>
<rect x="448.44" y="763.78" width="10.10" height="16.16" fill="#3d3fa3"/>
<rect x="448.44" y="779.64" width="10.10" height="8.23" fill="#3c3aa1"/>
<rect x="448.44" y="787.57" width="10.10" height="16.16" fill="#3a369f"/>
<rect x="448.44" y="803.44" width="10.10" height="8.23" fill="#38329d"/>
<rect x="448.44" y="811.37" width="10.10" height="8.23" fill="#362e9b"/>
<rect x="448.44" y="819.30" width="10.10" height="8.23" fill="#332a99"/>
<rect x="448.44" y="827.23" width="10.10" height="39.96" fill="#312697"/>
<rect x="448.44" y="866.89" width="10.10" height="8.23" fill="#332a99"/>
<rect x="448.44" y="874.83" width="10.10" height="8.23" fill="#362e9b"/>
<rect x="448.44" y="882.76" width="10.10" height="8.23" fill="#38329d"/>
<rect x="448.44" y="890.69" width="10.10" height="8.23" fill="#3a369f"/>
<rect x="448.44" y="898.62" width="10.10" height="8.23" fill="#3c3aa1"/>
<rect x="448.44" y="906.56" width="10.10" height="16.16" fill="#3d3fa3"/>
<rect x="448.44" y="922.42" width="10.10" height="24.10" fill="#3f44a5"/>
<rect x="448.44" y="946.22" width="10.10" height="16.16" fill="#4148a8"/>
<rect x="448.44" y="962.08" width="10.10" height="8.23" fill="#424daa"/>
<rect x="448.44" y="970.01" width="10.10" height="8.23" fill="#4351ac"/>
<rect x="448.44" y="977.95" width="10.10" height="8.23" fill="#4255af"/>
<rect x="448.44" y="985.88" width="10.10" height="8.23" fill="#4159b1"/>
<rect x="448.44" y="993.81" width="10.10" height="8.23" fill="#405eb4"/>
<rect x="448.44" y="1001.74" width="10.10" height="8.23" fill="#3f62b7"/>
<rect x="448.44" y="1009.67" width="10.10" height="8.23" fill="#3e6bbc"/>
<rect x="448.44" y="1017.61" width="10.10" height="8.23" fill="#3d70be"/>
<rect x="448.44" y="1025.54" width="10.10" height="8.23" fill="#3b7bc3"/>
<rect x="448.44" y="1033.47" width="10.10" height="8.23" fill="#3388cc"/>
<rect x="448.44" y="1041.40" width="10.10" height="8.23" fill="#2a95d5"/>
<rect x="448.44" y="1049.34" width="10.10" height="8.23" fill="#249cd7"/>
<rect x="448.44" y="1057.27" width="10.10" height="8.23" fill="#18a8d2"/>
<rect x="458.24" y="597.20" width="10.10" height="8.23" fill="#60b969"/>
<rect x="458.24" y="605.13" width="10.10" height="8.23" fill="#47b57c"/>
<rect x="458.24" y="613.06" width="10.10" height="8.23" fill="#29b096"/>
<rect x="458.24" y="621.00" width="10.10" height="8.23" fill="#1fafac"/>
<rect x="458.24" y="628.93" width="10.10" height="8.23" fill="#1aabc6"/>
<rect x="458.24" y="636.86" width="10.10" height="8.23" fill="#18a8d2"/>
<rect x="458.24" y="644.79" width="10.10" height="8.23" fill="#1fa2d9"/>
<rect x="458.24" y="652.73" width="10.10" height="8.23" fill="#2a95d5"/>
<rect x="458.24" y="660.66" width="10.10" height="8.23" fill="#3388cc"/>
<rect x="458.24" y="668.59" width="10.10" height="8.23" fill="#3b7bc3"/>
<rect x="458.24" y="676.52" width="10.10" height="8.23" fill="#3d70be"/>
<rect x="458.24" y="684.45" width="10.10" height="8.23" fill="#3e6bbc"/>
<rect x="458.24" y="692.39" width="10.10" height="8.23" fill="#3f62b7"/>
<rect x="458.24" y="700.32" width="10.10" height="8.23" fill="#405eb4"/>
<rect x="458.24" y="708.25" width="10.10" height="8.23" fill="#4255af"/>
<rect x="458.24" y="716.18" width="10.10" height="8.23" fill="#4351ac"/>
<rect x="458.24" y="724.12" width="10.10" height="16.16" fill="#424daa"/>
<rect x="458.24" y="739.98" width="10.10" height="8.23" fill="#4148a8"/>
<rect x="458.24" y="747.91" width="10.10" height="24.10" fill="#3f44a5"/>
<rect x="458.24" y="771.71" width="10.10" height="16.16" fill="#3d3fa3"/>
<rect x="458.24" y="787.57" width="10.10" height="8.23" fill="#3c3aa1"/>
<rect x="458.24" y="795.51" width="10.10" height="8.23" fill="#3a369f"/>
<rect x="458.24" y="803.44" width="10.10" height="8.23" fill="#38329d"/>
<rect x="458.24" y="811.37" width="10.10" height="8.23" fill="#362e9b"/>
<rect x="458.24" y="819.30" width="10.10" height="16.16" fill="#332a99"/>
<rect x="458.24" y="835.17" width="10.10" height="32.03" fill="#312697"/>
<rect x="458.24" y="866.89" width="10.10" height="16.16" fill="#332a99"/>
<rect x="458.24" y="882.76" width="10.10" height="8.23" fill="#362e9b"/>
<rect x="458.24" y="890.69" width="10.10" height="8.23" fill="#38329d"/>
<rect x="458.24" y="898.62" width="10.10" height="8.23" fill="#3a369f"/>
<rect x="458.24" y="906.56" width="10.10" height="8.23" fill="#3c3aa1"/>
<rect x="458.24" y="914.49" width="10.10" height="16.16" fill="#3d3fa3"/>
<rect x="458.24" y="930.35" width="10.10" height="24.10" fill="#3f44a5"/>
<rect x="458.24" y="954.15" width="10.10" height="16.16" fill="#4148a8"/>
<rect x="458.24" y="970.01" width="10.10" height="8.23" fill="#424daa"/>
<rect x="458.24" y="977.95" width="10.10" height="8.23" fill="#4351ac"/>
<rect x="458.24" y="985.88" width="10.10" height="8.23" fill="#4255af"/>
<rect x="458.24" y="993.81" width="10.10" height="8.23" fill="#4159b1"/>
<rect x="458.24" y="1001.74" width="10.10" height="8.23" fill="#405eb4"/>
<rect x="458.24" y="1009.67" width="10.10" height="8.23" fill="#3f66b9"/>
<rect x="458.24" y="1017.61" width="10.10" height="8.23" fill="#3e6bbc"/>
<rect x="458.24" y="1025.54" width="10.10" height="8.23" fill="#3c75c0"/>
<rect x="458.24" y="1033.47" width="10.10" height="8.23" fill="#3881c7"/>
<rect x="458.24" y="1041.40" width="10.10" height="8.23" fill="#3388cc"/>
<rect x="458.24" y="1049.34" width="10.10" height="8.23" fill="#2a95d5"/>
<rect x="458.24" y="1057.27" width="10.10" height="8.23" fill="#1fa2d9"/>
<rect x="468.03" y="597.20" width="10.10" height="8.23" fill="#73bd55"/>
<rect x="468.03" y="605.13" width="10.10" height="8.23" fill="#60b969"/>
<rect x="468.03" y="613.06" width="10.10" height="8.23" fill="#3bb385"/>
<rect x="468.03" y="621.00" width="10.10" height="8.23" fill="#24afa1"/>
<rect x="468.03" y="628.93" width="10.10" height="8.23" fill="#1daeb5"/>
<rect x="468.03" y="636.86" width="10.10" height="8.23" fill="#1aabc6"/>
<rect x="468.03" y="644.79" width="10.10" height="8.23" fill="#18a8d2"/>
<rect x="468.03" y="652.73" width="10.10" height="8.23" fill="#249cd7"/>
<rect x="468.03" y="660.66" width="10.10" height="8.23" fill="#2f8fd1"/>
<rect x="468.03" y="668.59" width="10.10" height="8.23" fill="#3881c7"/>
<rect x="468.03" y="676.52" width="10.10" height="8.23" fill="#3b7bc3"/>
<rect x="468.03" y="684.45" width="10.10" height="8.23" fill="#3d70be"/>
<rect x="468.03" y="692.39" width="10.10" height="8.23" fill="#3f66b9"/>
<rect x="468.03" y="700.32" width="10.10" height="8.23" fill="#3f62b7"/>
<rect x="468.03" y="708.25" width="10.10" height="8.23" fill="#4159b1"/>
<rect x="468.03" y="716.18" width="10.10" height="8.23" fill="#4255af"/>
<rect x="468.03" y="724.12" width="10.10" height="8.23" fill="#4351ac"/>
<rect x="468.03" y="732.05" width="10.10" height="8.23" fill="#424daa"/>
<rect x="468.03" y="739.98" width="10.10" height="16.16" fill="#4148a8"/>
<rect x="468.03" y="755.84" width="10.10" height="24.10" fill="#3f44a5"/>
<rect x="468.03" y="779.64" width="10.10" height="16.16" fill="#3d3fa3"/>
<rect x="468.03" y="795.51" width="10.10" height="8.23" fill="#3c3aa1"/>
<rect x="468.03" y="803.44" width="10.10" height="8.23" fill="#3a369f"/>
<rect x="468.03" y="811.37" width="10.10" height="8.23" fill="#38329d"/>
<rect x="468.03" y="819.30" width="10.10" height="8.23" fill="#362e9b"/>
<rect x="468.03" y="827.23" width="10.10" height="8.23" fill="#332a99"/>
<rect x="468.03" y="835.17" width="10.10" height="39.96" fill="#312697"/>
<rect x="468.03" y="874.83" width="10.10" height="8.23" fill="#332a99"/>
<rect x="468.03" y="882.76" width="10.10" height="8.23" fill="#362e9b"/>
<rect x="468.03" y="890.69" width="10.10" height="8.23" fill="#38329d"/>
<rect x="468.03" y="898.62" width="10.10" height="16.16" fill="#3a369f"/>
<rect x="468.03" y="914.49" width="10.10" height="8.23" fill="#3c3aa1"/>
<rect x="468.03" y="922.42" width="10.10" height="16.16" fill="#3d3fa3"/>
<rect x="468.03" y="938.28" width="10.10" height="24.10" fill="#3f44a5"/>
<rect x="468.03" y="962.08" width="10.10" height="16.16" fill="#4148a8"/>
<rect x="468.03" y="977.95" width="10.10" height="8.23" fill="#424daa"/>
<rect x="468.03" y="985.88" width="10.10" height="8.23" fill="#4351ac"/>
<rect x="468.03" y="993.81" width="10.10" height="8.23" fill="#4255af"/>
<rect x="468.03" y="1001.74" width="10.10" height="8.23" fill="#4159b1"/>
<rect x="468.03" y="1009.67" width="10.10" height="8.23" fill="#3f62b7"/>
<rect x="468.03" y="1017.61" width="10.10" height="8.23" fill="#3f66b9"/>
<rect x="468.03" y="1025.54" width="10.10" height="8.23" fill="#3d70be"/>
<rect x="468.03" y="1033.47" width="10.10" height="8.23" fill="#3c75c0"/>
<rect x="468.03" y="1041.40" width="10.10" height="8.23" fill="#3881c7"/>
<rect x="468.03" y="1049.34" width="10.10" height="8.23" fill="#2f8fd1"/>
<rect x="468.03" y="1057.27" width="10.10" height="8.23" fill="#249cd7"/>
<rect x="477.83" y="597.20" width="10.10" height="8.23" fill="#8cc439"/>
<rect x="477.83" y="605.13" width="10.10" height="8.23" fill="#73bd55"/>
<rect x="477.83" y="613.06" width="10.10" height="8.23" fill="#54b773"/>
<rect x="477.83" y="621.00" width="10.10" height="8.23" fill="#32b18d"/>
<rect x="477.83" y="628.93" width="10.10" height="8.23" fill="#24afa1"/>
<rect x="477.83" y="636.86" width="10.10" height="8.23" fill="#1daeb5"/>
<rect x="477.83" y="644.79" width="10.10" height="8.23" fill="#19aacc"/>
<rect x="477.83" y="652.73" width="10.10" height="8.23" fill="#1ba5d6"/>
<rect x="477.83" y="660.66" width="10.10" height="8.23" fill="#249cd7"/>
<rect x="477.83" y="668.59" width="10.10" height="8.23" fill="#2f8fd1"/>
<rect x="477.83" y="676.52" width="10.10" height="8.23" fill="#3881c7"/>
<rect x="477.83" y="684.45" width="10.10" height="8.23" fill="#3c75c0"/>
<rect x="477.83" y="692.39" width="10.10" height="8.23" fill="#3d70be"/>
<rect x="477.83" y="700.32" width="10.10" height="8.23" fill="#3f66b9"/>
<rect x="477.83" y="708.25" width="10.10" height="8.23" fill="#3f62b7"/>
<rect x="477.83" y="716.18" width="10.10" height="8.23" fill="#4159b1"/>
<rect x="477.83" y="724.12" width="10.10" height="8.23" fill="#4255af"/>
<rect x="477.83" y="732.05" width="10.10" height="8.23" fill="#4351ac"/>
<rect x="477.83" y="739.98" width="10.10" height="8.23" fill="#424daa"/>
<rect x="477.83" y="747.91" width="10.10" height="16.16" fill="#4148a8"/>
<rect x="477.83" y="763.78" width="10.10" height="24.10" fill="#3f44a5"/>
<rect x="477.83" y="787.57" width="10.10" height="16.16" fill="#3d3fa3"/>
<rect x="477.83" y="803.44" width="10.10" height="8.23" fill="#3c3aa1"/>
<rect x="477.83" y="811.37" width="10.10" height="8.23" fill="#3a369f"/>
<rect x="477.83" y="819.30" width="10.10" height="8.23" fill="#38329d"/>
<rect x="477.83" y="827.23" width="10.10" height="8.23" fill="#362e9b"/>
<rect x="477.83" y="835.17" width="10.10" height="8.23" fill="#332a99"/>
<rect x="477.83" y="843.10" width="10.10" height="39.96" fill="#312697"/>
<rect x="477.83" y="882.76" width="10.10" height="8.23" fill="#332a99"/>
<rect x="477.83" y="890.69" width="10.10" height="8.23" fill="#362e9b"/>
<rect x="477.83" y="898.62" width="10.10" height="8.23" fill="#38329d"/>
<rect x="477.83" y="906.56" width="10.10" height="8.23" fill="#3a369f"/>
<rect x="477.83" y="914.49" width="10.10" height="16.16" fill="#3c3aa1"/>
<rect x="477.83" y="930.35" width="10.10" height="8.23" fill="#3d3fa3"/>
<rect x="477.83" y="938.28" width="10.10" height="32.03" fill="#3f44a5"/>
<rect x="477.83" y="970.01" width="10.10" height="16.16" fill="#4148a8"/>
<rect x="477.83" y="985.88" width="10.10" height="8.23" fill="#424daa"/>
<rect x="477.83" y="993.81" width="10.10" height="8.23" fill="#4351ac"/>
<rect x="477.83" y="1001.74" width="10.10" height="8.23" fill="#4255af"/>
<rect x="477.83" y="1009.67" width="10.10" height="8.23" fill="#4159b1"/>
<rect x="477.83" y="1017.61" width="10.10" height="8.23" fill="#3f62b7"/>
<rect x="477.83" y="1025.54" width="10.10" height="8.23" fill="#3f66b9"/>
<rect x="477.83" y="1033.47" width="10.10" height="8.23" fill="#3d70be"/>
<rect x="477.83" y="1041.40" width="10.10" height="8.23" fill="#3c75c0"/>
<rect x="477.83" y="1049.34" width="10.10" height="8.23" fill="#3881c7"/>
<rect x="477.83" y="1057.27" width="10.10" height="8.23" fill="#2f8fd1"/>
<rect x="487.63" y="597.20" width="10.10" height="8.23" fill="#bdc21d"/>
<rect x="487.63" y="605.13" width="10.10" height="8.23" fill="#8cc439"/>
<rect x="487.63" y="613.06" width="10.10" height="8.23" fill="#69bb60"/>
<rect x="487.63" y="621.00" width="10.10" height="8.23" fill="#47b57c"/>
<rect x="487.63" y="628.93" width="10.10" height="8.23" fill="#32b18d"/>
<rect x="487.63" y="636.86" width="10.10" height="8.23" fill="#1fafac"/>
<rect x="487.63" y="644.79" width="10.10" height="8.23" fill="#1cacbd"/>
<rect x="487.63" y="652.73" width="10.10" height="8.23" fill="#19aacc"/>
<rect x="487.63" y="660.66" width="10.10" height="8.23" fill="#1ba5d6"/>
<rect x="487.63" y="668.59" width="10.10" height="8.23" fill="#249cd7"/>
<rect x="487.63" y="676.52" width="10.10" height="8.23" fill="#2f8fd1"/>
<rect x="487.63" y="684.45" width="10.10" height="8.23" fill="#3881c7"/>
<rect x="487.63" y="692.39" width="10.10" height="8.23" fill="#3c75c0"/>
<rect x="487.63" y="700.32" width="10.10" height="8.23" fill="#3e6bbc"/>
<rect x="487.63" y="708.25" width="10.10" height="8.23" fill="#3f66b9"/>
<rect x="487.63" y="716.18" width="10.10" height="8.23" fill="#405eb4"/>
<rect x="487.63" y="724.12" width="10.10" height="8.23" fill="#4159b1"/>
<rect x="487.63" y="732.05" width="10.10" height="8.23" fill="#4255af"/>
<rect x="487.63" y="739.98" width="10.10" height="8.23" fill="#4351ac"/>
<rect x="487.63" y="747.91" width="10.10" height="8.23" fill="#424daa"/>
<rect x="487.63" y="755.84" width="10.10" height="16.16" fill="#4148a8"/>
<rect x="487.63" y="771.71" width="10.10" height="24.10" fill="#3f44a5"/>
<rect x="487.63" y="795.51" width="10.10" height="16.16" fill="#3d3fa3"/>
<rect x="487.63" y="811.37" width="10.10" height="8.23" fill="#3c3aa1"/>
<rect x="487.63" y="819.30" width="10.10" height="8.23" fill="#3a369f"/>
<rect x="487.63" y="827.23" width="10.10" height="8.23" fill="#38329d"/>
<rect x="487.63" y="835.17" width="10.10" height="8.23" fill="#362e9b"/>
<rect x="487.63" y="843.10" width="10.10" height="8.23" fill="#332a99"/>
<rect x="487.63" y="851.03" width="10.10" height="39.96" fill="#312697"/>
<rect x="487.63" y="890.69" width="10.10" height="8.23" fill="#332a99"/>
<rect x="487.63" y="898.62" width="10.10" height="8.23" fill="#362e9b"/>
<rect x="487.63" y="906.56" width="10.10" height="8.23" fill="#38329d"/>
<rect x="487.63" y="914.49" width="10.10" height="8.23" fill="#3a369f"/>
<rect x="487.63" y="922.42" width="10.10" height="8.23" fill="#3c3aa1"/>
<rect x="487.63" y="930.35" width="10.10" height="16.16" fill="#3d3fa3"/>
<rect x="487.63" y="946.22" width="10.10" height="32.03" fill="#3f44a5"/>
<rect x="487.63" y="977.95" width="10.10" height="8.23" fill="#4148a8"/>
<rect x="487.63" y="985.88" width="10.10" height="16.16" fill="#424daa"/>
<rect x="487.63" y="1001.74" width="10.10" height="8.23" fill="#4351ac"/>
<rect x="487.63" y="1009.67" width="10.10" height="8.23" fill="#4255af"/>
<rect x="487.63" y="1017.61" width="10.10" height="8.23" fill="#405eb4"/>
<rect x="487.63" y="1025.54" width="10.10" height="8.23" fill="#3f62b7"/>
<rect x="487.63" y="1033.47" width="10.10" height="8.23" fill="#3f66b9"/>
<rect x="487.63" y="1041.40" width="10.10" height="8.23" fill="#3d70be"/>
<rect x="487.63" y="1049.34" width="10.10" height="8.23" fill="#3c75c0"/>
<rect x="487.63" y="1057.27" width="10.10" height="8.23" fill="#3881c7"/>
<rect x="497.43" y="597.20" width="10.10" height="8.23" fill="#d9bd14"/>
<rect x="497.43" y="605.13" width="10.10" height="8.23" fill="#adc523"/>
<rect x="497.43" y="613.06" width="10.10" height="8.23" fill="#7fc147"/>
<rect x="497.43" y="621.00" width="10.10" height="8.23" fill="#69bb60"/>
<rect x="497.43" y="628.93" width="10.10" height="8.23" fill="#47b57c"/>
<rect x="497.43" y="636.86" width="10.10" height="8.23" fill="#29b096"/>
<rect x="497.43" y="644.79" width="10.10" height="8.23" fill="#1fafac"/>
<rect x="497.43" y="652.73" width="10.10" height="8.23" fill="#1cacbd"/>
<rect x="497.43" y="660.66" width="10.10" height="8.23" fill="#18a8d2"/>
<rect x="497.43" y="668.59" width="10.10" height="8.23" fill="#1fa2d9"/>
<rect x="497.43" y="676.52" width="10.10" height="8.23" fill="#2a95d5"/>
<rect x="497.43" y="684.45" width="10.10" height="8.23" fill="#3388cc"/>
<rect x="497.43" y="692.39" width="10.10" height="8.23" fill="#3b7bc3"/>
<rect x="497.43" y="700.32" width="10.10" height="8.23" fill="#3c75c0"/>
<rect x="497.43" y="708.25" width="10.10" height="8.23" fill="#3e6bbc"/>
<rect x="497.43" y="716.18" width="10.10" height="8.23" fill="#3f62b7"/>
<rect x="497.43" y="724.12" width="10.10" height="8.23" fill="#405eb4"/>
<rect x="497.43" y="732.05" width="10.10" height="8.23" fill="#4159b1"/>
<rect x="497.43" y="739.98" width="10.10" height="8.23" fill="#4255af"/>
<rect x="497.43" y="747.91" width="10.10" height="8.23" fill="#4351ac"/>
<rect x="497.43" y="755.84" width="10.10" height="8.23" fill="#424daa"/>
<rect x="497.43" y="763.78" width="10.10" height="8.23" fill="#4148a8"/>
<rect x="497.43" y="771.71" width="10.10" height="32.03" fill="#3f44a5"/>
<rect x="497.43" y="803.44" width="10.10" height="8.23" fill="#3d3fa3"/>
<rect x="497.43" y="811.37" width="10.10" height="16.16" fill="#3c3aa1"/>
<rect x="497.43" y="827.23" width="10.10" height="8.23" fill="#3a369f"/>
<rect x="497.43" y="835.17" width="10.10" height="8.23" fill="#38329d"/>
<rect x="497.43" y="843.10" width="10.10" height="8.23" fill="#362e9b"/>
<rect x="497.43" y="851.03" width="10.10" height="8.23" fill="#332a99"/>
<rect x="497.43" y="858.96" width="10.10" height="39.96" fill="#312697"/>
<rect x="497.43" y="898.62" width="10.10" height="8.23" fill="#332a99"/>
<rect x="497.43" y="906.56" width="10.10" height="8.23" fill="#362e9b"/>
<rect x="497.43" y="914.49" width="10.10" height="8.23" fill="#38329d"/>
<rect x="497.43" y="922.42" width="10.10" height="8.23" fill="#3a369f"/>
<rect x="497.43" y="930.35" width="10.10" height="8.23" fill="#3c3aa1"/>
<rect x="497.43" y="938.28" width="10.10" height="16.16" fill="#3d3fa3"/>
<rect x="497.43" y="954.15" width="10.10" height="32.03" fill="#3f44a5"/>
<rect x="497.43" y="985.88" width="10.10" height="8.23" fill="#4148a8"/>
<rect x="497.43" y="993.81" width="10.10" height="8.23" fill="#424daa"/>
<rect x="497.43" y="1001.74" width="10.10" height="8.23" fill="#4351ac"/>
<rect x="497.43" y="1009.67" width="10.10" height="8.23" fill="#4255af"/>
<rect x="497.43" y="1017.61" width="10.10" height="8.23" fill="#4159b1"/>
<rect x="497.43" y="1025.54" width="10.10" height="8.23" fill="#405eb4"/>
<rect x="497.43" y="1033.47" width="10.10" height="8.23" fill="#3f62b7"/>
<rect x="497.43" y="1041.40" width="10.10" height="8.23" fill="#3e6bbc"/>
<rect x="497.43" y="1049.34" width="10.10" height="8.23" fill="#3d70be"/>
<rect x="497.43" y="1057.27" width="10.10" height="8.23" fill="#3b7bc3"/>
<rect x="507.23" y="597.20" width="10.10" height="8.23" fill="#f5b921"/>
<rect x="507.23" y="605.13" width="10.10" height="8.23" fill="#d9bd14"/>
<rect x="507.23" y="613.06" width="10.10" height="8.23" fill="#adc523"/>
<rect x="507.23" y="621.00" width="10.10" height="8.23" fill="#7fc147"/>
<rect x="507.23" y="628.93" width="10.10" height="8.23" fill="#60b969"/>
<rect x="507.23" y="636.86" width="10.10" height="8.23" fill="#47b57c"/>
<rect x="507.23" y="644.79" width="10.10" height="8.23" fill="#29b096"/>
<rect x="507.23" y="652.73" width="10.10" height="8.23" fill="#1fafac"/>
<rect x="507.23" y="660.66" width="10.10" height="8.23" fill="#1aabc6"/>
<rect x="507.23" y="668.59" width="10.10" height="8.23" fill="#18a8d2"/>
<rect x="507.23" y="676.52" width="10.10" height="8.23" fill="#1fa2d9"/>
<rect x="507.23" y="684.45" width="10.10" height="8.23" fill="#2a95d5"/>
<rect x="507.23" y="692.39" width="10.10" height="8.23" fill="#3388cc"/>
<rect x="507.23" y="700.32" width="10.10" height="8.23" fill="#3b7bc3"/>
<rect x="507.23" y="708.25" width="10.10" height="8.23" fill="#3d70be"/>
<rect x="507.23" y="716.18" width="10.10" height="8.23" fill="#3e6bbc"/>
<rect x="507.23" y="724.12" width="10.10" height="8.23" fill="#3f62b7"/>
<rect x="507.23" y="732.05" width="10.10" height="8.23" fill="#405eb4"/>
<rect x="507.23" y="739.98" width="10.10" height="8.23" fill="#4159b1"/>
<rect x="507.23" y="747.91" width="10.10" height="8.23" fill="#4351ac"/>
<rect x="507.23" y="755.84" width="10.10" height="16.16" fill="#424daa"/>
<rect x="507.23" y="771.71" width="10.10" height="8.23" fill="#4148a8"/>
<rect x="507.23" y="779.64" width="10.10" height="24.10" fill="#3f44a5"/>
<rect x="507.23" y="803.44" width="10.10" height="16.16" fill="#3d3fa3"/>
<rect x="507.23" y="819.30" width="10.10" height="8.23" fill="#3c3aa1"/>
<rect x="507.23" y="827.23" width="10.10" height="8.23" fill="#3a369f"/>
<rect x="507.23" y="835.17" width="10.10" height="8.23" fill="#38329d"/>
<rect x="507.23" y="843.10" width="10.10" height="8.23" fill="#362e9b"/>
<rect x="507.23" y="851.03" width="10.10" height="16.16" fill="#332a99"/>
<rect x="507.23" y="866.89" width="10.10" height="39.96" fill="#312697"/>
<rect x="507.23" y="906.56" width="10.10" height="8.23" fill="#332a99"/>
<rect x="507.23" y="914.49" width="10.10" height="8.23" fill="#362e9b"/>
<rect x="507.23" y="922.42" width="10.10" height="8.23" fill="#38329d"/>
<rect x="507.23" y="930.35" width="10.10" height="8.23" fill="#3a369f"/>
<rect x="507.23" y="938.28" width="10.10" height="8.23" fill="#3c3aa1"/>
<rect x="507.23" y="946.22" width="10.10" height="16.16" fill="#3d3fa3"/>
<rect x="507.23" y="962.08" width="10.10" height="24.10" fill="#3f44a5"/>
<rect x="507.23" y="985.88" width="10.10" height="16.16" fill="#4148a8"/>
<rect x="507.23" y="1001.74" width="10.10" height="8.23" fill="#424daa"/>
<rect x="507.23" y="1009.67" width="10.10" height="8.23" fill="#4351ac"/>
<rect x="507.23" y="1017.61" width="10.10" height="8.23" fill="#4255af"/>
<rect x="507.23" y="1025.54" width="10.10" height="8.23" fill="#4159b1"/>
<rect x="507.23" y="1033.47" width="10.10" height="8.23" fill="#3f62b7"/>
<rect x="507.23" y="1041.40" width="10.10" height="8.23" fill="#3f66b9"/>
<rect x="507.23" y="1049.34" width="10.10" height="8.23" fill="#3d70be"/>
<rect x="507.23" y="1057.27" width="10.10" height="8.23" fill="#3b7bc3"/>
<rect x="517.02" y="597.20" width="10.10" height="8.23" fill="#fbc320"/>
<rect x="517.02" y="605.13" width="10.10" height="8.23" fill="#ecba1b"/>
<rect x="517.02" y="613.06" width="10.10" height="8.23" fill="#ccbf18"/>
<rect x="517.02" y="621.00" width="10.10" height="8.23" fill="#9cc52d"/>
<rect x="517.02" y="628.93" width="10.10" height="8.23" fill="#73bd55"/>
<rect x="517.02" y="636.86" width="10.10" height="8.23" fill="#60b969"/>
<rect x="517.02" y="644.79" width="10.10" height="8.23" fill="#3bb385"/>
<rect x="517.02" y="652.73" width="10.10" height="8.23" fill="#29b096"/>
<rect x="517.02" y="660.66" width="10.10" height="8.23" fill="#1daeb5"/>
<rect x="517.02" y="668.59" width="10.10" height="8.23" fill="#1aabc6"/>
<rect x="517.02" y="676.52" width="10.10" height="8.23" fill="#18a8d2"/>
<rect x="517.02" y="684.45" width="10.10" height="8.23" fill="#1fa2d9"/>
<rect x="517.02" y="692.39" width="10.10" height="8.23" fill="#2f8fd1"/>
<rect x="517.02" y="700.32" width="10.10" height="8.23" fill="#3388cc"/>
<rect x="517.02" y="708.25" width="10.10" height="8.23" fill="#3b7bc3"/>
<rect x="517.02" y="716.18" width="10.10" height="8.23" fill="#3d70be"/>
<rect x="517.02" y="724.12" width="10.10" height="8.23" fill="#3f66b9"/>
<rect x="517.02" y="732.05" width="10.10" height="8.23" fill="#3f62b7"/>
<rect x="517.02" y="739.98" width="10.10" height="8.23" fill="#405eb4"/>
<rect x="517.02" y="747.91" width="10.10" height="8.23" fill="#4255af"/>
<rect x="517.02" y="755.84" width="10.10" height="8.23" fill="#4351ac"/>
<rect x="517.02" y="763.78" width="10.10" height="8.23" fill="#424daa"/>
<rect x="517.02" y="771.71" width="10.10" height="16.16" fill="#4148a8"/>
<rect x="517.02" y="787.57" width="10.10" height="24.10" fill="#3f44a5"/>
<rect x="517.02" y="811.37" width="10.10" height="16.16" fill="#3d3fa3"/>
<rect x="517.02" y="827.23" width="10.10" height="8.23" fill="#3c3aa1"/>
<rect x="517.02" y="835.17" width="10.10" height="8.23" fill="#3a369f"/>
<rect x="517.02" y="843.10" width="10.10" height="8.23" fill="#38329d"/>
<rect x="517.02" y="851.03" width="10.10" height="8.23" fill="#362e9b"/>
<rect x="517.02" y="858.96" width="10.10" height="8.23" fill="#332a99"/>
<rect x="517.02" y="866.89" width="10.10" height="39.96" fill="#312697"/>
<rect x="517.02" y="906.56" width="10.10" height="16.16" fill="#332a99"/>
<rect x="517.02" y="922.42" width="10.10" height="8.23" fill="#362e9b"/>
<rect x="517.02" y="930.35" width="10.10" height="8.23" fill="#38329d"/>
<rect x="517.02" y="938.28" width="10.10" height="8.23" fill="#3a369f"/>
<rect x="517.02" y="946.22" width="10.10" height="8.23" fill="#3c3aa1"/>
<rect x="517.02" y="954.15" width="10.10" height="16.16" fill="#3d3fa3"/>
<rect x="517.02" y="970.01" width="10.10" height="24.10" fill="#3f44a5"/>
<rect x="517.02" y="993.81" width="10.10" height="16.16" fill="#4148a8"/>
<rect x="517.02" y="1009.67" width="10.10" height="8.23" fill="#424daa"/>
<rect x="517.02" y="1017.61" width="10.10" height="8.23" fill="#4351ac"/>
<rect x="517.02" y="1025.54" width="10.10" height="8.23" fill="#4159b1"/>
<rect x="517.02" y="1033.47" width="10.10" height="8.23" fill="#405eb4"/>
<rect x="517.02" y="1041.40" width="10.10" height="8.23" fill="#3f66b9"/>
<rect x="517.02" y="1049.34" width="10.10" height="8.23" fill="#3e6bbc"/>
<rect x="517.02" y="1057.27" width="10.10" height="8.23" fill="#3c75c0"/>
<rect x="526.82" y="597.20" width="10.10" height="8.23" fill="#fccf1b"/>
<rect x="526.82" y="605.13" width="10.10" height="8.23" fill="#fabd22"/>
<rect x="526.82" y="613.06" width="10.10" height="8.23" fill="#e3bb15"/>
<rect x="526.82" y="621.00" width="10.10" height="8.23" fill="#bdc21d"/>
<rect x="526.82" y="628.93" width="10.10" height="8.23" fill="#8cc439"/>
<rect x="526.82" y="636.86" width="10.10" height="8.23" fill="#69bb60"/>
<rect x="526.82" y="644.79" width="10.10" height="8.23" fill="#54b773"/>
<rect x="526.82" y="652.73" width="10.10" height="8.23" fill="#32b18d"/>
<rect x="526.82" y="660.66" width="10.10" height="8.23" fill="#24afa1"/>
<rect x="526.82" y="668.59" width="10.10" height="8.23" fill="#1cacbd"/>
<rect x="526.82" y="676.52" width="10.10" height="8.23" fill="#19aacc"/>
<rect x="526.82" y="684.45" width="10.10" height="8.23" fill="#1ba5d6"/>
<rect x="526.82" y="692.39" width="10.10" height="8.23" fill="#249cd7"/>
<rect x="526.82" y="700.32" width="10.10" height="8.23" fill="#2f8fd1"/>
<rect x="526.82" y="708.25" width="10.10" height="8.23" fill="#3881c7"/>
<rect x="526.82" y="716.18" width="10.10" height="8.23" fill="#3c75c0"/>
<rect x="526.82" y="724.12" width="10.10" height="8.23" fill="#3e6bbc"/>
<rect x="526.82" y="732.05" width="10.10" height="8.23" fill="#3f66b9"/>
<rect x="526.82" y="739.98" width="10.10" height="8.23" fill="#405eb4"/>
<rect x="526.82" y="747.91" width="10.10" height="8.23" fill="#4159b1"/>
<rect x="526.82" y="755.84" width="10.10" height="8.23" fill="#4255af"/>
<rect x="526.82" y="763.78" width="10.10" height="8.23" fill="#4351ac"/>
<rect x="526.82" y="771.71" width="10.10" height="8.23" fill="#424daa"/>
<rect x="526.82" y="779.64" width="10.10" height="16.16" fill="#4148a8"/>
<rect x="526.82" y="795.51" width="10.10" height="24.10" fill="#3f44a5"/>
<rect x="526.82" y="819.30" width="10.10" height="16.16" fill="#3d3fa3"/>
<rect x="526.82" y="835.17" width="10.10" height="8.23" fill="#3c3aa1"/>
<rect x="526.82" y="843.10" width="10.10" height="8.23" fill="#3a369f"/>
<rect x="526.82" y="851.03" width="10.10" height="8.23" fill="#38329d"/>
<rect x="526.82" y="858.96" width="10.10" height="8.23" fill="#362e9b"/>
<rect x="526.82" y="866.89" width="10.10" height="8.23" fill="#332a99"/>
<rect x="526.82" y="874.83" width="10.10" height="39.96" fill="#312697"/>
<rect x="526.82" y="914.49" width="10.10" height="8.23" fill="#332a99"/>
<rect x="526.82" y="922.42" width="10.10" height="8.23" fill="#362e9b"/>
<rect x="526.82" y="930.35" width="10.10" height="8.23" fill="#38329d"/>
<rect x="526.82" y="938.28" width="10.10" height="8.23" fill="#3a369f"/>
<rect x="526.82" y="946.22" width="10.10" height="16.16" fill="#3c3aa1"/>
<rect x="526.82" y="962.08" width="10.10" height="8.23" fill="#3d3fa3"/>
<rect x="526.82" y="970.01" width="10.10" height="32.03" fill="#3f44a5"/>
<rect x="526.82" y="1001.74" width="10.10" height="8.23" fill="#4148a8"/>
<rect x="526.82" y="1009.67" width="10.10" height="8.23" fill="#424daa"/>
<rect x="526.82" y="1017.61" width="10.10" height="8.23" fill="#4351ac"/>
<rect x="526.82" y="1025.54" width="10.10" height="8.23" fill="#4255af"/>
<rect x="526.82" y="1033.47" width="10.10" height="8.23" fill="#405eb4"/>
<rect x="526.82" y="1041.40" width="10.10" height="8.23" fill="#3f62b7"/>
<rect x="526.82" y="1049.34" width="10.10" height="8.23" fill="#3e6bbc"/>
<rect x="526.82" y="1057.27" width="10.10" height="8.23" fill="#3c75c0"/>
<rect x="536.62" y="597.20" width="10.10" height="8.23" fill="#fcd417"/>
<rect x="536.62" y="605.13" width="10.10" height="8.23" fill="#fbc320"/>
<rect x="536.62" y="613.06" width="10.10" height="8.23" fill="#ecba1b"/>
<rect x="536.62" y="621.00" width="10.10" height="8.23" fill="#ccbf18"/>
<rect x="536.62" y="628.93" width="10.10" height="8.23" fill="#9cc52d"/>
<rect x="536.62" y="636.86" width="10.10" height="8.23" fill="#7fc147"/>
<rect x="536.62" y="644.79" width="10.10" height="8.23" fill="#60b969"/>
<rect x="536.62" y="652.73" width="10.10" height="8.23" fill="#3bb385"/>
<rect x="536.62" y="660.66" width="10.10" height="8.23" fill="#29b096"/>
<rect x="536.62" y="668.59" width="10.10" height="8.23" fill="#1daeb5"/>
<rect x="536.62" y="676.52" width="10.10" height="8.23" fill="#1aabc6"/>
<rect x="536.62" y="684.45" width="10.10" height="8.23" fill="#18a8d2"/>
<rect x="536.62" y="692.39" width="10.10" height="8.23" fill="#1fa2d9"/>
<rect x="536.62" y="700.32" width="10.10" height="8.23" fill="#2a95d5"/>
<rect x="536.62" y="708.25" width="10.10" height="8.23" fill="#3388cc"/>
<rect x="536.62" y="716.18" width="10.10" height="8.23" fill="#3b7bc3"/>
<rect x="536.62" y="724.12" width="10.10" height="8.23" fill="#3d70be"/>
<rect x="536.62" y="732.05" width="10.10" height="8.23" fill="#3e6bbc"/>
<rect x="536.62" y="739.98" width="10.10" height="8.23" fill="#3f62b7"/>
<rect x="536.62" y="747.91" width="10.10" height="8.23" fill="#405eb4"/>
<rect x="536.62" y="755.84" width="10.10" height="8.23" fill="#4255af"/>
<rect x="536.62" y="763.78" width="10.10" height="8.23" fill="#4351ac"/>
<rect x="536.62" y="771.71" width="10.10" height="16.16" fill="#424daa"/>
<rect x="536.62" y="787.57" width="10.10" height="8.23" fill="#4148a8"/>
<rect x="536.62" y="795.51" width="10.10" height="24.10" fill="#3f44a5"/>
<rect x="536.62" y="819.30" width="10.10" height="16.16" fill="#3d3fa3"/>
<rect x="536.62" y="835.17" width="10.10" height="8.23" fill="#3c3aa1"/>
<rect x="536.62" y="843.10" width="10.10" height="8.23" fill="#3a369f"/>
<rect x="536.62" y="851.03" width="10.10" height="8.23" fill="#38329d"/>
<rect x="536.62" y="858.96" width="10.10" height="8.23" fill="#362e9b"/>
<rect x="536.62" y="866.89" width="10.10" height="16.16" fill="#332a99"/>
<rect x="536.62" y="882.76" width="10.10" height="39.96" fill="#312697"/>
<rect x="536.62" y="922.42" width="10.10" height="8.23" fill="#332a99"/>
<rect x="536.62" y="930.35" width="10.10" height="8.23" fill="#362e9b"/>
<rect x="536.62" y="938.28" width="10.10" height="8.23" fill="#38329d"/>
<rect x="536.62" y="946.22" width="10.10" height="8.23" fill="#3a369f"/>
<rect x="536.62" y="954.15" width="10.10" height="8.23" fill="#3c3aa1"/>
<rect x="536.62" y="962.08" width="10.10" height="16.16" fill="#3d3fa3"/>
<rect x="536.62" y="977.95" width="10.10" height="24.10" fill="#3f44a5"/>
<rect x="536.62" y="1001.74" width="10.10" height="8.23" fill="#4148a8"/>
<rect x="536.62" y="1009.67" width="10.10" height="8.23" fill="#424daa"/>
<rect x="536.62" y="1017.61" width="10.10" height="8.23" fill="#4351ac"/>
<rect x="536.62" y="1025.54" width="10.10" height="8.23" fill="#4255af"/>
<rect x="536.62" y="1033.47" width="10.10" height="8.23" fill="#4159b1"/>
<rect x="536.62" y="1041.40" width="10.10" height="8.23" fill="#3f62b7"/>
<rect x="536.62" y="1049.34" width="10.10" height="8.23" fill="#3e6bbc"/>
<rect x="536.62" y="1057.27" width="10.10" height="8.23" fill="#3c75c0"/>
<rect x="546.42" y="597.20" width="10.10" height="8.23" fill="#fbdf11"/>
<rect x="546.42" y="605.13" width="10.10" height="8.23" fill="#fcc91e"/>
<rect x="546.42" y="613.06" width="10.10" height="8.23" fill="#f5b921"/>
<rect x="546.42" y="621.00" width="10.10" height="8.23" fill="#d9bd14"/>
<rect x="546.42" y="628.93" width="10.10" height="8.23" fill="#bdc21d"/>
<rect x="546.42" y="636.86" width="10.10" height="8.23" fill="#8cc439"/>
<rect x="546.42" y="644.79" width="10.10" height="8.23" fill="#69bb60"/>
<rect x="546.42" y="652.73" width="10.10" height="8.23" fill="#47b57c"/>
<rect x="546.42" y="660.66" width="10.10" height="8.23" fill="#32b18d"/>
<rect x="546.42" y="668.59" width="10.10" height="8.23" fill="#1fafac"/>
<rect x="546.42" y="676.52" width="10.10" height="8.23" fill="#1cacbd"/>
<rect x="546.42" y="684.45" width="10.10" height="8.23" fill="#19aacc"/>
<rect x="546.42" y="692.39" width="10.10" height="8.23" fill="#1fa2d9"/>
<rect x="546.42" y="700.32" width="10.10" height="8.23" fill="#2a95d5"/>
<rect x="546.42" y="708.25" width="10.10" height="8.23" fill="#3388cc"/>
<rect x="546.42" y="716.18" width="10.10" height="8.23" fill="#3b7bc3"/>
<rect x="546.42" y="724.12" width="10.10" height="8.23" fill="#3c75c0"/>
<rect x="546.42" y="732.05" width="10.10" height="8.23" fill="#3e6bbc"/>
<rect x="546.42" y="739.98" width="10.10" height="8.23" fill="#3f66b9"/>
<rect x="546.42" y="747.91" width="10.10" height="8.23" fill="#405eb4"/>
<rect x="546.42" y="755.84" width="10.10" height="8.23" fill="#4159b1"/>
<rect x="546.42" y="763.78" width="10.10" height="8.23" fill="#4255af"/>
<rect x="546.42" y="771.71" width="10.10" height="8.23" fill="#4351ac"/>
<rect x="546.42" y="779.64" width="10.10" height="8.23" fill="#424daa"/>
<rect x="546.42" y="787.57" width="10.10" height="8.23" fill="#4148a8"/>
<rect x="546.42" y="795.51" width="10.10" height="32.03" fill="#3f44a5"/>
<rect x="546.42" y="827.23" width="10.10" height="8.23" fill="#3d3fa3"/>
<rect x="546.42" y="835.17" width="10.10" height="16.16" fill="#3c3aa1"/>
<rect x="546.42" y="851.03" width="10.10" height="8.23" fill="#3a369f"/>
<rect x="546.42" y="858.96" width="10.10" height="8.23" fill="#38329d"/>
<rect x="546.42" y="866.89" width="10.10" height="8.23" fill="#362e9b"/>
<rect x="546.42" y="874.83" width="10.10" height="8.23" fill="#332a99"/>
<rect x="546.42" y="882.76" width="10.10" height="39.96" fill="#312697"/>
<rect x="546.42" y="922.42" width="10.10" height="8.23" fill="#332a99"/>
<rect x="546.42" y="930.35" width="10.10" height="8.23" fill="#362e9b"/>
<rect x="546.42" y="938.28" width="10.10" height="8.23" fill="#38329d"/>
<rect x="546.42" y="946.22" width="10.10" height="8.23" fill="#3a369f"/>
<rect x="546.42" y="954.15" width="10.10" height="8.23" fill="#3c3aa1"/>
<rect x="546.42" y="962.08" width="10.10" height="16.16" fill="#3d3fa3"/>
<rect x="546.42" y="977.95" width="10.10" height="24.10" fill="#3f44a5"/>
<rect x="546.42" y="1001.74" width="10.10" height="8.23" fill="#4148a8"/>
<rect x="546.42" y="1009.67" width="10.10" height="8.23" fill="#424daa"/>
<rect x="546.42" y="1017.61" width="10.10" height="8.23" fill="#4351ac"/>
<rect x="546.42" y="1025.54" width="10.10" height="8.23" fill="#4255af"/>
<rect x="546.42" y="1033.47" width="10.10" height="8.23" fill="#4159b1"/>
<rect x="546.42" y="1041.40" width="10.10" height="8.23" fill="#3f62b7"/>
<rect x="546.42" y="1049.34" width="10.10" height="8.23" fill="#3e6bbc"/>
<rect x="546.42" y="1057.27" width="10.10" height="8.23" fill="#3c75c0"/>
<rect x="556.22" y="597.20" width="10.10" height="8.23" fill="#fae310"/>
<rect x="556.22" y="605.13" width="10.10" height="8.23" fill="#fcd417"/>
<rect x="556.22" y="613.06" width="10.10" height="8.23" fill="#fbc320"/>
<rect x="556.22" y="621.00" width="10.10" height="8.23" fill="#ecba1b"/>
<rect x="556.22" y="628.93" width="10.10" height="8.23" fill="#ccbf18"/>
<rect x="556.22" y="636.86" width="10.10" height="8.23" fill="#9cc52d"/>
<rect x="556.22" y="644.79" width="10.10" height="8.23" fill="#73bd55"/>
<rect x="556.22" y="652.73" width="10.10" height="8.23" fill="#54b773"/>
<rect x="556.22" y="660.66" width="10.10" height="8.23" fill="#3bb385"/>
<rect x="556.22" y="668.59" width="10.10" height="8.23" fill="#24afa1"/>
<rect x="556.22" y="676.52" width="10.10" height="8.23" fill="#1daeb5"/>
<rect x="556.22" y="684.45" width="10.10" height="8.23" fill="#19aacc"/>
<rect x="556.22" y="692.39" width="10.10" height="8.23" fill="#1ba5d6"/>
<rect x="556.22" y="700.32" width="10.10" height="8.23" fill="#249cd7"/>
<rect x="556.22" y="708.25" width="10.10" height="8.23" fill="#2f8fd1"/>
<rect x="556.22" y="716.18" width="10.10" height="8.23" fill="#3881c7"/>
<rect x="556.22" y="724.12" width="10.10" height="8.23" fill="#3c75c0"/>
<rect x="556.22" y="732.05" width="10.10" height="8.23" fill="#3d70be"/>
<rect x="556.22" y="739.98" width="10.10" height="8.23" fill="#3f66b9"/>
<rect x="556.22" y="747.91" width="10.10" height="8.23" fill="#3f62b7"/>
<rect x="556.22" y="755.84" width="10.10" height="8.23" fill="#4159b1"/>
<rect x="556.22" y="763.78" width="10.10" height="8.23" fill="#4255af"/>
<rect x="556.22" y="771.71" width="10.10" height="8.23" fill="#4351ac"/>
<rect x="556.22" y="779.64" width="10.10" height="8.23" fill="#424daa"/>
<rect x="556.22" y="787.57" width="10.10" height="16.16" fill="#4148a8"/>
<rect x="556.22" y="803.44" width="10.10" height="24.10" fill="#3f44a5"/>
<rect x="556.22" y="827.23" width="10.10" height="16.16" fill="#3d3fa3"/>
<rect x="556.22" y="843.10" width="10.10" height="8.23" fill="#3c3aa1"/>
<rect x="556.22" y="851.03" width="10.10" height="8.23" fill="#3a369f"/>
<rect x="556.22" y="858.96" width="10.10" height="8.23" fill="#38329d"/>
<rect x="556.22" y="866.89" width="10.10" height="8.23" fill="#362e9b"/>
<rect x="556.22" y="874.83" width="10.10" height="8.23" fill="#332a99"/>
<rect x="556.22" y="882.76" width="10.10" height="39.96" fill="#312697"/>
<rect x="556.22" y="922.42" width="10.10" height="8.23" fill="#332a99"/>
<rect x="556.22" y="930.35" width="10.10" height="8.23" fill="#362e9b"/>
<rect x="556.22" y="938.28" width="10.10" height="8.23" fill="#38329d"/>
<rect x="556.22" y="946.22" width="10.10" height="8.23" fill="#3a369f"/>
<rect x="556.22" y="954.15" width="10.10" height="8.23" fill="#3c3aa1"/>
<rect x="556.22" y="962.08" width="10.10" height="16.16" fill="#3d3fa3"/>
<rect x="556.22" y="977.95" width="10.10" height="24.10" fill="#3f44a5"/>
<rect x="556.22" y="1001.74" width="10.10" height="16.16" fill="#4148a8"/>
<rect x="556.22" y="1017.61" width="10.10" height="8.23" fill="#424daa"/>
<rect x="556.22" y="1025.54" width="10.10" height="8.23" fill="#4255af"/>
<rect x="556.22" y="1033.47" width="10.10" height="8.23" fill="#4159b1"/>
<rect x="556.22" y="1041.40" width="10.10" height="8.23" fill="#3f62b7"/>
<rect x="556.22" y="1049.34" width="10.10" height="8.23" fill="#3e6bbc"/>
<rect x="556.22" y="1057.27" width="10.10" height="8.23" fill="#3c75c0"/>
<rect x="566.01" y="597.20" width="10.10" height="8.23" fill="#f8e911"/>
<rect x="566.01" y="605.13" width="10.10" height="8.23" fill="#fbda14"/>
<rect x="566.01" y="613.06" width="10.10" height="8.23" fill="#fcc91e"/>
<rect x="566.01" y="621.00" width="10.10" height="8.23" fill="#f5b921"/>
<rect x="566.01" y="628.93" width="10.10" height="8.23" fill="#d9bd14"/>
<rect x="566.01" y="636.86" width="10.10" height="8.23" fill="#adc523"/>
<rect x="566.01" y="644.79" width="10.10" height="8.23" fill="#7fc147"/>
<rect x="566.01" y="652.73" width="10.10" height="8.23" fill="#60b969"/>
<rect x="566.01" y="660.66" width="10.10" height="8.23" fill="#47b57c"/>
<rect x="566.01" y="668.59" width="10.10" height="8.23" fill="#29b096"/>
<rect x="566.01" y="676.52" width="10.10" height="8.23" fill="#1fafac"/>
<rect x="566.01" y="684.45" width="10.10" height="8.23" fill="#1aabc6"/>
<rect x="566.01" y="692.39" width="10.10" height="8.23" fill="#18a8d2"/>
<rect x="566.01" y="700.32" width="10.10" height="8.23" fill="#1fa2d9"/>
<rect x="566.01" y="708.25" width="10.10" height="8.23" fill="#2a95d5"/>
<rect x="566.01" y="716.18" width="10.10" height="8.23" fill="#3388cc"/>
<rect x="566.01" y="724.12" width="10.10" height="8.23" fill="#3b7bc3"/>
<rect x="566.01" y="732.05" width="10.10" height="8.23" fill="#3d70be"/>
<rect x="566.01" y="739.98" width="10.10" height="8.23" fill="#3f66b9"/>
<rect x="566.01" y="747.91" width="10.10" height="8.23" fill="#3f62b7"/>
<rect x="566.01" y="755.84" width="10.10" height="8.23" fill="#4159b1"/>
<rect x="566.01" y="763.78" width="10.10" height="8.23" fill="#4255af"/>
<rect x="566.01" y="771.71" width="10.10" height="8.23" fill="#4351ac"/>
<rect x="566.01" y="779.64" width="10.10" height="8.23" fill="#424daa"/>
<rect x="566.01" y="787.57" width="10.10" height="16.16" fill="#4148a8"/>
<rect x="566.01" y="803.44" width="10.10" height="24.10" fill="#3f44a5"/>
<rect x="566.01" y="827.23" width="10.10" height="16.16" fill="#3d3fa3"/>
<rect x="566.01" y="843.10" width="10.10" height="8.23" fill="#3c3aa1"/>
<rect x="566.01" y="851.03" width="10.10" height="8.23" fill="#3a369f"/>
<rect x="566.01" y="858.96" width="10.10" height="8.23" fill="#38329d"/>
<rect x="566.01" y="866.89" width="10.10" height="8.23" fill="#362e9b"/>
<rect x="566.01" y="874.83" width="10.10" height="8.23" fill="#332a99"/>
<rect x="566.01" y="882.76" width="10.10" height="39.96" fill="#312697"/>
<rect x="566.01" y="922.42" width="10.10" height="8.23" fill="#332a99"/>
<rect x="566.01" y="930.35" width="10.10" height="8.23" fill="#362e9b"/>
<rect x="566.01" y="938.28" width="10.10" height="8.23" fill="#38329d"/>
<rect x="566.01" y="946.22" width="10.10" height="8.23" fill="#3a369f"/>
<rect x="566.01" y="954.15" width="10.10" height="16.16" fill="#3c3aa1"/>
<rect x="566.01" y="970.01" width="10.10" height="8.23" fill="#3d3fa3"/>
<rect x="566.01" y="977.95" width="10.10" height="24.10" fill="#3f44a5"/>
<rect x="566.01" y="1001.74" width="10.10" height="16.16" fill="#4148a8"/>
<rect x="566.01" y="1017.61" width="10.10" height="8.23" fill="#424daa"/>
<rect x="566.01" y="1025.54" width="10.10" height="8.23" fill="#4255af"/>
<rect x="566.01" y="1033.47" width="10.10" height="8.23" fill="#4159b1"/>
<rect x="566.01" y="1041.40" width="10.10" height="8.23" fill="#3f62b7"/>
<rect x="566.01" y="1049.34" width="10.10" height="8.23" fill="#3e6bbc"/>
<rect x="566.01" y="1057.27" width="10.10" height="8.23" fill="#3c75c0"/>
<rect x="575.81" y="597.20" width="10.10" height="8.23" fill="#f7ec12"/>
<rect x="575.81" y="605.13" width="10.10" height="8.23" fill="#fbdf11"/>
<rect x="575.81" y="613.06" width="10.10" height="8.23" fill="#fccf1b"/>
<rect x="575.81" y="621.00" width="10.10" height="8.23" fill="#fabd22"/>
<rect x="575.81" y="628.93" width="10.10" height="8.23" fill="#e3bb15"/>
<rect x="575.81" y="636.86" width="10.10" height="8.23" fill="#bdc21d"/>
<rect x="575.81" y="644.79" width="10.10" height="8.23" fill="#8cc439"/>
<rect x="575.81" y="652.73" width="10.10" height="8.23" fill="#69bb60"/>
<rect x="575.81" y="660.66" width="10.10" height="8.23" fill="#47b57c"/>
<rect x="575.81" y="668.59" width="10.10" height="8.23" fill="#32b18d"/>
<rect x="575.81" y="676.52" width="10.10" height="8.23" fill="#1fafac"/>
<rect x="575.81" y="684.45" width="10.10" height="8.23" fill="#1cacbd"/>
<rect x="575.81" y="692.39" width="10.10" height="8.23" fill="#18a8d2"/>
<rect x="575.81" y="700.32" width="10.10" height="8.23" fill="#1fa2d9"/>
<rect x="575.81" y="708.25" width="10.10" height="8.23" fill="#2a95d5"/>
<rect x="575.81" y="716.18" width="10.10" height="8.23" fill="#3388cc"/>
<rect x="575.81" y="724.12" width="10.10" height="8.23" fill="#3b7bc3"/>
<rect x="575.81" y="732.05" width="10.10" height="8.23" fill="#3d70be"/>
<rect x="575.81" y="739.98" width="10.10" height="8.23" fill="#3e6bbc"/>
<rect x="575.81" y="747.91" width="10.10" height="8.23" fill="#3f62b7"/>
<rect x="575.81" y="755.84" width="10.10" height="8.23" fill="#405eb4"/>
<rect x="575.81" y="763.78" width="10.10" height="8.23" fill="#4255af"/>
<rect x="575.81" y="771.71" width="10.10" height="8.23" fill="#4351ac"/>
<rect x="575.81" y="779.64" width="10.10" height="16.16" fill="#424daa"/>
<rect x="575.81" y="795.51" width="10.10" height="8.23" fill="#4148a8"/>
<rect x="575.81" y="803.44" width="10.10" height="24.10" fill="#3f44a5"/>
<rect x="575.81" y="827.23" width="10.10" height="16.16" fill="#3d3fa3"/>
<rect x="575.81" y="843.10" width="10.10" height="8.23" fill="#3c3aa1"/>
<rect x="575.81" y="851.03" width="10.10" height="8.23" fill="#3a369f"/>
<rect x="575.81" y="858.96" width="10.10" height="16.16" fill="#38329d"/>
<rect x="575.81" y="874.83" width="10.10" height="8.23" fill="#362e9b"/>
<rect x="575.81" y="882.76" width="10.10" height="47.89" fill="#332a99"/>
<rect x="575.81" y="930.35" width="10.10" height="8.23" fill="#362e9b"/>
<rect x="575.81" y="938.28" width="10.10" height="8.23" fill="#38329d"/>
<rect x="575.81" y="946.22" width="10.10" height="8.23" fill="#3a369f"/>
<rect x="575.81" y="954.15" width="10.10" height="8.23" fill="#3c3aa1"/>
<rect x="575.81" y="962.08" width="10.10" height="16.16" fill="#3d3fa3"/>
<rect x="575.81" y="977.95" width="10.10" height="24.10" fill="#3f44a5"/>
<rect x="575.81" y="1001.74" width="10.10" height="8.23" fill="#4148a8"/>
<rect x="575.81" y="1009.67" width="10.10" height="8.23" fill="#424daa"/>
<rect x="575.81" y="1017.61" width="10.10" height="8.23" fill="#4351ac"/>
<rect x="575.81" y="1025.54" width="10.10" height="8.23" fill="#4255af"/>
<rect x="575.81" y="1033.47" width="10.10" height="8.23" fill="#4159b1"/>
<rect x="575.81" y="1041.40" width="10.10" height="8.23" fill="#3f62b7"/>
<rect x="575.81" y="1049.34" width="10.10" height="8.23" fill="#3e6bbc"/>
<rect x="575.81" y="1057.27" width="10.10" height="8.23" fill="#3c75c0"/>
<rect x="585.61" y="597.20" width="10.10" height="8.23" fill="#f7ec12"/>
<rect x="585.61" y="605.13" width="10.10" height="8.23" fill="#fae310"/>
<rect x="585.61" y="613.06" width="10.10" height="8.23" fill="#fcd417"/>
<rect x="585.61" y="621.00" width="10.10" height="8.23" fill="#fabd22"/>
<rect x="585.61" y="628.93" width="10.10" height="8.23" fill="#e3bb15"/>
<rect x="585.61" y="636.86" width="10.10" height="8.23" fill="#bdc21d"/>
<rect x="585.61" y="644.79" width="10.10" height="8.23" fill="#8cc439"/>
<rect x="585.61" y="652.73" width="10.10" height="8.23" fill="#69bb60"/>
<rect x="585.61" y="660.66" width="10.10" height="8.23" fill="#54b773"/>
<rect x="585.61" y="668.59" width="10.10" height="8.23" fill="#32b18d"/>
<rect x="585.61" y="676.52" width="10.10" height="8.23" fill="#1fafac"/>
<rect x="585.61" y="684.45" width="10.10" height="8.23" fill="#1cacbd"/>
<rect x="585.61" y="692.39" width="10.10" height="8.23" fill="#19aacc"/>
<rect x="585.61" y="700.32" width="10.10" height="8.23" fill="#1fa2d9"/>
<rect x="585.61" y="708.25" width="10.10" height="8.23" fill="#2a95d5"/>
<rect x="585.61" y="716.18" width="10.10" height="8.23" fill="#3388cc"/>
<rect x="585.61" y="724.12" width="10.10" height="8.23" fill="#3b7bc3"/>
<rect x="585.61" y="732.05" width="10.10" height="8.23" fill="#3c75c0"/>
<rect x="585.61" y="739.98" width="10.10" height="8.23" fill="#3e6bbc"/>
<rect x="585.61" y="747.91" width="10.10" height="8.23" fill="#3f62b7"/>
<rect x="585.61" y="755.84" width="10.10" height="8.23" fill="#405eb4"/>
<rect x="585.61" y="763.78" width="10.10" height="8.23" fill="#4159b1"/>
<rect x="585.61" y="771.71" width="10.10" height="8.23" fill="#4255af"/>
<rect x="585.61" y="779.64" width="10.10" height="8.23" fill="#4351ac"/>
<rect x="585.61" y="787.57" width="10.10" height="8.23" fill="#424daa"/>
<rect x="585.61" y="795.51" width="10.10" height="24.10" fill="#4148a8"/>
<rect x="585.61" y="819.30" width="10.10" height="16.16" fill="#3f44a5"/>
<rect x="585.61" y="835.17" width="10.10" height="16.16" fill="#3d3fa3"/>
<rect x="585.61" y="851.03" width="10.10" height="8.23" fill="#3c3aa1"/>
<rect x="585.61" y="858.96" width="10.10" height="16.16" fill="#3a369f"/>
<rect x="585.61" y="874.83" width="10.10" height="63.76" fill="#38329d"/>
<rect x="585.61" y="938.28" width="10.10" height="8.23" fill="#3a369f"/>
<rect x="585.61" y="946.22" width="10.10" height="8.23" fill="#3c3aa1"/>
<rect x="585.61" y="954.15" width="10.10" height="16.16" fill="#3d3fa3"/>
<rect x="585.61" y="970.01" width="10.10" height="16.16" fill="#3f44a5"/>
<rect x="585.61" y="985.88" width="10.10" height="24.10" fill="#4148a8"/>
<rect x="585.61" y="1009.67" width="10.10" height="8.23" fill="#424daa"/>
<rect x="585.61" y="1017.61" width="10.10" height="8.23" fill="#4351ac"/>
<rect x="585.61" y="1025.54" width="10.10" height="8.23" fill="#4255af"/>
<rect x="585.61" y="1033.47" width="10.10" height="8.23" fill="#405eb4"/>
<rect x="585.61" y="1041.40" width="10.10" height="8.23" fill="#3f66b9"/>
<rect x="585.61" y="1049.34" width="10.10" height="8.23" fill="#3d70be"/>
<rect x="585.61" y="1057.27" width="10.10" height="8.23" fill="#3b7bc3"/>
<rect x="595.41" y="597.20" width="10.10" height="8.23" fill="#f6ee12"/>
<rect x="595.41" y="605.13" width="10.10" height="8.23" fill="#fae310"/>
<rect x="595.41" y="613.06" width="10.10" height="8.23" fill="#fcd417"/>
<rect x="595.41" y="621.00" width="10.10" height="8.23" fill="#fbc320"/>
<rect x="595.41" y="628.93" width="10.10" height="8.23" fill="#ecba1b"/>
<rect x="595.41" y="636.86" width="10.10" height="8.23" fill="#ccbf18"/>
<rect x="595.41" y="644.79" width="10.10" height="8.23" fill="#9cc52d"/>
<rect x="595.41" y="652.73" width="10.10" height="8.23" fill="#73bd55"/>
<rect x="595.41" y="660.66" width="10.10" height="8.23" fill="#54b773"/>
<rect x="595.41" y="668.59" width="10.10" height="8.23" fill="#32b18d"/>
<rect x="595.41" y="676.52" width="10.10" height="8.23" fill="#24afa1"/>
<rect x="595.41" y="684.45" width="10.10" height="8.23" fill="#1cacbd"/>
<rect x="595.41" y="692.39" width="10.10" height="8.23" fill="#19aacc"/>
<rect x="595.41" y="700.32" width="10.10" height="8.23" fill="#1ba5d6"/>
<rect x="595.41" y="708.25" width="10.10" height="8.23" fill="#249cd7"/>
<rect x="595.41" y="716.18" width="10.10" height="8.23" fill="#2f8fd1"/>
<rect x="595.41" y="724.12" width="10.10" height="8.23" fill="#3881c7"/>
<rect x="595.41" y="732.05" width="10.10" height="8.23" fill="#3c75c0"/>
<rect x="595.41" y="739.98" width="10.10" height="8.23" fill="#3e6bbc"/>
<rect x="595.41" y="747.91" width="10.10" height="8.23" fill="#3f66b9"/>
<rect x="595.41" y="755.84" width="10.10" height="8.23" fill="#3f62b7"/>
<rect x="595.41" y="763.78" width="10.10" height="8.23" fill="#4159b1"/>
<rect x="595.41" y="771.71" width="10.10" height="16.16" fill="#4255af"/>
<rect x="595.41" y="787.57" width="10.10" height="8.23" fill="#4351ac"/>
<rect x="595.41" y="795.51" width="10.10" height="32.03" fill="#424daa"/>
<rect x="595.41" y="827.23" width="10.10" height="16.16" fill="#4148a8"/>
<rect x="595.41" y="843.10" width="10.10" height="16.16" fill="#3f44a5"/>
<rect x="595.41" y="858.96" width="10.10" height="16.16" fill="#3d3fa3"/>
<rect x="595.41" y="874.83" width="10.10" height="55.83" fill="#3c3aa1"/>
<rect x="595.41" y="930.35" width="10.10" height="16.16" fill="#3d3fa3"/>
<rect x="595.41" y="946.22" width="10.10" height="16.16" fill="#3f44a5"/>
<rect x="595.41" y="962.08" width="10.10" height="16.16" fill="#4148a8"/>
<rect x="595.41" y="977.95" width="10.10" height="24.10" fill="#424daa"/>
<rect x="595.41" y="1001.74" width="10.10" height="16.16" fill="#4351ac"/>
<rect x="595.41" y="1017.61" width="10.10" height="8.23" fill="#4255af"/>
<rect x="595.41" y="1025.54" width="10.10" height="8.23" fill="#405eb4"/>
<rect x="595.41" y="1033.47" width="10.10" height="8.23" fill="#3f62b7"/>
<rect x="595.41" y="1041.40" width="10.10" height="8.23" fill="#3e6bbc"/>
<rect x="595.41" y="1049.34" width="10.10" height="8.23" fill="#3c75c0"/>
<rect x="595.41" y="1057.27" width="10.10" height="8.23" fill="#3881c7"/>
<rect x="605.21" y="597.20" width="10.10" height="8.23" fill="#f6ee12"/>
<rect x="605.21" y="605.13" width="10.10" height="8.23" fill="#f9e611"/>
<rect x="605.21" y="613.06" width="10.10" height="8.23" fill="#fcd417"/>
<rect x="605.21" y="621.00" width="10.10" height="8.23" fill="#fbc320"/>
<rect x="605.21" y="628.93" width="10.10" height="8.23" fill="#ecba1b"/>
<rect x="605.21" y="636.86" width="10.10" height="8.23" fill="#ccbf18"/>
<rect x="605.21" y="644.79" width="10.10" height="8.23" fill="#9cc52d"/>
<rect x="605.21" y="652.73" width="10.10" height="8.23" fill="#73bd55"/>
<rect x="605.21" y="660.66" width="10.10" height="8.23" fill="#54b773"/>
<rect x="605.21" y="668.59" width="10.10" height="8.23" fill="#32b18d"/>
<rect x="605.21" y="676.52" width="10.10" height="8.23" fill="#24afa1"/>
<rect x="605.21" y="684.45" width="10.10" height="8.23" fill="#1cacbd"/>
<rect x="605.21" y="692.39" width="10.10" height="8.23" fill="#19aacc"/>
<rect x="605.21" y="700.32" width="10.10" height="8.23" fill="#1ba5d6"/>
<rect x="605.21" y="708.25" width="10.10" height="8.23" fill="#249cd7"/>
<rect x="605.21" y="716.18" width="10.10" height="8.23" fill="#2f8fd1"/>
<rect x="605.21" y="724.12" width="10.10" height="8.23" fill="#3881c7"/>
<rect x="605.21" y="732.05" width="10.10" height="8.23" fill="#3c75c0"/>
<rect x="605.21" y="739.98" width="10.10" height="8.23" fill="#3d70be"/>
<rect x="605.21" y="747.91" width="10.10" height="8.23" fill="#3e6bbc"/>
<rect x="605.21" y="755.84" width="10.10" height="8.23" fill="#3f62b7"/>
<rect x="605.21" y="763.78" width="10.10" height="8.23" fill="#405eb4"/>
<rect x="605.21" y="771.71" width="10.10" height="16.16" fill="#4159b1"/>
<rect x="605.21" y="787.57" width="10.10" height="16.16" fill="#4255af"/>
<rect x="605.21" y="803.44" width="10.10" height="32.03" fill="#4351ac"/>
<rect x="605.21" y="835.17" width="10.10" height="16.16" fill="#424daa"/>
<rect x="605.21" y="851.03" width="10.10" height="24.10" fill="#4148a8"/>
<rect x="605.21" y="874.83" width="10.10" height="47.89" fill="#3f44a5"/>
<rect x="605.21" y="922.42" width="10.10" height="24.10" fill="#4148a8"/>
<rect x="605.21" y="946.22" width="10.10" height="16.16" fill="#424daa"/>
<rect x="605.21" y="962.08" width="10.10" height="32.03" fill="#4351ac"/>
<rect x="605.21" y="993.81" width="10.10" height="16.16" fill="#4255af"/>
<rect x="605.21" y="1009.67" width="10.10" height="8.23" fill="#4159b1"/>
<rect x="605.21" y="1017.61" width="10.10" height="8.23" fill="#405eb4"/>
<rect x="605.21" y="1025.54" width="10.10" height="8.23" fill="#3f62b7"/>
<rect x="605.21" y="1033.47" width="10.10" height="8.23" fill="#3e6bbc"/>
<rect x="605.21" y="1041.40" width="10.10" height="8.23" fill="#3c75c0"/>
<rect x="605.21" y="1049.34" width="10.10" height="8.23" fill="#3881c7"/>
<rect x="605.21" y="1057.27" width="10.10" height="8.23" fill="#2f8fd1"/>
<rect x="615.00" y="597.20" width="10.10" height="8.23" fill="#f6ee12"/>
<rect x="615.00" y="605.13" width="10.10" height="8.23" fill="#f9e611"/>
<rect x="615.00" y="613.06" width="10.10" height="8.23" fill="#fbda14"/>
<rect x="615.00" y="621.00" width="10.10" height="8.23" fill="#fbc320"/>
<rect x="615.00" y="628.93" width="10.10" height="8.23" fill="#ecba1b"/>
<rect x="615.00" y="636.86" width="10.10" height="8.23" fill="#ccbf18"/>
<rect x="615.00" y="644.79" width="10.10" height="8.23" fill="#9cc52d"/>
<rect x="615.00" y="652.73" width="10.10" height="8.23" fill="#73bd55"/>
<rect x="615.00" y="660.66" width="10.10" height="8.23" fill="#54b773"/>
<rect x="615.00" y="668.59" width="10.10" height="8.23" fill="#3bb385"/>
<rect x="615.00" y="676.52" width="10.10" height="8.23" fill="#24afa1"/>
<rect x="615.00" y="684.45" width="10.10" height="8.23" fill="#1daeb5"/>
<rect x="615.00" y="692.39" width="10.10" height="8.23" fill="#19aacc"/>
<rect x="615.00" y="700.32" width="10.10" height="8.23" fill="#1ba5d6"/>
<rect x="615.00" y="708.25" width="10.10" height="8.23" fill="#249cd7"/>
<rect x="615.00" y="716.18" width="10.10" height="8.23" fill="#2f8fd1"/>
<rect x="615.00" y="724.12" width="10.10" height="8.23" fill="#3388cc"/>
<rect x="615.00" y="732.05" width="10.10" height="8.23" fill="#3b7bc3"/>
<rect x="615.00" y="739.98" width="10.10" height="8.23" fill="#3d70be"/>
<rect x="615.00" y="747.91" width="10.10" height="8.23" fill="#3e6bbc"/>
<rect x="615.00" y="755.84" width="10.10" height="8.23" fill="#3f66b9"/>
<rect x="615.00" y="763.78" width="10.10" height="8.23" fill="#3f62b7"/>
<rect x="615.00" y="771.71" width="10.10" height="16.16" fill="#405eb4"/>
<rect x="615.00" y="787.57" width="10.10" height="32.03" fill="#4159b1"/>
<rect x="615.00" y="819.30" width="10.10" height="24.10" fill="#4255af"/>
<rect x="615.00" y="843.10" width="10.10" height="24.10" fill="#4351ac"/>
<rect x="615.00" y="866.89" width="10.10" height="63.76" fill="#424daa"/>
<rect x="615.00" y="930.35" width="10.10" height="24.10" fill="#4351ac"/>
<rect x="615.00" y="954.15" width="10.10" height="24.10" fill="#4255af"/>
<rect x="615.00" y="977.95" width="10.10" height="32.03" fill="#4159b1"/>
<rect x="615.00" y="1009.67" width="10.10" height="8.23" fill="#405eb4"/>
<rect x="615.00" y="1017.61" width="10.10" height="8.23" fill="#3f62b7"/>
<rect x="615.00" y="1025.54" width="10.10" height="8.23" fill="#3e6bbc"/>
<rect x="615.00" y="1033.47" width="10.10" height="8.23" fill="#3c75c0"/>
<rect x="615.00" y="1041.40" width="10.10" height="8.23" fill="#3881c7"/>
<rect x="615.00" y="1049.34" width="10.10" height="8.23" fill="#2f8fd1"/>
<rect x="615.00" y="1057.27" width="10.10" height="8.23" fill="#1fa2d9"/>
<rect x="624.80" y="597.20" width="10.10" height="8.23" fill="#f6ee12"/>
<rect x="624.80" y="605.13" width="10.10" height="8.23" fill="#f9e611"/>
<rect x="624.80" y="613.06" width="10.10" height="8.23" fill="#fbda14"/>
<rect x="624.80" y="621.00" width="10.10" height="8.23" fill="#fbc320"/>
<rect x="624.80" y="628.93" width="10.10" height="8.23" fill="#ecba1b"/>
<rect x="624.80" y="636.86" width="10.10" height="8.23" fill="#ccbf18"/>
<rect x="624.80" y="644.79" width="10.10" height="8.23" fill="#9cc52d"/>
<rect x="624.80" y="652.73" width="10.10" height="8.23" fill="#73bd55"/>
<rect x="624.80" y="660.66" width="10.10" height="8.23" fill="#54b773"/>
<rect x="624.80" y="668.59" width="10.10" height="8.23" fill="#3bb385"/>
<rect x="624.80" y="676.52" width="10.10" height="8.23" fill="#24afa1"/>
<rect x="624.80" y="684.45" width="10.10" height="8.23" fill="#1daeb5"/>
<rect x="624.80" y="692.39" width="10.10" height="8.23" fill="#19aacc"/>
<rect x="624.80" y="700.32" width="10.10" height="8.23" fill="#1ba5d6"/>
<rect x="624.80" y="708.25" width="10.10" height="8.23" fill="#249cd7"/>
<rect x="624.80" y="716.18" width="10.10" height="8.23" fill="#2f8fd1"/>
<rect x="624.80" y="724.12" width="10.10" height="8.23" fill="#3388cc"/>
<rect x="624.80" y="732.05" width="10.10" height="8.23" fill="#3b7bc3"/>
<rect x="624.80" y="739.98" width="10.10" height="8.23" fill="#3c75c0"/>
<rect x="624.80" y="747.91" width="10.10" height="8.23" fill="#3e6bbc"/>
<rect x="624.80" y="755.84" width="10.10" height="8.23" fill="#3f66b9"/>
<rect x="624.80" y="763.78" width="10.10" height="16.16" fill="#3f62b7"/>
<rect x="624.80" y="779.64" width="10.10" height="16.16" fill="#405eb4"/>
<rect x="624.80" y="795.51" width="10.10" height="32.03" fill="#4159b1"/>
<rect x="624.80" y="827.23" width="10.10" height="24.10" fill="#4255af"/>
<rect x="624.80" y="851.03" width="10.10" height="87.55" fill="#4351ac"/>
<rect x="624.80" y="938.28" width="10.10" height="24.10" fill="#4255af"/>
<rect x="624.80" y="962.08" width="10.10" height="39.96" fill="#4159b1"/>
<rect x="624.80" y="1001.74" width="10.10" height="8.23" fill="#405eb4"/>
<rect x="624.80" y="1009.67" width="10.10" height="8.23" fill="#3f62b7"/>
<rect x="624.80" y="1017.61" width="10.10" height="8.23" fill="#3f66b9"/>
<rect x="624.80" y="1025.54" width="10.10" height="8.23" fill="#3e6bbc"/>
<rect x="624.80" y="1033.47" width="10.10" height="8.23" fill="#3c75c0"/>
<rect x="624.80" y="1041.40" width="10.10" height="8.23" fill="#3388cc"/>
<rect x="624.80" y="1049.34" width="10.10" height="8.23" fill="#2a95d5"/>
<rect x="624.80" y="1057.27" width="10.10" height="8.23" fill="#1ba5d6"/>
</g>
<path d="M164.30 755.84V1009.67M174.10 747.91V1009.67M183.89 739.98V1009.67M193.69 732.05V1009.67M203.49 716.18V1001.74M213.29 708.25V1001.74M223.09 708.25V993.81M232.88 700.32V993.81M242.68 692.39V985.88M252.48 692.39V977.95M262.28 684.45V977.95M272.08 676.52V970.01M281.87 676.52V962.08M291.67 668.59V962.08M301.47 668.59V954.15M311.27 660.66V954.15M321.07 660.66V946.22M330.86 660.66V946.22M340.66 652.73V946.22M350.46 652.73V946.22M360.26 660.66V946.22M370.06 660.66V946.22M379.85 660.66V954.15M389.65 668.59V954.15M399.45 668.59V962.08M409.25 676.52V962.08M419.04 684.45V970.01M428.84 684.45V977.95M438.64 692.39V985.88M448.44 700.32V993.81M458.24 708.25V993.81M468.03 708.25V1001.74M477.83 716.18V1009.67M487.63 724.12V1017.61M497.43 732.05V1017.61M507.23 739.98V1025.54M517.02 747.91V1033.47M526.82 747.91V1033.47M536.62 755.84V1033.47M546.42 755.84V1041.40M556.22 755.84V1041.40M566.01 755.84V1041.40M575.81 763.78V1041.40M585.61 763.78V1033.47M595.41 763.78V1025.54M605.21 771.71V1017.61M615.00 787.57V1009.67M624.80 795.51V1001.74M330.86 660.66H360.26M301.47 668.59H389.65M281.87 676.52H409.25M262.28 684.45H419.04M252.48 692.39H438.64M232.88 700.32H448.44M223.09 708.25H458.24M203.49 716.18H477.83M193.69 724.12H487.63M193.69 732.05H497.43M183.89 739.98H507.23M174.10 747.91H517.02M164.30 755.84H536.62M154.50 763.78H575.81M154.50 771.71H605.21M154.50 779.64H615.00M154.50 787.57H615.00M154.50 795.51H624.80M154.50 803.44H634.60M154.50 811.37H634.60M154.50 819.30H634.60M154.50 827.23H634.60M154.50 835.17H634.60M154.50 843.10H634.60M154.50 851.03H634.60M154.50 858.96H634.60M154.50 866.89H634.60M154.50 874.83H634.60M154.50 882.76H634.60M154.50 890.69H634.60M154.50 898.62H634.60M154.50 906.56H634.60M154.50 914.49H634.60M154.50 922.42H634.60M154.50 930.35H634.60M154.50 938.28H634.60M154.50 946.22H321.07M370.06 946.22H634.60M154.50 954.15H301.47M389.65 954.15H634.60M154.50 962.08H281.87M409.25 962.08H634.60M154.50 970.01H272.08M419.04 970.01H634.60M154.50 977.95H252.48M428.84 977.95H634.60M154.50 985.88H242.68M438.64 985.88H634.60M154.50 993.81H223.09M458.24 993.81H634.60M154.50 1001.74H203.49M468.03 1001.74H624.80M154.50 1009.67H164.30M477.83 1009.67H615.00M497.43 1017.61H605.21M507.23 1025.54H595.41M536.62 1033.47H585.61" stroke="#b0b0b8" stroke-opacity="0.16" stroke-width="0.6" fill="none"/>
<path d="M164.30 660.66V755.84M164.30 1009.67V1065.20M174.10 660.66V747.91M174.10 1009.67V1065.20M183.89 652.73V739.98M183.89 1009.67V1065.20M193.69 644.79V732.05M193.69 1009.67V1065.20M203.49 636.86V716.18M203.49 1001.74V1065.20M213.29 628.93V708.25M213.29 1001.74V1065.20M223.09 621.00V708.25M223.09 993.81V1065.20M232.88 613.06V700.32M232.88 993.81V1065.20M242.68 613.06V692.39M242.68 985.88V1065.20M252.48 605.13V692.39M252.48 977.95V1057.27M262.28 605.13V684.45M262.28 977.95V1049.34M272.08 597.20V676.52M272.08 970.01V1049.34M281.87 597.20V676.52M281.87 962.08V1041.40M291.67 597.20V668.59M291.67 962.08V1033.47M301.47 597.20V668.59M301.47 954.15V1033.47M311.27 597.20V660.66M311.27 954.15V1025.54M321.07 597.20V660.66M321.07 946.22V1025.54M330.86 597.20V660.66M330.86 946.22V1017.61M340.66 597.20V652.73M340.66 946.22V1017.61M350.46 597.20V652.73M350.46 946.22V1017.61M360.26 597.20V660.66M360.26 946.22V1017.61M370.06 597.20V660.66M370.06 946.22V1025.54M379.85 597.20V660.66M379.85 954.15V1025.54M389.65 597.20V668.59M389.65 954.15V1033.47M399.45 597.20V668.59M399.45 962.08V1033.47M409.25 605.13V676.52M409.25 962.08V1041.40M419.04 605.13V684.45M419.04 970.01V1049.34M428.84 613.06V684.45M428.84 977.95V1057.27M438.64 621.00V692.39M438.64 985.88V1065.20M448.44 621.00V700.32M448.44 993.81V1065.20M458.24 628.93V708.25M458.24 993.81V1065.20M468.03 636.86V708.25M468.03 1001.74V1065.20M477.83 644.79V716.18M477.83 1009.67V1065.20M487.63 644.79V724.12M487.63 1017.61V1065.20M497.43 652.73V732.05M497.43 1017.61V1065.20M507.23 660.66V739.98M507.23 1025.54V1065.20M517.02 668.59V747.91M517.02 1033.47V1065.20M526.82 668.59V747.91M526.82 1033.47V1065.20M536.62 676.52V755.84M536.62 1033.47V1065.20M546.42 676.52V755.84M546.42 1041.40V1065.20M556.22 684.45V755.84M556.22 1041.40V1065.20M566.01 684.45V755.84M566.01 1041.40V1065.20M575.81 684.45V763.78M575.81 1041.40V1065.20M585.61 684.45V763.78M585.61 1033.47V1065.20M595.41 684.45V763.78M595.41 1025.54V1065.20M605.21 684.45V771.71M605.21 1017.61V1065.20M615.00 692.39V787.57M615.00 1009.67V1065.20M624.80 692.39V795.51M624.80 1001.74V1065.20M262.28 605.13H409.25M242.68 613.06H428.84M223.09 621.00H438.64M213.29 628.93H458.24M203.49 636.86H468.03M193.69 644.79H477.83M183.89 652.73H497.43M174.10 660.66H330.86M360.26 660.66H507.23M154.50 668.59H301.47M389.65 668.59H517.02M154.50 676.52H281.87M409.25 676.52H536.62M154.50 684.45H262.28M419.04 684.45H556.22M154.50 692.39H252.48M438.64 692.39H615.00M154.50 700.32H232.88M448.44 700.32H634.60M154.50 708.25H223.09M458.24 708.25H634.60M154.50 716.18H203.49M477.83 716.18H634.60M154.50 724.12H193.69M487.63 724.12H634.60M154.50 732.05H193.69M497.43 732.05H634.60M154.50 739.98H183.89M507.23 739.98H634.60M154.50 747.91H174.10M517.02 747.91H634.60M154.50 755.84H164.30M536.62 755.84H634.60M575.81 763.78H634.60M605.21 771.71H634.60M615.00 779.64H634.60M615.00 787.57H634.60M624.80 795.51H634.60M321.07 946.22H370.06M301.47 954.15H389.65M281.87 962.08H409.25M272.08 970.01H419.04M252.48 977.95H428.84M242.68 985.88H438.64M223.09 993.81H458.24M203.49 1001.74H468.03M624.80 1001.74H634.60M164.30 1009.67H477.83M615.00 1009.67H634.60M154.50 1017.61H330.86M360.26 1017.61H497.43M605.21 1017.61H634.60M154.50 1025.54H311.27M379.85 1025.54H507.23M595.41 1025.54H634.60M154.50 1033.47H291.67M399.45 1033.47H536.62M585.61 1033.47H634.60M154.50 1041.40H281.87M409.25 1041.40H634.60M154.50 1049.34H262.28M419.04 1049.34H634.60M154.50 1057.27H252.48M428.84 1057.27H634.60" stroke="#5a5a60" stroke-opacity="0.12" stroke-width="0.6" fill="none"/>
<path d="M164.30 597.20V660.66M174.10 597.20V660.66M183.89 597.20V652.73M193.69 597.20V644.79M203.49 597.20V636.86M213.29 597.20V628.93M223.09 597.20V621.00M232.88 597.20V613.06M242.68 597.20V613.06M252.48 597.20V605.13M252.48 1057.27V1065.20M262.28 597.20V605.13M262.28 1049.34V1065.20M272.08 1049.34V1065.20M281.87 1041.40V1065.20M291.67 1033.47V1065.20M301.47 1033.47V1065.20M311.27 1025.54V1065.20M321.07 1025.54V1065.20M330.86 1017.61V1065.20M340.66 1017.61V1065.20M350.46 1017.61V1065.20M360.26 1017.61V1065.20M370.06 1025.54V1065.20M379.85 1025.54V1065.20M389.65 1033.47V1065.20M399.45 1033.47V1065.20M409.25 597.20V605.13M409.25 1041.40V1065.20M419.04 597.20V605.13M419.04 1049.34V1065.20M428.84 597.20V613.06M428.84 1057.27V1065.20M438.64 597.20V621.00M448.44 597.20V621.00M458.24 597.20V628.93M468.03 597.20V636.86M477.83 597.20V644.79M487.63 597.20V644.79M497.43 597.20V652.73M507.23 597.20V660.66M517.02 597.20V668.59M526.82 597.20V668.59M536.62 597.20V676.52M546.42 597.20V676.52M556.22 597.20V684.45M566.01 597.20V684.45M575.81 597.20V684.45M585.61 597.20V684.45M595.41 597.20V684.45M605.21 597.20V684.45M615.00 597.20V692.39M624.80 597.20V692.39" stroke="#6a6650" stroke-opacity="0.5" stroke-width="0.6" fill="none"/>
<path d="M154.50 605.13H262.28M409.25 605.13H634.60M154.50 613.06H242.68M428.84 613.06H634.60M154.50 621.00H223.09M438.64 621.00H634.60M154.50 628.93H213.29M458.24 628.93H634.60M154.50 636.86H203.49M468.03 636.86H634.60M154.50 644.79H193.69M477.83 644.79H634.60M154.50 652.73H183.89M497.43 652.73H634.60M154.50 660.66H174.10M507.23 660.66H634.60M517.02 668.59H634.60M536.62 676.52H634.60M556.22 684.45H634.60M615.00 692.39H634.60M330.86 1017.61H360.26M311.27 1025.54H379.85M291.67 1033.47H399.45M281.87 1041.40H409.25M262.28 1049.34H419.04M252.48 1057.27H428.84" stroke="#6a6650" stroke-opacity="0.32" stroke-width="0.6" fill="none"/>
<g shape-rendering="crispEdges">
<rect x="669.50" y="470.53" width="12.90" height="7.57" fill="#312697"/>
<rect x="669.50" y="463.26" width="12.90" height="7.57" fill="#332a99"/>
<rect x="669.50" y="455.98" width="12.90" height="7.57" fill="#362e9b"/>
<rect x="669.50" y="448.71" width="12.90" height="7.57" fill="#38329d"/>
<rect x="669.50" y="441.44" width="12.90" height="7.57" fill="#3a369f"/>
<rect x="669.50" y="434.17" width="12.90" height="7.57" fill="#3c3aa1"/>
<rect x="669.50" y="426.90" width="12.90" height="7.57" fill="#3d3fa3"/>
<rect x="669.50" y="419.62" width="12.90" height="7.57" fill="#3f44a5"/>
<rect x="669.50" y="412.35" width="12.90" height="7.57" fill="#4148a8"/>
<rect x="669.50" y="405.08" width="12.90" height="7.57" fill="#424daa"/>
<rect x="669.50" y="397.81" width="12.90" height="7.57" fill="#4351ac"/>
<rect x="669.50" y="390.54" width="12.90" height="7.57" fill="#4255af"/>
<rect x="669.50" y="383.27" width="12.90" height="7.57" fill="#4159b1"/>
<rect x="669.50" y="375.99" width="12.90" height="7.57" fill="#405eb4"/>
<rect x="669.50" y="368.72" width="12.90" height="7.57" fill="#3f62b7"/>
<rect x="669.50" y="361.45" width="12.90" height="7.57" fill="#3f66b9"/>
<rect x="669.50" y="354.18" width="12.90" height="7.57" fill="#3e6bbc"/>
<rect x="669.50" y="346.91" width="12.90" height="7.57" fill="#3d70be"/>
<rect x="669.50" y="339.63" width="12.90" height="7.57" fill="#3c75c0"/>
<rect x="669.50" y="332.36" width="12.90" height="7.57" fill="#3b7bc3"/>
<rect x="669.50" y="325.09" width="12.90" height="7.57" fill="#3881c7"/>
<rect x="669.50" y="317.82" width="12.90" height="7.57" fill="#3388cc"/>
<rect x="669.50" y="310.55" width="12.90" height="7.57" fill="#2f8fd1"/>
<rect x="669.50" y="303.27" width="12.90" height="7.57" fill="#2a95d5"/>
<rect x="669.50" y="296.00" width="12.90" height="7.57" fill="#249cd7"/>
<rect x="669.50" y="288.73" width="12.90" height="7.57" fill="#1fa2d9"/>
<rect x="669.50" y="281.46" width="12.90" height="7.57" fill="#1ba5d6"/>
<rect x="669.50" y="274.19" width="12.90" height="7.57" fill="#18a8d2"/>
<rect x="669.50" y="266.92" width="12.90" height="7.57" fill="#19aacc"/>
<rect x="669.50" y="259.64" width="12.90" height="7.57" fill="#1aabc6"/>
<rect x="669.50" y="252.37" width="12.90" height="7.57" fill="#1cacbd"/>
<rect x="669.50" y="245.10" width="12.90" height="7.57" fill="#1daeb5"/>
<rect x="669.50" y="237.83" width="12.90" height="7.57" fill="#1fafac"/>
<rect x="669.50" y="230.56" width="12.90" height="7.57" fill="#24afa1"/>
<rect x="669.50" y="223.28" width="12.90" height="7.57" fill="#29b096"/>
<rect x="669.50" y="216.01" width="12.90" height="7.57" fill="#32b18d"/>
<rect x="669.50" y="208.74" width="12.90" height="7.57" fill="#3bb385"/>
<rect x="669.50" y="201.47" width="12.90" height="7.57" fill="#47b57c"/>
<rect x="669.50" y="194.20" width="12.90" height="7.57" fill="#54b773"/>
<rect x="669.50" y="186.93" width="12.90" height="7.57" fill="#60b969"/>
<rect x="669.50" y="179.65" width="12.90" height="7.57" fill="#69bb60"/>
<rect x="669.50" y="172.38" width="12.90" height="7.57" fill="#73bd55"/>
<rect x="669.50" y="165.11" width="12.90" height="7.57" fill="#7fc147"/>
<rect x="669.50" y="157.84" width="12.90" height="7.57" fill="#8cc439"/>
<rect x="669.50" y="150.57" width="12.90" height="7.57" fill="#9cc52d"/>
<rect x="669.50" y="143.29" width="12.90" height="7.57" fill="#adc523"/>
<rect x="669.50" y="136.02" width="12.90" height="7.57" fill="#bdc21d"/>
<rect x="669.50" y="128.75" width="12.90" height="7.57" fill="#ccbf18"/>
<rect x="669.50" y="121.48" width="12.90" height="7.57" fill="#d9bd14"/>
<rect x="669.50" y="114.21" width="12.90" height="7.57" fill="#e3bb15"/>
<rect x="669.50" y="106.93" width="12.90" height="7.57" fill="#ecba1b"/>
<rect x="669.50" y="99.66" width="12.90" height="7.57" fill="#f5b921"/>
<rect x="669.50" y="92.39" width="12.90" height="7.57" fill="#fabd22"/>
<rect x="669.50" y="85.12" width="12.90" height="7.57" fill="#fbc320"/>
<rect x="669.50" y="77.85" width="12.90" height="7.57" fill="#fcc91e"/>
<rect x="669.50" y="70.57" width="12.90" height="7.57" fill="#fccf1b"/>
<rect x="669.50" y="63.30" width="12.90" height="7.57" fill="#fcd417"/>
<rect x="669.50" y="56.03" width="12.90" height="7.57" fill="#fbda14"/>
<rect x="669.50" y="48.76" width="12.90" height="7.57" fill="#fbdf11"/>
<rect x="669.50" y="41.49" width="12.90" height="7.57" fill="#fae310"/>
<rect x="669.50" y="34.22" width="12.90" height="7.57" fill="#f9e611"/>
<rect x="669.50" y="26.94" width="12.90" height="7.57" fill="#f8e911"/>
<rect x="669.50" y="19.67" width="12.90" height="7.57" fill="#f7ec12"/>
<rect x="669.50" y="12.40" width="12.90" height="7.57" fill="#f6ee12"/>
</g>
<rect x="669.50" y="12.40" width="12.90" height="465.40" fill="none" stroke="#777" stroke-opacity="0.7" stroke-width="0.8"/>
<path d="M677.90 50.20H682.40M677.90 121.30H682.40M677.90 192.40H682.40M677.90 263.50H682.40M677.90 334.60H682.40M677.90 405.70H682.40" stroke="#15152a" stroke-opacity="0.7" stroke-width="0.8" fill="none"/>
<g shape-rendering="crispEdges">
<rect x="672.00" y="1057.90" width="13.50" height="7.60" fill="#312697"/>
<rect x="672.00" y="1050.60" width="13.50" height="7.60" fill="#332a99"/>
<rect x="672.00" y="1043.30" width="13.50" height="7.60" fill="#362e9b"/>
<rect x="672.00" y="1036.00" width="13.50" height="7.60" fill="#38329d"/>
<rect x="672.00" y="1028.70" width="13.50" height="7.60" fill="#3a369f"/>
<rect x="672.00" y="1021.40" width="13.50" height="7.60" fill="#3c3aa1"/>
<rect x="672.00" y="1014.10" width="13.50" height="7.60" fill="#3d3fa3"/>
<rect x="672.00" y="1006.80" width="13.50" height="7.60" fill="#3f44a5"/>
<rect x="672.00" y="999.50" width="13.50" height="7.60" fill="#4148a8"/>
<rect x="672.00" y="992.20" width="13.50" height="7.60" fill="#424daa"/>
<rect x="672.00" y="984.90" width="13.50" height="7.60" fill="#4351ac"/>
<rect x="672.00" y="977.60" width="13.50" height="7.60" fill="#4255af"/>
<rect x="672.00" y="970.30" width="13.50" height="7.60" fill="#4159b1"/>
<rect x="672.00" y="963.00" width="13.50" height="7.60" fill="#405eb4"/>
<rect x="672.00" y="955.70" width="13.50" height="7.60" fill="#3f62b7"/>
<rect x="672.00" y="948.40" width="13.50" height="7.60" fill="#3f66b9"/>
<rect x="672.00" y="941.10" width="13.50" height="7.60" fill="#3e6bbc"/>
<rect x="672.00" y="933.80" width="13.50" height="7.60" fill="#3d70be"/>
<rect x="672.00" y="926.50" width="13.50" height="7.60" fill="#3c75c0"/>
<rect x="672.00" y="919.20" width="13.50" height="7.60" fill="#3b7bc3"/>
<rect x="672.00" y="911.90" width="13.50" height="7.60" fill="#3881c7"/>
<rect x="672.00" y="904.60" width="13.50" height="7.60" fill="#3388cc"/>
<rect x="672.00" y="897.30" width="13.50" height="7.60" fill="#2f8fd1"/>
<rect x="672.00" y="890.00" width="13.50" height="7.60" fill="#2a95d5"/>
<rect x="672.00" y="882.70" width="13.50" height="7.60" fill="#249cd7"/>
<rect x="672.00" y="875.40" width="13.50" height="7.60" fill="#1fa2d9"/>
<rect x="672.00" y="868.10" width="13.50" height="7.60" fill="#1ba5d6"/>
<rect x="672.00" y="860.80" width="13.50" height="7.60" fill="#18a8d2"/>
<rect x="672.00" y="853.50" width="13.50" height="7.60" fill="#19aacc"/>
<rect x="672.00" y="846.20" width="13.50" height="7.60" fill="#1aabc6"/>
<rect x="672.00" y="838.90" width="13.50" height="7.60" fill="#1cacbd"/>
<rect x="672.00" y="831.60" width="13.50" height="7.60" fill="#1daeb5"/>
<rect x="672.00" y="824.30" width="13.50" height="7.60" fill="#1fafac"/>
<rect x="672.00" y="817.00" width="13.50" height="7.60" fill="#24afa1"/>
<rect x="672.00" y="809.70" width="13.50" height="7.60" fill="#29b096"/>
<rect x="672.00" y="802.40" width="13.50" height="7.60" fill="#32b18d"/>
<rect x="672.00" y="795.10" width="13.50" height="7.60" fill="#3bb385"/>
<rect x="672.00" y="787.80" width="13.50" height="7.60" fill="#47b57c"/>
<rect x="672.00" y="780.50" width="13.50" height="7.60" fill="#54b773"/>
<rect x="672.00" y="773.20" width="13.50" height="7.60" fill="#60b969"/>
<rect x="672.00" y="765.90" width="13.50" height="7.60" fill="#69bb60"/>
<rect x="672.00" y="758.60" width="13.50" height="7.60" fill="#73bd55"/>
<rect x="672.00" y="751.30" width="13.50" height="7.60" fill="#7fc147"/>
<rect x="672.00" y="744.00" width="13.50" height="7.60" fill="#8cc439"/>
<rect x="672.00" y="736.70" width="13.50" height="7.60" fill="#9cc52d"/>
<rect x="672.00" y="729.40" width="13.50" height="7.60" fill="#adc523"/>
<rect x="672.00" y="722.10" width="13.50" height="7.60" fill="#bdc21d"/>
<rect x="672.00" y="714.80" width="13.50" height="7.60" fill="#ccbf18"/>
<rect x="672.00" y="707.50" width="13.50" height="7.60" fill="#d9bd14"/>
<rect x="672.00" y="700.20" width="13.50" height="7.60" fill="#e3bb15"/>
<rect x="672.00" y="692.90" width="13.50" height="7.60" fill="#ecba1b"/>
<rect x="672.00" y="685.60" width="13.50" height="7.60" fill="#f5b921"/>
<rect x="672.00" y="678.30" width="13.50" height="7.60" fill="#fabd22"/>
<rect x="672.00" y="671.00" width="13.50" height="7.60" fill="#fbc320"/>
<rect x="672.00" y="663.70" width="13.50" height="7.60" fill="#fcc91e"/>
<rect x="672.00" y="656.40" width="13.50" height="7.60" fill="#fccf1b"/>
<rect x="672.00" y="649.10" width="13.50" height="7.60" fill="#fcd417"/>
<rect x="672.00" y="641.80" width="13.50" height="7.60" fill="#fbda14"/>
<rect x="672.00" y="634.50" width="13.50" height="7.60" fill="#fbdf11"/>
<rect x="672.00" y="627.20" width="13.50" height="7.60" fill="#fae310"/>
<rect x="672.00" y="619.90" width="13.50" height="7.60" fill="#f9e611"/>
<rect x="672.00" y="612.60" width="13.50" height="7.60" fill="#f8e911"/>
<rect x="672.00" y="605.30" width="13.50" height="7.60" fill="#f7ec12"/>
<rect x="672.00" y="598.00" width="13.50" height="7.60" fill="#f6ee12"/>
</g>
<rect x="672.00" y="598.00" width="13.50" height="467.20" fill="none" stroke="#777" stroke-opacity="0.7" stroke-width="0.8"/>
<path d="M681.00 635.30H685.50M681.00 674.45H685.50M681.00 713.60H685.50M681.00 752.75H685.50M681.00 791.90H685.50M681.00 831.05H685.50M681.00 870.20H685.50M681.00 909.35H685.50M681.00 948.50H685.50M681.00 987.65H685.50M681.00 1026.80H685.50" stroke="#15152a" stroke-opacity="0.7" stroke-width="0.8" fill="none"/>
<rect x="334.5" y="237.5" width="9.2" height="7.8" fill="#e60a12"/>
<rect x="335.8" y="821.5" width="9" height="9.6" fill="#e60a12"/>
<g>
<text x="58.50" y="28.05" font-size="31.32" textLength="87.63" lengthAdjust="spacingAndGlyphs">12.30</text>
<text x="58.50" y="179.90" font-size="31.69" textLength="87.63" lengthAdjust="spacingAndGlyphs">12.95</text>
<text x="58.50" y="332.70" font-size="31.32" textLength="87.63" lengthAdjust="spacingAndGlyphs">12.20</text>
<text x="58.50" y="485.20" font-size="31.69" textLength="87.63" lengthAdjust="spacingAndGlyphs">12.15</text>
<text x="58.60" y="612.20" font-size="31.32" textLength="88.02" lengthAdjust="spacingAndGlyphs">12.30</text>
<text x="58.60" y="763.70" font-size="31.69" textLength="88.04" lengthAdjust="spacingAndGlyphs">12.95</text>
<text x="58.60" y="916.40" font-size="31.32" textLength="88.02" lengthAdjust="spacingAndGlyphs">12.20</text>
<text x="58.60" y="1068.40" font-size="31.69" textLength="88.04" lengthAdjust="spacingAndGlyphs">12.15</text>
<text x="257.30" y="512.95" font-size="32.05" textLength="57.02" lengthAdjust="spacingAndGlyphs">197</text>
<text x="423.15" y="512.95" font-size="32.05" textLength="58.72" lengthAdjust="spacingAndGlyphs">199</text>
<text x="603.85" y="512.95" font-size="31.68" textLength="56.52" lengthAdjust="spacingAndGlyphs">201</text>
<text x="261.95" y="1096.45" font-size="32.05" textLength="58.31" lengthAdjust="spacingAndGlyphs">197</text>
<text x="426.30" y="1096.45" font-size="32.05" textLength="58.63" lengthAdjust="spacingAndGlyphs">199</text>
<text x="608.05" y="1096.45" font-size="31.68" textLength="57.02" lengthAdjust="spacingAndGlyphs">201</text>
<text x="686.30" y="58.40" font-size="31.63" textLength="87.11" lengthAdjust="spacingAndGlyphs">0.995</text>
<text x="686.30" y="129.90" font-size="31.63" textLength="86.85" lengthAdjust="spacingAndGlyphs">0.990</text>
<text x="686.30" y="200.50" font-size="31.63" textLength="87.11" lengthAdjust="spacingAndGlyphs">0.985</text>
<text x="686.30" y="272.50" font-size="31.63" textLength="86.85" lengthAdjust="spacingAndGlyphs">0.980</text>
<text x="686.30" y="342.80" font-size="31.63" textLength="87.11" lengthAdjust="spacingAndGlyphs">0.975</text>
<text x="686.30" y="413.90" font-size="31.63" textLength="86.85" lengthAdjust="spacingAndGlyphs">0.970</text>
<text x="686.30" y="482.70" font-size="31.63" textLength="87.11" lengthAdjust="spacingAndGlyphs">0.965</text>
<text x="690.55" y="641.30" font-size="32.36" textLength="49.01" lengthAdjust="spacingAndGlyphs">5.5</text>
<text x="692.05" y="720.80" font-size="31.99" textLength="47.30" lengthAdjust="spacingAndGlyphs">4.5</text>
<text x="690.80" y="800.00" font-size="31.99" textLength="48.70" lengthAdjust="spacingAndGlyphs">3.5</text>
<text x="691.05" y="878.20" font-size="31.99" textLength="48.43" lengthAdjust="spacingAndGlyphs">2.5</text>
<text x="689.30" y="957.00" font-size="31.99" textLength="50.22" lengthAdjust="spacingAndGlyphs">1.5</text>
<text x="691.30" y="1033.20" font-size="31.63" textLength="48.14" lengthAdjust="spacingAndGlyphs">0.5</text>
<text><tspan x="659.80" y="595.60" font-size="49.64" textLength="27.45" lengthAdjust="spacingAndGlyphs">×</tspan><tspan x="685.40" y="589.35" font-size="32.29" textLength="36.87" lengthAdjust="spacingAndGlyphs">10</tspan><tspan x="721.75" y="580.58" font-size="23.00" textLength="18.97" lengthAdjust="spacingAndGlyphs">−</tspan><tspan x="741.55" y="580.05" font-size="24.63" textLength="13.09" lengthAdjust="spacingAndGlyphs">3</tspan></text>
<text><tspan x="181.35" y="48.90" font-size="37.78" textLength="11.90" lengthAdjust="spacingAndGlyphs">(</tspan><tspan x="194.30" y="48.05" font-size="33.95" textLength="18.99" lengthAdjust="spacingAndGlyphs">a</tspan><tspan x="213.85" y="48.90" font-size="37.78" textLength="11.57" lengthAdjust="spacingAndGlyphs">)</tspan></text>
<text><tspan x="174.90" y="632.55" font-size="37.49" textLength="11.41" lengthAdjust="spacingAndGlyphs">(</tspan><tspan x="189.00" y="631.55" font-size="32.25" textLength="19.26" lengthAdjust="spacingAndGlyphs">b</tspan><tspan x="210.00" y="632.55" font-size="37.35" textLength="11.33" lengthAdjust="spacingAndGlyphs">)</tspan></text>
<text><tspan x="343.15" y="548.65" font-size="34.86" textLength="11.91" lengthAdjust="spacingAndGlyphs" font-style="italic">t</tspan><tspan x="356.95" y="553.50" font-size="23.06" textLength="50.47" lengthAdjust="spacingAndGlyphs">gate</tspan> <tspan x="421.05" y="549.65" font-size="37.58" textLength="12.20" lengthAdjust="spacingAndGlyphs">(</tspan><tspan x="434.95" y="548.65" font-size="32.36" textLength="36.00" lengthAdjust="spacingAndGlyphs">ns</tspan><tspan x="471.70" y="549.40" font-size="37.30" textLength="11.87" lengthAdjust="spacingAndGlyphs">)</tspan></text>
<text><tspan x="347.50" y="1132.15" font-size="34.86" textLength="11.91" lengthAdjust="spacingAndGlyphs" font-style="italic">t</tspan><tspan x="361.30" y="1137.00" font-size="23.06" textLength="50.73" lengthAdjust="spacingAndGlyphs">gate</tspan> <tspan x="425.90" y="1133.15" font-size="37.58" textLength="12.19" lengthAdjust="spacingAndGlyphs">(</tspan><tspan x="439.30" y="1132.15" font-size="32.36" textLength="36.02" lengthAdjust="spacingAndGlyphs">ns</tspan><tspan x="476.05" y="1132.90" font-size="37.30" textLength="12.19" lengthAdjust="spacingAndGlyphs">)</tspan></text>
<g transform="translate(32.10 364.20) rotate(-90)"><text><tspan x="1.50" y="0.00" font-size="36.67" textLength="25.11" lengthAdjust="spacingAndGlyphs" font-style="italic">Δ</tspan><tspan x="26.80" y="4.55" font-size="22.29" textLength="47.78" lengthAdjust="spacingAndGlyphs">over</tspan><tspan x="77.70" y="7.10" font-size="49.10" textLength="13.26" lengthAdjust="spacingAndGlyphs">/</tspan><tspan x="93.40" y="0.00" font-size="33.33" textLength="18.10" lengthAdjust="spacingAndGlyphs">2</tspan><tspan x="114.70" y="-0.25" font-size="32.46" textLength="14.51" lengthAdjust="spacingAndGlyphs" font-style="italic">π</tspan> <tspan x="144.00" y="0.15" font-size="36.98" textLength="11.71" lengthAdjust="spacingAndGlyphs">(</tspan><tspan x="158.20" y="0.00" font-size="35.08" textLength="77.36" lengthAdjust="spacingAndGlyphs">MHz</tspan><tspan x="236.55" y="0.15" font-size="36.98" textLength="11.83" lengthAdjust="spacingAndGlyphs">)</tspan></text></g>
<g transform="translate(28.50 943.60) rotate(-90)"><text><tspan x="1.50" y="0.00" font-size="36.67" textLength="25.11" lengthAdjust="spacingAndGlyphs" font-style="italic">Δ</tspan><tspan x="26.80" y="4.55" font-size="22.29" textLength="47.78" lengthAdjust="spacingAndGlyphs">over</tspan><tspan x="77.70" y="7.10" font-size="49.10" textLength="13.26" lengthAdjust="spacingAndGlyphs">/</tspan><tspan x="93.40" y="0.00" font-size="33.33" textLength="18.10" lengthAdjust="spacingAndGlyphs">2</tspan><tspan x="114.70" y="-0.25" font-size="32.46" textLength="14.51" lengthAdjust="spacingAndGlyphs" font-style="italic">π</tspan> <tspan x="144.00" y="0.15" font-size="36.98" textLength="11.71" lengthAdjust="spacingAndGlyphs">(</tspan><tspan x="158.20" y="0.00" font-size="35.08" textLength="77.36" lengthAdjust="spacingAndGlyphs">MHz</tspan><tspan x="236.55" y="0.15" font-size="36.98" textLength="11.83" lengthAdjust="spacingAndGlyphs">)</tspan></text></g>
</g>
</svg>
</body></html>
